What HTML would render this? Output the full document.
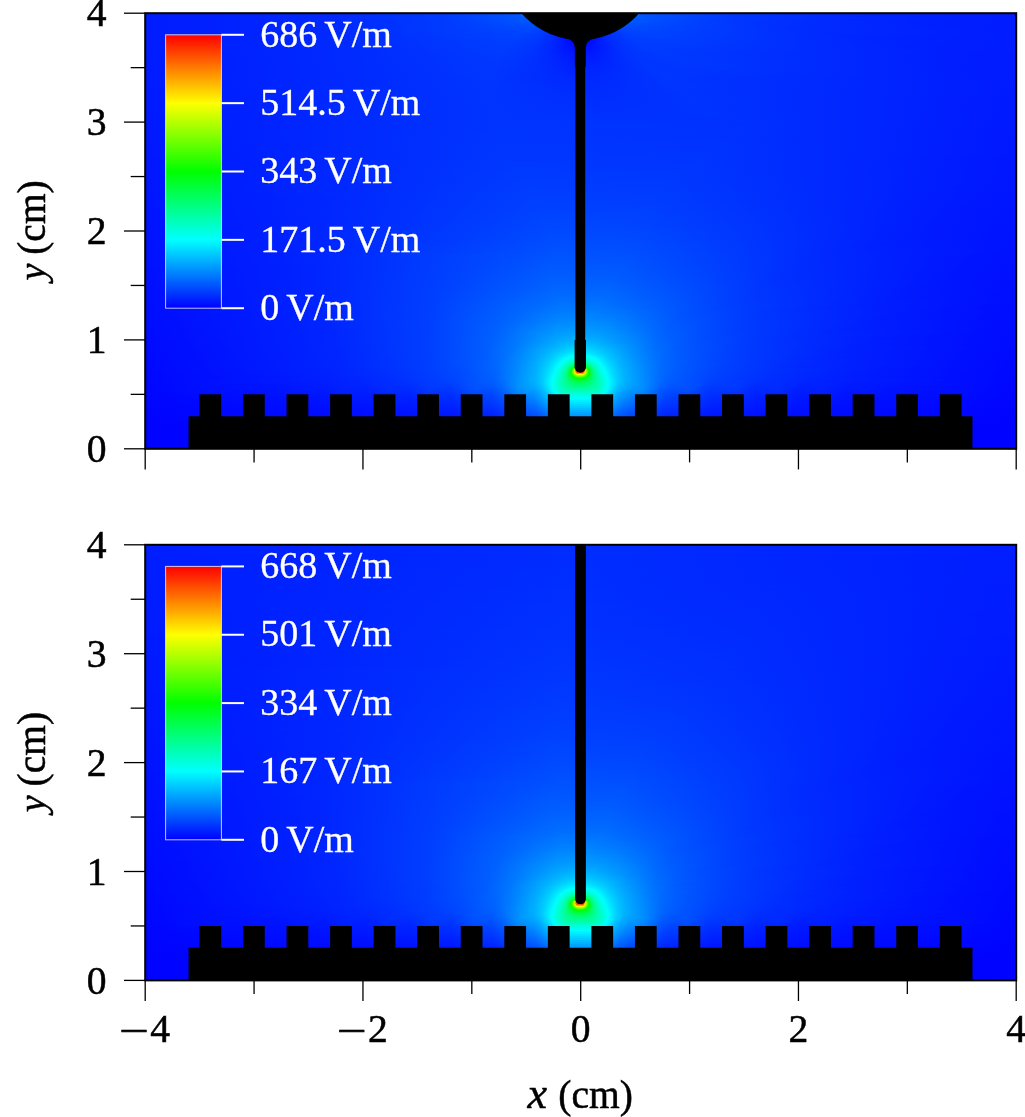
<!DOCTYPE html>
<html><head><meta charset="utf-8"><title>Field magnitude</title>
<style>
html,body{margin:0;padding:0;background:#fff;}
body{width:1025px;height:1117px;overflow:hidden;position:relative;font-family:"Liberation Serif",serif;}
svg{position:absolute;left:0;top:0;display:block}
.tk{stroke:#000;stroke-width:1.3}
.tl{font-family:"Liberation Serif",serif;font-size:39.6px;fill:#000;stroke:#000;stroke-width:0.5px}
.al{font-family:"Liberation Serif",serif;font-size:39.5px;fill:#000;stroke:#000;stroke-width:0.5px}
.it{font-style:italic}
.fld{position:absolute;left:145px;width:872px;height:436px;overflow:hidden;background:#0020ff}
.fld i{display:block;height:2px}
.fld i.a{height:1px}
.cb{font-family:"Liberation Serif",serif;font-size:38px;fill:#fff;stroke:#fff;stroke-width:0.3px}
</style></head><body>
<div class="fld" style="top:13px">
<i style="background:linear-gradient(90deg,#001cff 0,#0029ff 190px,#003bff 298px,#0053ff 368px,#0050ff 374px,#005fff 375px,#0073ff 376px,#0076ff 377px,#0062ff 380px,#0057ff 386px,#0056ff 389px,#0045ff 391px,#0041ff 393px,#0040ff 396px,#03f 410px,#0029ff 412px,#0027ff 416px,#001bff 419px,#0019ff 422px,#0015ff 425px,#000dff 427px,#000dff 430px,#0003ff 432px,#0003ff 438px,#000dff 440px,#000dff 443px,#0015ff 445px,#001bff 450px,#001bff 451px,#0027ff 454px,#0029ff 458px,#03f 460px,#0039ff 467px,#0041ff 477px,#0045ff 479px,#0056ff 481px,#005dff 488px,#0067ff 491px,#0076ff 493px,#0073ff 494px,#005fff 495px,#0050ff 496px,#0052ff 509px,#0039ff 580px,#0026ff 704px,#001cff 871px)"></i>
<i style="background:linear-gradient(90deg,#001cff 0,#0029ff 191px,#003cff 301px,#0054ff 373px,#0062ff 377px,#0057ff 385px,#0054ff 388px,#0045ff 390px,#0041ff 392px,#0041ff 395px,#0039ff 402px,#03f 409px,#0029ff 411px,#0028ff 415px,#001bff 419px,#001bff 421px,#0015ff 423px,#0014ff 425px,#000dff 427px,#000dff 429px,#0003ff 432px,#0005ff 439px,#000dff 441px,#0010ff 444px,#001bff 449px,#001bff 451px,#0028ff 455px,#0029ff 459px,#03f 461px,#0039ff 468px,#0042ff 477px,#0041ff 479px,#0045ff 480px,#0054ff 482px,#005fff 491px,#0062ff 493px,#0054ff 497px,#0038ff 586px,#0024ff 726px,#001cff 871px)"></i>
<i style="background:linear-gradient(90deg,#001cff 0,#0029ff 191px,#003cff 303px,#0054ff 373px,#005aff 379px,#05f 387px,#0041ff 389px,#0046ff 393px,#003dff 395px,#0038ff 404px,#03f 408px,#002aff 410px,#0026ff 415px,#001bff 418px,#0019ff 421px,#0015ff 424px,#000dff 426px,#000dff 429px,#0003ff 431px,#0003ff 439px,#000dff 441px,#000dff 444px,#0015ff 446px,#001bff 451px,#001bff 452px,#0029ff 456px,#002aff 460px,#03f 462px,#003aff 468px,#003dff 475px,#0046ff 477px,#0041ff 481px,#05f 483px,#005aff 493px,#0051ff 502px,#0036ff 593px,#0023ff 747px,#001cff 871px)"></i>
<i style="background:linear-gradient(90deg,#001cff 0,#0029ff 192px,#003cff 305px,#0056ff 385px,#0056ff 386px,#0041ff 388px,#0047ff 391px,#0045ff 392px,#003dff 394px,#003aff 401px,#0031ff 408px,#0029ff 410px,#0027ff 414px,#001bff 418px,#001bff 420px,#0015ff 422px,#0015ff 424px,#000dff 426px,#000dff 429px,#0003ff 431px,#0003ff 439px,#000dff 441px,#000dff 444px,#0015ff 446px,#0018ff 449px,#001fff 453px,#0029ff 457px,#0029ff 460px,#03f 463px,#003aff 469px,#003bff 473px,#003fff 477px,#0045ff 478px,#0047ff 479px,#0041ff 482px,#0056ff 484px,#0053ff 496px,#0039ff 577px,#0026ff 711px,#001cff 871px)"></i>
<i style="background:linear-gradient(90deg,#001cff 0,#0029ff 192px,#003cff 308px,#0054ff 382px,#0057ff 385px,#0042ff 387px,#004bff 390px,#0047ff 391px,#0040ff 392px,#0039ff 398px,#0038ff 402px,#0032ff 407px,#0029ff 409px,#0028ff 413px,#001bff 417px,#0019ff 420px,#0012ff 424px,#000dff 426px,#000dff 428px,#0003ff 431px,#0005ff 440px,#000dff 442px,#000eff 445px,#0015ff 447px,#001bff 452px,#001bff 453px,#0028ff 457px,#0029ff 461px,#0032ff 463px,#003aff 470px,#003cff 475px,#0040ff 478px,#0047ff 479px,#004bff 480px,#0042ff 483px,#0057ff 485px,#0049ff 518px,#0032ff 613px,#0020ff 782px,#001cff 871px)"></i>
<i style="background:linear-gradient(90deg,#001cff 0,#0029ff 193px,#003dff 311px,#0050ff 385px,#0048ff 387px,#004eff 389px,#0049ff 390px,#0040ff 391px,#003eff 392px,#003fff 394px,#0039ff 396px,#0038ff 401px,#03f 406px,#002aff 408px,#0029ff 412px,#001bff 417px,#001bff 419px,#0015ff 421px,#0015ff 423px,#000dff 425px,#000dff 428px,#0003ff 430px,#0003ff 440px,#000dff 442px,#000dff 445px,#0015ff 447px,#0015ff 449px,#001bff 451px,#001bff 453px,#0029ff 458px,#002aff 462px,#03f 464px,#003aff 472px,#003bff 475px,#0040ff 477px,#003eff 478px,#0040ff 479px,#0049ff 480px,#004eff 481px,#0048ff 483px,#0050ff 485px,#0032ff 613px,#0020ff 784px,#001cff 871px)"></i>
<i style="background:linear-gradient(90deg,#001cff 0,#0029ff 193px,#003dff 314px,#004cff 384px,#004dff 389px,#0040ff 391px,#04f 392px,#0042ff 393px,#003cff 394px,#003aff 395px,#003dff 397px,#0030ff 406px,#0029ff 408px,#0027ff 412px,#001fff 415px,#001bff 416px,#0019ff 419px,#0014ff 423px,#000dff 425px,#000dff 428px,#0003ff 430px,#0003ff 440px,#000dff 442px,#0010ff 446px,#0015ff 448px,#001bff 453px,#001bff 454px,#0024ff 456px,#0029ff 460px,#002bff 463px,#03f 465px,#003cff 474px,#003aff 475px,#003cff 476px,#0042ff 477px,#04f 478px,#0040ff 479px,#004dff 481px,#004cff 486px,#002eff 638px,#001eff 818px,#001cff 871px)"></i>
<i style="background:linear-gradient(90deg,#001cff 0,#0029ff 194px,#003eff 319px,#0049ff 383px,#0047ff 392px,#003cff 394px,#0040ff 395px,#0040ff 396px,#0036ff 400px,#0032ff 405px,#0029ff 407px,#0029ff 411px,#001fff 415px,#0015ff 421px,#0015ff 422px,#000dff 424px,#000dff 427px,#0003ff 430px,#0005ff 441px,#000dff 443px,#000dff 446px,#0015ff 448px,#0018ff 451px,#001fff 455px,#0029ff 460px,#0029ff 463px,#0032ff 465px,#003cff 473px,#0040ff 474px,#0040ff 475px,#003cff 476px,#0047ff 478px,#0049ff 500px,#002eff 641px,#001eff 823px,#001cff 871px)"></i>
<i style="background:linear-gradient(90deg,#001cff 0,#0029ff 194px,#003eff 324px,#0047ff 381px,#0042ff 394px,#04f 395px,#0036ff 399px,#0032ff 404px,#0029ff 406px,#002aff 410px,#001fff 414px,#001bff 415px,#0019ff 418px,#0015ff 422px,#000dff 424px,#000dff 427px,#0004ff 429px,#0004ff 441px,#000dff 443px,#000dff 446px,#0015ff 448px,#001bff 455px,#0024ff 457px,#0029ff 461px,#0029ff 464px,#0032ff 466px,#0039ff 472px,#04f 475px,#04f 480px,#0047ff 501px,#002cff 656px,#001dff 840px,#001cff 871px)"></i>
<i style="background:linear-gradient(90deg,#001cff 0,#0029ff 194px,#003fff 331px,#0045ff 381px,#003dff 397px,#0031ff 404px,#0029ff 406px,#002aff 409px,#0024ff 412px,#001bff 415px,#0018ff 418px,#0012ff 422px,#000dff 424px,#000bff 427px,#0003ff 430px,#0004ff 441px,#000dff 444px,#000eff 447px,#0015ff 449px,#0018ff 452px,#001eff 456px,#002aff 461px,#0029ff 464px,#0032ff 467px,#003fff 475px,#0045ff 499px,#0029ff 683px,#001cff 871px)"></i>
<i style="background:linear-gradient(90deg,#001cff 0,#002aff 195px,#0043ff 374px,#003bff 396px,#0032ff 404px,#002cff 405px,#002aff 409px,#001bff 415px,#01f 422px,#000dff 425px,#000aff 427px,#0003ff 430px,#0004ff 441px,#000dff 444px,#000eff 447px,#0015ff 450px,#001dff 456px,#0024ff 458px,#002bff 463px,#002cff 465px,#0035ff 467px,#0042ff 487px,#0041ff 525px,#0029ff 680px,#001cff 871px)"></i>
<i style="background:linear-gradient(90deg,#001cff 0,#002aff 195px,#0042ff 371px,#003aff 394px,#002bff 409px,#0026ff 410px,#0025ff 412px,#001cff 415px,#0010ff 422px,#0003ff 430px,#0004ff 441px,#0015ff 450px,#001aff 453px,#001dff 456px,#0025ff 458px,#0026ff 460px,#002dff 462px,#003eff 483px,#0042ff 512px,#0026ff 705px,#001cff 871px)"></i>
<i style="background:linear-gradient(90deg,#001cff 0,#002aff 196px,#0041ff 368px,#0039ff 393px,#0025ff 412px,#001fff 414px,#001eff 416px,#0017ff 418px,#0014ff 421px,#000dff 424px,#0003ff 430px,#0004ff 441px,#001aff 453px,#001fff 455px,#0021ff 457px,#002bff 462px,#003cff 483px,#0041ff 512px,#0024ff 724px,#001cff 871px)"></i>
<i style="background:linear-gradient(90deg,#001cff 0,#002aff 196px,#003fff 366px,#0038ff 392px,#0024ff 411px,#0008ff 427px,#0003ff 431px,#0004ff 441px,#001fff 456px,#0032ff 471px,#003eff 494px,#003dff 541px,#0024ff 726px,#001cff 871px)"></i>
<i style="background:linear-gradient(90deg,#001cff 0,#002aff 197px,#003eff 364px,#0037ff 391px,#0025ff 410px,#0006ff 430px,#0008ff 442px,#002dff 467px,#003cff 490px,#003dff 529px,#0023ff 739px,#001cff 871px)"></i>
<i style="background:linear-gradient(90deg,#001cff 0,#002aff 197px,#003eff 362px,#0036ff 390px,#0025ff 409px,#000aff 430px,#000cff 443px,#002fff 470px,#003cff 495px,#003bff 542px,#02f 751px,#001cff 871px)"></i>
<i style="background:linear-gradient(90deg,#001cff 0,#002aff 198px,#003dff 360px,#0035ff 390px,#0023ff 410px,#000dff 429px,#000fff 444px,#0030ff 473px,#003cff 499px,#0039ff 553px,#0021ff 763px,#001cff 871px)"></i>
<i style="background:linear-gradient(90deg,#001cff 0,#002aff 198px,#003cff 358px,#0034ff 389px,#0023ff 410px,#0010ff 429px,#0012ff 445px,#0031ff 475px,#003bff 503px,#0037ff 565px,#0020ff 774px,#001cff 871px)"></i>
<i style="background:linear-gradient(90deg,#001cff 0,#002aff 199px,#003bff 357px,#03f 389px,#0021ff 412px,#0012ff 429px,#0015ff 446px,#0031ff 477px,#003bff 507px,#0035ff 581px,#0020ff 788px,#001cff 871px)"></i>
<i style="background:linear-gradient(90deg,#001bff 0,#002aff 199px,#003bff 355px,#03f 389px,#001eff 415px,#0014ff 430px,#0017ff 447px,#0032ff 480px,#003aff 513px,#002fff 627px,#001dff 827px,#001bff 871px)"></i>
<i style="background:linear-gradient(90deg,#001bff 0,#002aff 200px,#003aff 354px,#0032ff 389px,#0017ff 429px,#001aff 448px,#0032ff 482px,#003aff 517px,#001eff 810px,#001bff 871px)"></i>
<i style="background:linear-gradient(90deg,#001bff 0,#002aff 200px,#0039ff 353px,#0031ff 389px,#0019ff 429px,#001cff 449px,#03f 484px,#0039ff 522px,#001eff 810px,#001bff 871px)"></i>
<i style="background:linear-gradient(90deg,#001bff 0,#002aff 201px,#0039ff 352px,#0031ff 389px,#001aff 429px,#001dff 450px,#03f 487px,#0039ff 528px,#001eff 810px,#001bff 871px)"></i>
<i style="background:linear-gradient(90deg,#001bff 0,#002aff 201px,#0038ff 350px,#0030ff 389px,#001cff 429px,#0020ff 452px,#0034ff 490px,#0038ff 535px,#001eff 810px,#001bff 871px)"></i>
<i style="background:linear-gradient(90deg,#001bff 0,#002aff 202px,#0038ff 350px,#0030ff 390px,#001dff 429px,#0021ff 453px,#0034ff 493px,#0038ff 542px,#001eff 811px,#001bff 871px)"></i>
<i style="background:linear-gradient(90deg,#001bff 0,#002aff 202px,#0038ff 349px,#002fff 391px,#001fff 429px,#0023ff 454px,#0034ff 496px,#0037ff 549px,#001eff 812px,#001bff 871px)"></i>
<i style="background:linear-gradient(90deg,#001bff 0,#002aff 203px,#0037ff 348px,#002fff 391px,#0020ff 429px,#0024ff 456px,#0035ff 500px,#0036ff 559px,#001eff 814px,#001bff 871px)"></i>
<i style="background:linear-gradient(90deg,#001bff 0,#002aff 204px,#0037ff 347px,#002eff 392px,#0021ff 430px,#0026ff 458px,#0035ff 504px,#0035ff 569px,#001dff 817px,#001bff 871px)"></i>
<i style="background:linear-gradient(90deg,#001bff 0,#002aff 204px,#0037ff 346px,#002eff 393px,#02f 430px,#0027ff 459px,#0035ff 507px,#0034ff 578px,#001dff 821px,#001bff 871px)"></i>
<i style="background:linear-gradient(90deg,#001bff 0,#002aff 205px,#0036ff 346px,#002dff 395px,#0023ff 431px,#0029ff 462px,#0035ff 511px,#0032ff 591px,#001dff 826px,#001bff 871px)"></i>
<i style="background:linear-gradient(90deg,#001bff 0,#002aff 205px,#0036ff 345px,#002dff 396px,#0024ff 433px,#002aff 466px,#0036ff 517px,#0030ff 615px,#001cff 837px,#001bff 871px)"></i>
<i style="background:linear-gradient(90deg,#001bff 0,#002aff 206px,#0036ff 345px,#002cff 399px,#0025ff 435px,#002dff 472px,#0036ff 525px,#002aff 668px,#001bff 871px)"></i>
<i style="background:linear-gradient(90deg,#001bff 0,#002aff 206px,#0035ff 345px,#002cff 402px,#0026ff 439px,#0035ff 522px,#002cff 644px,#001bff 853px,#001bff 871px)"></i>
<i style="background:linear-gradient(90deg,#001bff 0,#002aff 207px,#0035ff 344px,#002cff 404px,#0027ff 443px,#0035ff 523px,#002cff 650px,#001bff 857px,#001bff 871px)"></i>
<i style="background:linear-gradient(90deg,#001bff 0,#002aff 207px,#0035ff 344px,#002bff 408px,#0029ff 450px,#0035ff 524px,#002bff 654px,#001bff 861px,#001bff 871px)"></i>
<i style="background:linear-gradient(90deg,#001bff 0,#002aff 207px,#0035ff 344px,#0029ff 440px,#0035ff 530px,#001bff 863px,#001bff 871px)"></i>
<i style="background:linear-gradient(90deg,#001bff 0,#002aff 208px,#0035ff 344px,#0029ff 442px,#0035ff 532px,#001bff 863px,#001bff 871px)"></i>
<i style="background:linear-gradient(90deg,#001aff 0,#002aff 208px,#0035ff 344px,#002aff 443px,#0035ff 534px,#001bff 863px,#001aff 871px)"></i>
<i style="background:linear-gradient(90deg,#001aff 0,#002aff 209px,#0034ff 344px,#002bff 444px,#0034ff 537px,#001bff 862px,#001aff 871px)"></i>
<i style="background:linear-gradient(90deg,#001aff 0,#002aff 209px,#0034ff 344px,#002bff 445px,#0034ff 539px,#001bff 862px,#001aff 871px)"></i>
<i style="background:linear-gradient(90deg,#001aff 0,#002aff 209px,#0034ff 344px,#002cff 447px,#0034ff 541px,#001bff 862px,#001aff 871px)"></i>
<i style="background:linear-gradient(90deg,#001aff 0,#002aff 210px,#0034ff 344px,#002cff 448px,#0034ff 543px,#001aff 862px,#001aff 871px)"></i>
<i style="background:linear-gradient(90deg,#001aff 0,#002aff 210px,#0034ff 344px,#002dff 449px,#0034ff 546px,#001aff 862px,#001aff 871px)"></i>
<i style="background:linear-gradient(90deg,#001aff 0,#002aff 210px,#0034ff 345px,#002dff 451px,#0034ff 548px,#001aff 861px,#001aff 871px)"></i>
<i style="background:linear-gradient(90deg,#001aff 0,#002aff 210px,#0034ff 345px,#002eff 453px,#0034ff 550px,#001aff 861px,#001aff 871px)"></i>
<i style="background:linear-gradient(90deg,#001aff 0,#002aff 211px,#0034ff 346px,#002eff 454px,#0034ff 552px,#001aff 861px,#001aff 871px)"></i>
<i style="background:linear-gradient(90deg,#001aff 0,#002aff 211px,#0034ff 346px,#002fff 457px,#03f 555px,#001aff 860px,#001aff 871px)"></i>
<i style="background:linear-gradient(90deg,#001aff 0,#002aff 211px,#0034ff 346px,#002fff 459px,#03f 557px,#001aff 860px,#001aff 871px)"></i>
<i style="background:linear-gradient(90deg,#001aff 0,#002aff 211px,#0034ff 347px,#0030ff 461px,#03f 560px,#001aff 859px,#001aff 871px)"></i>
<i style="background:linear-gradient(90deg,#001aff 0,#002aff 211px,#0034ff 347px,#0030ff 464px,#03f 564px,#001aff 858px,#001aff 871px)"></i>
<i style="background:linear-gradient(90deg,#0019ff 0,#002aff 211px,#0034ff 348px,#0031ff 467px,#03f 567px,#001aff 858px,#0019ff 871px)"></i>
<i style="background:linear-gradient(90deg,#0019ff 0,#002aff 211px,#0034ff 348px,#0031ff 470px,#0032ff 571px,#001aff 857px,#0019ff 871px)"></i>
<i style="background:linear-gradient(90deg,#0019ff 0,#002aff 211px,#0034ff 349px,#0032ff 473px,#0032ff 575px,#001aff 856px,#0019ff 871px)"></i>
<i style="background:linear-gradient(90deg,#0019ff 0,#002aff 211px,#0034ff 350px,#0032ff 478px,#0032ff 581px,#001aff 855px,#0019ff 871px)"></i>
<i style="background:linear-gradient(90deg,#0019ff 0,#002aff 211px,#0034ff 350px,#03f 483px,#0031ff 589px,#001aff 854px,#0019ff 871px)"></i>
<i style="background:linear-gradient(90deg,#0019ff 0,#002aff 211px,#0034ff 351px,#03f 489px,#0030ff 598px,#001aff 853px,#0019ff 871px)"></i>
<i style="background:linear-gradient(90deg,#0019ff 0,#002aff 210px,#0034ff 351px,#0034ff 499px,#002fff 616px,#001aff 854px,#0019ff 871px)"></i>
<i style="background:linear-gradient(90deg,#0019ff 0,#002aff 210px,#0034ff 352px,#0032ff 582px,#001aff 855px,#0019ff 871px)"></i>
<i style="background:linear-gradient(90deg,#0019ff 0,#002aff 210px,#0034ff 353px,#0032ff 582px,#0019ff 855px,#0019ff 871px)"></i>
<i style="background:linear-gradient(90deg,#0019ff 0,#002aff 210px,#0035ff 354px,#0032ff 581px,#0019ff 855px,#0019ff 871px)"></i>
<i style="background:linear-gradient(90deg,#0019ff 0,#002aff 209px,#0035ff 355px,#0032ff 580px,#0019ff 855px,#0019ff 871px)"></i>
<i style="background:linear-gradient(90deg,#0019ff 0,#002aff 209px,#0035ff 355px,#0032ff 579px,#0019ff 855px,#0019ff 871px)"></i>
<i style="background:linear-gradient(90deg,#0018ff 0,#002aff 208px,#0035ff 356px,#0032ff 577px,#0019ff 855px,#0018ff 871px)"></i>
<i style="background:linear-gradient(90deg,#0018ff 0,#002aff 208px,#0035ff 357px,#0032ff 576px,#0019ff 854px,#0018ff 871px)"></i>
<i style="background:linear-gradient(90deg,#0018ff 0,#002aff 207px,#0035ff 358px,#03f 575px,#0019ff 854px,#0018ff 871px)"></i>
<i style="background:linear-gradient(90deg,#0018ff 0,#002aff 207px,#0036ff 359px,#03f 573px,#0019ff 854px,#0018ff 871px)"></i>
<i style="background:linear-gradient(90deg,#0018ff 0,#002aff 206px,#0036ff 359px,#03f 571px,#0019ff 854px,#0018ff 871px)"></i>
<i style="background:linear-gradient(90deg,#0018ff 0,#002aff 206px,#0036ff 361px,#03f 570px,#0019ff 853px,#0018ff 871px)"></i>
<i style="background:linear-gradient(90deg,#0018ff 0,#002aff 205px,#0036ff 361px,#03f 568px,#0019ff 853px,#0018ff 871px)"></i>
<i style="background:linear-gradient(90deg,#0018ff 0,#0029ff 204px,#0036ff 362px,#0034ff 566px,#0019ff 853px,#0018ff 871px)"></i>
<i style="background:linear-gradient(90deg,#0018ff 0,#0029ff 203px,#0037ff 363px,#0034ff 563px,#0019ff 853px,#0018ff 871px)"></i>
<i style="background:linear-gradient(90deg,#0018ff 0,#0029ff 203px,#0037ff 364px,#0034ff 561px,#0018ff 852px,#0018ff 871px)"></i>
<i style="background:linear-gradient(90deg,#0017ff 0,#0029ff 202px,#0037ff 365px,#0035ff 558px,#0018ff 852px,#0017ff 871px)"></i>
<i style="background:linear-gradient(90deg,#0017ff 0,#0029ff 202px,#0037ff 366px,#0035ff 556px,#0018ff 852px,#0017ff 871px)"></i>
<i style="background:linear-gradient(90deg,#0017ff 0,#0029ff 201px,#0038ff 367px,#0035ff 553px,#0018ff 851px,#0017ff 871px)"></i>
<i style="background:linear-gradient(90deg,#0017ff 0,#0029ff 200px,#0038ff 368px,#0036ff 550px,#0018ff 851px,#0017ff 871px)"></i>
<i style="background:linear-gradient(90deg,#0017ff 0,#0029ff 199px,#0038ff 369px,#0036ff 547px,#0018ff 850px,#0017ff 871px)"></i>
<i style="background:linear-gradient(90deg,#0017ff 0,#0029ff 199px,#0039ff 371px,#0036ff 544px,#0018ff 850px,#0017ff 871px)"></i>
<i style="background:linear-gradient(90deg,#0017ff 0,#0029ff 198px,#0039ff 372px,#0037ff 541px,#0018ff 849px,#0017ff 871px)"></i>
<i style="background:linear-gradient(90deg,#0017ff 0,#0029ff 197px,#0039ff 373px,#0037ff 537px,#0018ff 849px,#0017ff 871px)"></i>
<i style="background:linear-gradient(90deg,#0017ff 0,#0029ff 196px,#003aff 374px,#0038ff 534px,#0018ff 848px,#0017ff 871px)"></i>
<i style="background:linear-gradient(90deg,#0016ff 0,#0029ff 196px,#003aff 375px,#0038ff 531px,#0018ff 848px,#0016ff 871px)"></i>
<i style="background:linear-gradient(90deg,#0016ff 0,#0028ff 195px,#003aff 376px,#0038ff 528px,#0018ff 847px,#0016ff 871px)"></i>
<i style="background:linear-gradient(90deg,#0016ff 0,#0028ff 194px,#003bff 378px,#0039ff 526px,#0018ff 846px,#0016ff 871px)"></i>
<i style="background:linear-gradient(90deg,#0016ff 0,#0028ff 193px,#003bff 379px,#0039ff 523px,#0018ff 845px,#0016ff 871px)"></i>
<i style="background:linear-gradient(90deg,#0016ff 0,#0028ff 193px,#003cff 380px,#003aff 520px,#0018ff 844px,#0016ff 871px)"></i>
<i style="background:linear-gradient(90deg,#0016ff 0,#0028ff 192px,#003cff 382px,#003aff 519px,#0018ff 842px,#0016ff 871px)"></i>
<i style="background:linear-gradient(90deg,#0016ff 0,#0028ff 191px,#003dff 383px,#003bff 516px,#0017ff 841px,#0016ff 871px)"></i>
<i style="background:linear-gradient(90deg,#0016ff 0,#0028ff 190px,#003dff 384px,#003bff 514px,#0018ff 839px,#0016ff 871px)"></i>
<i style="background:linear-gradient(90deg,#0016ff 0,#0028ff 189px,#003eff 386px,#003cff 513px,#0018ff 837px,#0016ff 871px)"></i>
<i style="background:linear-gradient(90deg,#0015ff 0,#0028ff 189px,#003eff 387px,#003cff 511px,#0018ff 835px,#0015ff 871px)"></i>
<i style="background:linear-gradient(90deg,#0015ff 0,#0028ff 188px,#003fff 389px,#003dff 510px,#0018ff 833px,#0015ff 871px)"></i>
<i style="background:linear-gradient(90deg,#0015ff 0,#0027ff 187px,#003fff 390px,#003dff 508px,#0018ff 831px,#0015ff 871px)"></i>
<i style="background:linear-gradient(90deg,#0015ff 0,#0027ff 187px,#0040ff 392px,#003dff 508px,#0018ff 828px,#0015ff 871px)"></i>
<i style="background:linear-gradient(90deg,#0015ff 0,#0027ff 186px,#0040ff 393px,#003eff 506px,#0018ff 826px,#0015ff 871px)"></i>
<i style="background:linear-gradient(90deg,#0015ff 0,#0027ff 185px,#0041ff 394px,#003eff 505px,#0018ff 824px,#0015ff 871px)"></i>
<i style="background:linear-gradient(90deg,#0015ff 0,#0027ff 184px,#0041ff 396px,#003fff 505px,#0018ff 821px,#0015ff 871px)"></i>
<i style="background:linear-gradient(90deg,#0015ff 0,#0027ff 184px,#0042ff 397px,#0040ff 503px,#0018ff 818px,#0015ff 871px)"></i>
<i style="background:linear-gradient(90deg,#0014ff 0,#0027ff 183px,#0042ff 398px,#0040ff 502px,#0018ff 815px,#0014ff 871px)"></i>
<i style="background:linear-gradient(90deg,#0014ff 0,#0027ff 182px,#0043ff 400px,#0040ff 502px,#0018ff 812px,#0014ff 871px)"></i>
<i style="background:linear-gradient(90deg,#0014ff 0,#0027ff 182px,#04f 401px,#0041ff 501px,#0019ff 809px,#0014ff 871px)"></i>
<i style="background:linear-gradient(90deg,#0014ff 0,#0027ff 181px,#04f 402px,#0042ff 500px,#0019ff 806px,#0014ff 871px)"></i>
<i style="background:linear-gradient(90deg,#0014ff 0,#0026ff 180px,#0045ff 403px,#0042ff 499px,#0019ff 803px,#0014ff 871px)"></i>
<i style="background:linear-gradient(90deg,#0014ff 0,#0026ff 180px,#0046ff 404px,#0043ff 498px,#0019ff 800px,#0014ff 871px)"></i>
<i style="background:linear-gradient(90deg,#0014ff 0,#0026ff 179px,#0046ff 405px,#0043ff 497px,#0019ff 796px,#0014ff 871px)"></i>
<i style="background:linear-gradient(90deg,#0014ff 0,#0026ff 179px,#0047ff 406px,#04f 496px,#001aff 793px,#0013ff 871px)"></i>
<i style="background:linear-gradient(90deg,#0013ff 0,#0026ff 178px,#0048ff 407px,#0045ff 495px,#001aff 789px,#0013ff 871px)"></i>
<i style="background:linear-gradient(90deg,#0013ff 0,#0026ff 177px,#0048ff 408px,#0045ff 495px,#001aff 785px,#0013ff 871px)"></i>
<i style="background:linear-gradient(90deg,#0013ff 0,#0026ff 177px,#0049ff 409px,#0046ff 494px,#001bff 781px,#0013ff 871px)"></i>
<i style="background:linear-gradient(90deg,#0013ff 0,#0026ff 176px,#004aff 409px,#0047ff 492px,#001bff 777px,#0013ff 871px)"></i>
<i style="background:linear-gradient(90deg,#0013ff 0,#0026ff 176px,#004bff 410px,#0048ff 492px,#001bff 773px,#0013ff 871px)"></i>
<i style="background:linear-gradient(90deg,#0013ff 0,#0026ff 175px,#004bff 410px,#0048ff 490px,#001cff 768px,#0013ff 871px)"></i>
<i style="background:linear-gradient(90deg,#0013ff 0,#0026ff 175px,#004cff 411px,#0049ff 490px,#001cff 764px,#0013ff 871px)"></i>
<i style="background:linear-gradient(90deg,#0012ff 0,#0025ff 174px,#004dff 411px,#004aff 488px,#001dff 756px,#0012ff 871px)"></i>
<i style="background:linear-gradient(90deg,#0012ff 0,#0025ff 174px,#004eff 412px,#004bff 488px,#001eff 747px,#0012ff 871px)"></i>
<i style="background:linear-gradient(90deg,#0012ff 0,#0025ff 173px,#004fff 412px,#004cff 486px,#001fff 738px,#0012ff 871px)"></i>
<i style="background:linear-gradient(90deg,#0012ff 0,#0025ff 173px,#0050ff 413px,#004dff 486px,#0020ff 729px,#0012ff 871px)"></i>
<i style="background:linear-gradient(90deg,#0012ff 0,#0025ff 172px,#0051ff 413px,#004eff 484px,#02f 720px,#0012ff 871px)"></i>
<i style="background:linear-gradient(90deg,#0012ff 0,#0025ff 172px,#0052ff 413px,#004eff 484px,#0023ff 710px,#0012ff 871px)"></i>
<i style="background:linear-gradient(90deg,#0012ff 0,#0025ff 172px,#0052ff 413px,#004fff 484px,#0025ff 700px,#0012ff 871px)"></i>
<i style="background:linear-gradient(90deg,#01f 0,#0025ff 171px,#004aff 358px,#0054ff 421px,#004fff 489px,#0027ff 688px,#0012ff 859px,#01f 871px)"></i>
<i style="background:linear-gradient(90deg,#01f 0,#0025ff 171px,#0049ff 350px,#0054ff 416px,#0051ff 486px,#0028ff 678px,#0013ff 848px,#01f 871px)"></i>
<i style="background:linear-gradient(90deg,#01f 0,#0025ff 171px,#0048ff 344px,#05f 412px,#0052ff 483px,#002aff 670px,#0013ff 839px,#01f 871px)"></i>
<i style="background:linear-gradient(90deg,#01f 0,#0025ff 170px,#0047ff 337px,#05f 409px,#0053ff 480px,#002bff 666px,#0014ff 834px,#01f 871px)"></i>
<i style="background:linear-gradient(90deg,#01f 0,#0025ff 170px,#0046ff 332px,#0056ff 407px,#0054ff 477px,#002bff 663px,#0014ff 829px,#01f 871px)"></i>
<i style="background:linear-gradient(90deg,#01f 0,#0025ff 170px,#0045ff 328px,#0057ff 406px,#0056ff 475px,#002cff 658px,#0015ff 823px,#01f 871px)"></i>
<i style="background:linear-gradient(90deg,#01f 0,#0024ff 170px,#0045ff 324px,#0058ff 405px,#0057ff 473px,#002cff 656px,#0015ff 821px,#0010ff 871px)"></i>
<i style="background:linear-gradient(90deg,#0010ff 0,#0024ff 169px,#04f 320px,#0059ff 405px,#0058ff 471px,#002dff 653px,#0015ff 819px,#0010ff 871px)"></i>
<i style="background:linear-gradient(90deg,#0010ff 0,#0024ff 169px,#04f 317px,#005aff 405px,#0059ff 470px,#002eff 650px,#0015ff 816px,#0010ff 871px)"></i>
<i style="background:linear-gradient(90deg,#0010ff 0,#0024ff 169px,#0043ff 315px,#005bff 406px,#005aff 470px,#002eff 646px,#0015ff 812px,#0010ff 871px)"></i>
<i style="background:linear-gradient(90deg,#0010ff 0,#0024ff 169px,#0043ff 312px,#005cff 406px,#005bff 468px,#002fff 643px,#0015ff 809px,#0010ff 871px)"></i>
<i style="background:linear-gradient(90deg,#0010ff 0,#0024ff 169px,#0043ff 310px,#005dff 407px,#005cff 468px,#0030ff 639px,#0016ff 804px,#0010ff 871px)"></i>
<i style="background:linear-gradient(90deg,#0010ff 0,#0024ff 169px,#0042ff 308px,#005eff 407px,#005eff 467px,#0030ff 636px,#0016ff 801px,#0010ff 871px)"></i>
<i style="background:linear-gradient(90deg,#000fff 0,#0024ff 169px,#0042ff 306px,#0060ff 408px,#005fff 466px,#0031ff 632px,#0017ff 796px,#000fff 871px)"></i>
<i style="background:linear-gradient(90deg,#000fff 0,#0024ff 169px,#0042ff 304px,#0061ff 408px,#0060ff 465px,#0032ff 629px,#0017ff 792px,#000fff 871px)"></i>
<i style="background:linear-gradient(90deg,#000fff 0,#0024ff 169px,#0042ff 302px,#0062ff 409px,#0062ff 464px,#03f 625px,#0017ff 787px,#000fff 871px)"></i>
<i style="background:linear-gradient(90deg,#000fff 0,#0024ff 169px,#0041ff 300px,#0063ff 409px,#0063ff 463px,#0034ff 622px,#0018ff 783px,#000fff 871px)"></i>
<i style="background:linear-gradient(90deg,#000fff 0,#0024ff 169px,#0041ff 299px,#0065ff 410px,#0065ff 463px,#0035ff 618px,#0018ff 777px,#000fff 871px)"></i>
<i style="background:linear-gradient(90deg,#000fff 0,#0024ff 169px,#0041ff 297px,#06f 410px,#06f 462px,#0036ff 614px,#0019ff 771px,#000fff 871px)"></i>
<i style="background:linear-gradient(90deg,#000eff 0,#0024ff 169px,#0041ff 296px,#0068ff 411px,#0068ff 461px,#0036ff 611px,#001aff 766px,#000eff 871px)"></i>
<i style="background:linear-gradient(90deg,#000eff 0,#0024ff 170px,#0041ff 295px,#006aff 412px,#0069ff 461px,#0038ff 606px,#001bff 759px,#000eff 871px)"></i>
<i style="background:linear-gradient(90deg,#000eff 0,#0024ff 170px,#0041ff 294px,#006bff 412px,#006bff 460px,#0039ff 603px,#001bff 754px,#000eff 871px)"></i>
<i style="background:linear-gradient(90deg,#000eff 0,#0024ff 170px,#0040ff 292px,#006dff 413px,#006dff 459px,#003aff 599px,#001cff 747px,#000eff 871px)"></i>
<i style="background:linear-gradient(90deg,#000eff 0,#0024ff 171px,#0040ff 292px,#006fff 413px,#006fff 458px,#003bff 596px,#001dff 742px,#000eff 871px)"></i>
<i style="background:linear-gradient(90deg,#000eff 0,#0024ff 171px,#0040ff 290px,#0071ff 414px,#0071ff 458px,#003cff 591px,#001fff 729px,#000eff 871px)"></i>
<i style="background:linear-gradient(90deg,#000dff 0,#0024ff 172px,#0040ff 290px,#06f 379px,#0074ff 420px,#0072ff 461px,#003fff 583px,#0023ff 706px,#000dff 871px)"></i>
<i style="background:linear-gradient(90deg,#000dff 0,#0024ff 172px,#0040ff 289px,#0064ff 374px,#0076ff 416px,#0075ff 457px,#005eff 508px,#003cff 595px,#001eff 735px,#000dff 871px)"></i>
<i style="background:linear-gradient(90deg,#000dff 0,#0024ff 173px,#0040ff 288px,#0063ff 370px,#07f 414px,#0078ff 454px,#0065ff 496px,#0042ff 574px,#0028ff 677px,#000fff 845px,#000dff 871px)"></i>
<i style="background:linear-gradient(90deg,#000dff 0,#0024ff 174px,#0040ff 288px,#0063ff 368px,#0079ff 413px,#007bff 451px,#006bff 489px,#004aff 555px,#0030ff 639px,#0016ff 789px,#000dff 871px)"></i>
<i style="background:linear-gradient(90deg,#000dff 0,#0024ff 174px,#0040ff 287px,#0062ff 365px,#007bff 412px,#007eff 448px,#006fff 484px,#0050ff 542px,#0035ff 618px,#001aff 761px,#000dff 871px)"></i>
<i style="background:linear-gradient(90deg,#000dff 0,#0024ff 175px,#003fff 286px,#0062ff 363px,#007eff 412px,#0081ff 446px,#0073ff 480px,#0053ff 537px,#0037ff 612px,#001bff 752px,#000dff 871px)"></i>
<i style="background:linear-gradient(90deg,#000cff 0,#0024ff 176px,#0040ff 286px,#0062ff 361px,#0080ff 412px,#0084ff 444px,#0078ff 476px,#0054ff 534px,#0038ff 609px,#001bff 747px,#000cff 871px)"></i>
<i style="background:linear-gradient(90deg,#000cff 0,#0025ff 177px,#0040ff 286px,#0062ff 360px,#0083ff 412px,#0087ff 442px,#007cff 472px,#0056ff 532px,#0038ff 607px,#001cff 743px,#000cff 871px)"></i>
<i style="background:linear-gradient(90deg,#000cff 0,#0025ff 178px,#003fff 285px,#0061ff 358px,#0086ff 412px,#008aff 440px,#0081ff 467px,#0057ff 531px,#0039ff 606px,#001cff 740px,#000cff 871px)"></i>
<i style="background:linear-gradient(90deg,#000cff 0,#0025ff 179px,#0040ff 285px,#0061ff 357px,#0089ff 413px,#008eff 440px,#0085ff 466px,#0058ff 529px,#003aff 603px,#001dff 735px,#000cff 871px)"></i>
<i style="background:linear-gradient(90deg,#000cff 0,#0025ff 180px,#0040ff 285px,#0062ff 356px,#008dff 413px,#0091ff 440px,#0089ff 463px,#005aff 527px,#003bff 600px,#001eff 730px,#000cff 871px)"></i>
<i style="background:linear-gradient(90deg,#000cff 0,#0025ff 181px,#003fff 284px,#0061ff 354px,#0090ff 413px,#0094ff 441px,#008bff 465px,#005cff 524px,#003cff 596px,#0020ff 718px,#000cff 871px)"></i>
<i style="background:linear-gradient(90deg,#000bff 0,#0025ff 182px,#003fff 284px,#0061ff 353px,#0092ff 412px,#0097ff 436px,#0091ff 460px,#005cff 524px,#003cff 595px,#0020ff 714px,#000bff 871px)"></i>
<i style="background:linear-gradient(90deg,#000bff 0,#0025ff 183px,#003fff 284px,#0061ff 352px,#0094ff 410px,#009bff 432px,#0096ff 456px,#0083ff 480px,#005fff 521px,#003eff 590px,#0023ff 699px,#000bff 871px)"></i>
<i class="a" style="background:linear-gradient(90deg,#000bff 0,#0025ff 184px,#003fff 284px,#0061ff 351px,#0087ff 392px,#009aff 417px,#009eff 442px,#0092ff 466px,#0061ff 519px,#003fff 586px,#0025ff 687px,#000bff 871px)"></i>
<i class="a" style="background:linear-gradient(90deg,#000bff 0,#0025ff 184px,#003fff 284px,#0061ff 351px,#0086ff 390px,#009bff 415px,#00a0ff 437px,#09f 458px,#0084ff 482px,#0060ff 520px,#003fff 587px,#0025ff 689px,#000bff 871px)"></i>
<i class="a" style="background:linear-gradient(90deg,#000bff 0,#0025ff 185px,#003fff 284px,#0060ff 350px,#0083ff 386px,#009aff 411px,#00a2ff 431px,#009eff 453px,#0087ff 480px,#0062ff 518px,#0041ff 583px,#0027ff 677px,#000cff 857px,#000bff 871px)"></i>
<i class="a" style="background:linear-gradient(90deg,#000bff 0,#0026ff 186px,#003fff 284px,#0061ff 350px,#0083ff 385px,#009cff 411px,#00a4ff 431px,#00a0ff 452px,#0089ff 480px,#0063ff 517px,#0043ff 576px,#002cff 657px,#0013ff 803px,#000bff 871px)"></i>
<i class="a" style="background:linear-gradient(90deg,#000bff 0,#0025ff 186px,#003fff 284px,#0060ff 349px,#0081ff 383px,#009dff 410px,#00a6ff 430px,#00a3ff 452px,#0089ff 481px,#0063ff 517px,#04f 574px,#002dff 652px,#0014ff 793px,#000bff 871px)"></i>
<i class="a" style="background:linear-gradient(90deg,#000bff 0,#0026ff 187px,#003fff 284px,#0060ff 349px,#0081ff 382px,#009fff 410px,#00a9ff 429px,#00a5ff 451px,#008aff 481px,#0064ff 516px,#0047ff 567px,#002fff 640px,#0016ff 775px,#000bff 871px)"></i>
<i class="a" style="background:linear-gradient(90deg,#000bff 0,#0026ff 187px,#003fff 284px,#0060ff 348px,#0080ff 380px,#00a0ff 409px,#00abff 428px,#00a8ff 450px,#008bff 481px,#0065ff 515px,#004bff 560px,#0032ff 628px,#0019ff 759px,#000bff 871px)"></i>
<i class="a" style="background:linear-gradient(90deg,#000bff 0,#0026ff 188px,#003fff 284px,#0060ff 348px,#007fff 379px,#00a2ff 410px,#00aeff 428px,#00abff 449px,#008cff 481px,#0067ff 514px,#004fff 552px,#0036ff 614px,#001bff 740px,#000bff 871px)"></i>
<i class="a" style="background:linear-gradient(90deg,#000aff 0,#0026ff 188px,#003fff 284px,#0060ff 347px,#007eff 377px,#00a5ff 411px,#00b0ff 429px,#00adff 449px,#008cff 482px,#0067ff 514px,#0050ff 550px,#0037ff 611px,#001cff 736px,#000aff 871px)"></i>
<i class="a" style="background:linear-gradient(90deg,#000aff 0,#0026ff 189px,#003fff 284px,#0060ff 347px,#007dff 376px,#00a9ff 413px,#00b3ff 429px,#00b0ff 449px,#008cff 483px,#0067ff 514px,#0051ff 548px,#0038ff 607px,#001dff 730px,#000aff 871px)"></i>
<i class="a" style="background:linear-gradient(90deg,#000aff 0,#0026ff 189px,#003fff 284px,#0060ff 347px,#007eff 376px,#00afff 416px,#00b6ff 431px,#00b3ff 449px,#008aff 485px,#0067ff 515px,#004fff 552px,#0036ff 613px,#001cff 738px,#000aff 871px)"></i>
<i class="a" style="background:linear-gradient(90deg,#000aff 0,#0026ff 190px,#003fff 284px,#005fff 346px,#007cff 374px,#00b3ff 418px,#00b9ff 432px,#00b6ff 449px,#08f 487px,#06f 516px,#004eff 555px,#0035ff 618px,#001bff 744px,#000aff 871px)"></i>
<i class="a" style="background:linear-gradient(90deg,#000aff 0,#0026ff 190px,#003fff 284px,#0060ff 346px,#007dff 374px,#00b8ff 420px,#00bdff 434px,#00b8ff 449px,#0068ff 514px,#0053ff 545px,#0039ff 604px,#001dff 725px,#000aff 871px)"></i>
<i class="a" style="background:linear-gradient(90deg,#000aff 0,#0026ff 190px,#003fff 284px,#005fff 345px,#007bff 372px,#00bcff 421px,#00c0ff 435px,#00bcff 449px,#006aff 513px,#0054ff 543px,#003aff 602px,#001eff 721px,#000aff 871px)"></i>
<i class="a" style="background:linear-gradient(90deg,#000aff 0,#0026ff 191px,#003fff 284px,#005fff 345px,#007bff 372px,#00c0ff 422px,#00c4ff 436px,#00c0ff 448px,#006bff 512px,#05f 541px,#003aff 601px,#001eff 719px,#000aff 871px)"></i>
<i class="a" style="background:linear-gradient(90deg,#000aff 0,#0026ff 191px,#003fff 284px,#005fff 345px,#007bff 371px,#00c4ff 423px,#00c8ff 437px,#00c3ff 448px,#006dff 510px,#0058ff 537px,#003bff 597px,#0020ff 710px,#000aff 871px)"></i>
<i class="a" style="background:linear-gradient(90deg,#000aff 0,#0026ff 192px,#003fff 284px,#005fff 344px,#007aff 370px,#00c9ff 424px,#0cf 440px,#00c3ff 451px,#0070ff 508px,#0059ff 534px,#003cff 595px,#0021ff 704px,#000aff 871px)"></i>
<i class="a" style="background:linear-gradient(90deg,#000aff 0,#0026ff 192px,#003fff 284px,#005fff 344px,#0079ff 369px,#00ceff 425px,#00d0ff 443px,#00bfff 456px,#0074ff 505px,#005bff 531px,#003dff 592px,#02f 696px,#000aff 871px)"></i>
<i class="a" style="background:linear-gradient(90deg,#000aff 0,#0026ff 193px,#003fff 284px,#005eff 343px,#0078ff 368px,#00bdff 411px,#00d4ff 426px,#00d4ff 444px,#00bdff 459px,#0078ff 502px,#005eff 527px,#003fff 587px,#0025ff 681px,#000aff 871px)"></i>
<i class="a" style="background:linear-gradient(90deg,#0009ff 0,#0026ff 193px,#003fff 284px,#005eff 343px,#0079ff 368px,#00b8ff 407px,#00d8ff 425px,#00dbff 440px,#00d2ff 449px,#0095ff 484px,#006cff 512px,#0057ff 538px,#003bff 596px,#0020ff 707px,#0009ff 871px)"></i>
<i class="a" style="background:linear-gradient(90deg,#0009ff 0,#0026ff 193px,#003fff 284px,#005eff 343px,#0078ff 367px,#00b6ff 405px,#0df 425px,#00e0ff 436px,#0df 445px,#0097ff 483px,#006dff 512px,#0057ff 538px,#003cff 595px,#0020ff 704px,#0009ff 871px)"></i>
<i class="a" style="background:linear-gradient(90deg,#0009ff 0,#0026ff 193px,#003fff 284px,#005eff 342px,#07f 366px,#00b3ff 402px,#00e2ff 425px,#00e6ff 434px,#00e3ff 444px,#00caff 457px,#009dff 480px,#006eff 511px,#0058ff 536px,#003cff 593px,#0021ff 699px,#0009ff 871px)"></i>
<i class="a" style="background:linear-gradient(90deg,#0009ff 0,#0026ff 194px,#003fff 284px,#005eff 342px,#0076ff 365px,#00b0ff 400px,#00e8ff 425px,#00ecff 433px,#00e9ff 444px,#00cdff 457px,#00a3ff 477px,#0070ff 510px,#005aff 534px,#003dff 591px,#02f 693px,#0009ff 871px)"></i>
<i class="a" style="background:linear-gradient(90deg,#0009ff 0,#0026ff 194px,#003fff 284px,#005dff 341px,#0075ff 364px,#00aeff 398px,#00d9ff 416px,#00f0ff 426px,#00f3ff 435px,#00f0ff 444px,#00d1ff 457px,#00a8ff 475px,#0071ff 509px,#005bff 532px,#003eff 589px,#0023ff 687px,#0009ff 871px)"></i>
<i class="a" style="background:linear-gradient(90deg,#0009ff 0,#0026ff 194px,#003fff 284px,#005dff 341px,#0075ff 364px,#00aeff 397px,#00d5ff 413px,#00f7ff 426px,#00fbff 433px,#00f8ff 443px,#00e0ff 453px,#00b4ff 470px,#0080ff 499px,#0063ff 522px,#0043ff 575px,#002dff 646px,#0016ff 771px,#0009ff 871px)"></i>
<i class="a" style="background:linear-gradient(90deg,#0009ff 0,#0026ff 195px,#003fff 284px,#005cff 340px,#0073ff 362px,#00adff 396px,#00d2ff 411px,#0ff 426px,#00fffb 432px,#00fffc 442px,#00fcff 445px,#00baff 468px,#0093ff 488px,#006dff 513px,#0058ff 537px,#003dff 591px,#02f 694px,#0009ff 871px)"></i>
<i class="a" style="background:linear-gradient(90deg,#0009ff 0,#0026ff 195px,#003eff 283px,#005bff 338px,#0071ff 360px,#00a6ff 392px,#0cf 408px,#0ff 423px,#00fff2 429px,#00fff3 442px,#0ff 447px,#00c4ff 465px,#009dff 483px,#006eff 512px,#0059ff 535px,#003dff 589px,#0023ff 686px,#0009ff 871px)"></i>
<i class="a" style="background:linear-gradient(90deg,#0009ff 0,#0026ff 195px,#003eff 283px,#005bff 338px,#0071ff 360px,#00a7ff 392px,#0cf 407px,#0ff 421px,#00ffe8 428px,#00ffe8 442px,#0ff 449px,#0cf 463px,#00a5ff 479px,#0071ff 510px,#005bff 532px,#003eff 587px,#0025ff 677px,#0009ff 871px)"></i>
<i class="a" style="background:linear-gradient(90deg,#0009ff 0,#0025ff 195px,#003eff 283px,#005aff 336px,#006eff 358px,#00a0ff 388px,#00c6ff 404px,#00f0ff 416px,#00fffd 420px,#00ffdf 427px,#00ffda 431px,#0fd 442px,#00fff3 448px,#00fdff 451px,#00cfff 463px,#00abff 477px,#0072ff 509px,#005cff 530px,#003fff 584px,#0027ff 666px,#000aff 853px,#0009ff 871px)"></i>
<i class="a" style="background:linear-gradient(90deg,#0009ff 0,#0025ff 195px,#003eff 283px,#0059ff 335px,#006dff 357px,#009dff 386px,#00c2ff 402px,#00e8ff 413px,#00feff 418px,#00ffd3 427px,#00ffcd 430px,#00ffce 441px,#00ffdb 445px,#00feff 452px,#00d5ff 462px,#00b0ff 475px,#007cff 503px,#0061ff 524px,#0041ff 578px,#002bff 651px,#0014ff 780px,#0009ff 871px)"></i>
<i class="a" style="background:linear-gradient(90deg,#0008ff 0,#0025ff 195px,#003dff 282px,#0057ff 331px,#006aff 354px,#008bff 375px,#00b2ff 395px,#00d4ff 407px,#0ff 417px,#00ffc5 427px,#00ffbe 430px,#00ffbf 441px,#00ffcf 445px,#0ff 453px,#00d4ff 463px,#00b2ff 475px,#0081ff 500px,#0064ff 521px,#0046ff 567px,#002fff 632px,#0019ff 747px,#0008ff 871px)"></i>
<i class="a" style="background:linear-gradient(90deg,#0008ff 0,#0025ff 195px,#003dff 282px,#05f 329px,#0068ff 353px,#0089ff 374px,#00b3ff 395px,#00d7ff 407px,#0ff 416px,#00ffb6 427px,#00ffac 430px,#00ffad 441px,#00ffbc 444px,#0ff 454px,#00d7ff 463px,#00b3ff 475px,#0087ff 497px,#0067ff 518px,#0054ff 543px,#003dff 589px,#0024ff 681px,#0008ff 871px)"></i>
<i class="a" style="background:linear-gradient(90deg,#0008ff 0,#0025ff 195px,#003dff 281px,#0053ff 324px,#06f 351px,#0084ff 371px,#00b2ff 394px,#00d6ff 406px,#00f9ff 414px,#0ff 415px,#00ffd6 421px,#00ff9d 428px,#00ff95 430px,#00ff97 441px,#00ffb4 445px,#00ffec 452px,#0ff 455px,#00daff 463px,#00b7ff 474px,#0093ff 491px,#006bff 515px,#0058ff 536px,#003fff 584px,#0028ff 661px,#000bff 845px,#0008ff 871px)"></i>
<i class="a" style="background:linear-gradient(90deg,#0008ff 0,#0025ff 195px,#003dff 281px,#0051ff 321px,#0065ff 350px,#0083ff 370px,#00b0ff 393px,#00d5ff 405px,#00f8ff 413px,#00feff 414px,#0fd 419px,#00ffaf 424px,#00ff83 428px,#00ff7b 429px,#00ff78 431px,#00ff78 440px,#00ff7b 441px,#00ff8d 443px,#00ffc3 448px,#00ffed 453px,#00feff 456px,#00d8ff 464px,#00b5ff 475px,#0092ff 492px,#006bff 515px,#0058ff 536px,#003fff 583px,#0028ff 658px,#0012ff 796px,#0008ff 871px)"></i>
<i class="a" style="background:linear-gradient(90deg,#0008ff 0,#0025ff 194px,#003cff 280px,#0050ff 320px,#0065ff 350px,#0083ff 370px,#00b1ff 393px,#00d3ff 404px,#00f7ff 412px,#00fffc 414px,#00ffd6 419px,#00ffad 423px,#00ff65 428px,#00ff59 429px,#0f5 430px,#0f5 440px,#00ff59 441px,#00ff73 443px,#00ffad 447px,#00ffd6 451px,#00fffc 456px,#00f7ff 458px,#00cfff 467px,#00acff 479px,#0072ff 510px,#005dff 529px,#0040ff 579px,#002bff 648px,#0016ff 766px,#0008ff 871px)"></i>
<i class="a" style="background:linear-gradient(90deg,#0008ff 0,#0025ff 194px,#003cff 279px,#004fff 319px,#0065ff 350px,#0082ff 369px,#00b0ff 392px,#00d1ff 403px,#00f5ff 411px,#00fffe 413px,#00ffd8 418px,#00ffae 422px,#00ff8f 424px,#00ff2f 429px,#00ff28 430px,#00ff28 440px,#00ff2f 441px,#0f5 443px,#00ff8f 446px,#00ffae 448px,#00ffd8 452px,#00fffe 457px,#00d5ff 466px,#00b2ff 477px,#0086ff 499px,#06f 519px,#0054ff 544px,#003fff 582px,#0029ff 653px,#0013ff 786px,#0008ff 871px)"></i>
<i class="a" style="background:linear-gradient(90deg,#0008ff 0,#0024ff 193px,#003bff 278px,#004eff 318px,#0065ff 350px,#0082ff 369px,#00b1ff 392px,#00d3ff 403px,#00f8ff 411px,#00feff 412px,#00ffe3 416px,#00ffbd 420px,#00ffa3 422px,#00ff7e 424px,#00ff4f 426px,#00ff15 428px,#07ff00 429px,#14ff00 430px,#14ff00 433px,#7eff00 435px,#14ff00 437px,#14ff00 440px,#07ff00 441px,#00ff15 442px,#00ff4f 444px,#00ff7e 446px,#00ffa3 448px,#00ffc8 451px,#00fff3 456px,#00feff 458px,#00d7ff 466px,#00b3ff 477px,#0090ff 494px,#006bff 515px,#0059ff 534px,#0040ff 579px,#002cff 641px,#0018ff 749px,#0008ff 871px)"></i>
<i class="a" style="background:linear-gradient(90deg,#0008ff 0,#0024ff 193px,#003bff 277px,#004dff 317px,#0065ff 350px,#0083ff 369px,#00b1ff 392px,#00d5ff 403px,#00fbff 411px,#00fffd 412px,#00ffd5 417px,#00ffb5 420px,#00ff98 422px,#00ff6e 424px,#00ff54 425px,#00ff35 426px,#00ff0f 427px,#1dff00 428px,#50ff00 429px,#6aff00 430px,#6aff00 431px,#baff00 432px,#ffec00 433px,#ffd100 434px,#ffbd00 435px,#ffd100 436px,#ffec00 437px,#baff00 438px,#6aff00 439px,#6aff00 440px,#50ff00 441px,#1dff00 442px,#00ff0f 443px,#00ff35 444px,#00ff54 445px,#00ff84 447px,#00ffa8 449px,#0fc 452px,#00fff6 457px,#00fffd 458px,#00e6ff 463px,#00c0ff 473px,#009dff 487px,#006bff 515px,#005aff 533px,#0040ff 578px,#002eff 635px,#0019ff 742px,#0008ff 871px)"></i>
<i class="a" style="background:linear-gradient(90deg,#0008ff 0,#0024ff 192px,#003aff 276px,#004dff 316px,#0064ff 350px,#0081ff 368px,#00b2ff 392px,#00d3ff 402px,#00f8ff 410px,#00feff 411px,#00ffda 416px,#00ffae 420px,#00ff8d 422px,#00ff5f 424px,#00ff42 425px,#00ff1d 426px,#12ff00 427px,#52ff00 428px,#baff00 429px,#fff600 430px,#ffdc00 431px,#ff5700 433px,#ff6500 434px,#ff7d00 435px,#ff6500 436px,#ff5700 437px,#ffdc00 439px,#fff600 440px,#baff00 441px,#52ff00 442px,#12ff00 443px,#00ff1d 444px,#00ff42 445px,#00ff5f 446px,#00ff8d 448px,#00ffae 450px,#00ffda 454px,#00feff 459px,#00d7ff 467px,#00b5ff 477px,#0093ff 493px,#0069ff 516px,#0059ff 534px,#0041ff 577px,#002fff 631px,#0019ff 738px,#0008ff 871px)"></i>
<i class="a" style="background:linear-gradient(90deg,#0008ff 0,#0023ff 191px,#0039ff 275px,#004cff 315px,#0064ff 350px,#0082ff 368px,#00b0ff 391px,#00d0ff 401px,#00f5ff 409px,#00fffd 411px,#00ffd5 416px,#00ffb5 419px,#00ff98 421px,#00ff6e 423px,#00ff54 424px,#00ff34 425px,#00ff0c 426px,#27ff00 427px,#6dff00 428px,#d9ff00 429px,#ffb000 430px,#ff7000 431px,#ff5700 432px,#ff5300 433px,#ff6b00 434px,#ff7d00 435px,#ff6b00 436px,#ff5300 437px,#ff5700 438px,#ff7000 439px,#ffb000 440px,#d9ff00 441px,#6dff00 442px,#27ff00 443px,#00ff0c 444px,#00ff34 445px,#00ff54 446px,#00ff85 448px,#00ffa8 450px,#00ffcb 453px,#00fff6 458px,#00fffd 459px,#00e6ff 464px,#00bfff 474px,#009eff 487px,#0069ff 516px,#0059ff 534px,#0041ff 576px,#0030ff 628px,#001cff 722px,#0008ff 871px)"></i>
<i class="a" style="background:linear-gradient(90deg,#0008ff 0,#0023ff 190px,#0039ff 274px,#004bff 314px,#0064ff 350px,#0082ff 368px,#00b1ff 391px,#00d2ff 401px,#00f8ff 409px,#00feff 410px,#00ffe3 414px,#00ffbc 418px,#00ffa2 420px,#00ff7e 422px,#00ff67 423px,#00ff4c 424px,#00ff2b 425px,#00ff04 426px,#2eff00 427px,#6fff00 428px,#c4ff00 429px,#ffcb00 430px,#ff6d00 431px,#f40 432px,#ff5000 433px,#ff7100 434px,#ff7d00 435px,#ff7100 436px,#ff5000 437px,#f40 438px,#ff6d00 439px,#ffcb00 440px,#c4ff00 441px,#6fff00 442px,#2eff00 443px,#00ff04 444px,#00ff2b 445px,#00ff4c 446px,#00ff67 447px,#00ff92 449px,#00ffb0 451px,#00ffda 455px,#00fffa 459px,#00feff 460px,#00d6ff 468px,#00b4ff 478px,#0092ff 494px,#0068ff 517px,#0058ff 535px,#0041ff 575px,#0030ff 626px,#001dff 712px,#0007ff 871px)"></i>
<i class="a" style="background:linear-gradient(90deg,#0007ff 0,#0023ff 189px,#0038ff 272px,#004aff 314px,#0064ff 350px,#0080ff 367px,#00b2ff 391px,#00cfff 400px,#00f5ff 408px,#00fffe 410px,#00ffd7 415px,#00ffac 419px,#00ff8c 421px,#00ff62 423px,#00ff47 424px,#00ff28 425px,#00ff02 426px,#2cff00 427px,#64ff00 428px,#af0 429px,#fffc00 430px,#ff9a00 431px,#ff4b00 432px,#ff4900 433px,#ff7100 434px,#ff7d00 435px,#ff7100 436px,#ff4900 437px,#ff4b00 438px,#ff9a00 439px,#fffc00 440px,#af0 441px,#64ff00 442px,#2cff00 443px,#00ff02 444px,#00ff28 445px,#00ff47 446px,#00ff78 448px,#00ff9e 450px,#00ffc3 453px,#00ffef 458px,#00fffe 460px,#00d3ff 469px,#00b4ff 478px,#0092ff 494px,#0068ff 517px,#0059ff 534px,#0041ff 575px,#0030ff 624px,#001eff 708px,#0007ff 871px)"></i>
<i class="a" style="background:linear-gradient(90deg,#0007ff 0,#02f 188px,#0037ff 271px,#0049ff 313px,#0063ff 350px,#0081ff 367px,#00b2ff 391px,#00d0ff 400px,#00f7ff 408px,#00fdff 409px,#00fff4 411px,#00ffca 416px,#00ffa9 419px,#00ff89 421px,#00ff60 423px,#00ff46 424px,#00ff29 425px,#00ff07 426px,#21ff00 427px,#51ff00 428px,#8f0 429px,#c9ff00 430px,#ffeb00 431px,#ffa100 432px,#ff8d00 433px,#ffa400 434px,#ffad00 435px,#ffa400 436px,#ff8d00 437px,#ffa100 438px,#ffeb00 439px,#c9ff00 440px,#8f0 441px,#51ff00 442px,#21ff00 443px,#00ff07 444px,#00ff29 445px,#00ff46 446px,#00ff76 448px,#00ff9a 450px,#00ffc0 453px,#00ffec 458px,#00fffb 460px,#00fdff 461px,#00d4ff 469px,#00b5ff 478px,#0093ff 494px,#0067ff 517px,#0059ff 533px,#0041ff 574px,#0030ff 623px,#001eff 705px,#0007ff 871px)"></i>
<i class="a" style="background:linear-gradient(90deg,#0007ff 0,#02f 188px,#0036ff 269px,#0049ff 313px,#0063ff 350px,#0081ff 367px,#00b2ff 391px,#00d1ff 400px,#00f9ff 408px,#0ff 409px,#00ffd0 415px,#00ffa6 419px,#00ff87 421px,#00ff60 423px,#00ff2f 425px,#0f1 426px,#1f0 427px,#37ff00 428px,#90ff00 430px,#ef0 432px,#fffa00 433px,#fffe00 435px,#fffa00 437px,#ef0 438px,#61ff00 441px,#37ff00 442px,#1f0 443px,#0f1 444px,#00ff49 446px,#00ff75 448px,#00ff98 450px,#00ffbd 453px,#00ffea 458px,#0ff 461px,#00d6ff 469px,#00b5ff 478px,#0095ff 493px,#0067ff 517px,#0059ff 532px,#0041ff 573px,#0030ff 622px,#001eff 703px,#0007ff 871px)"></i>
<i class="a" style="background:linear-gradient(90deg,#0007ff 0,#02f 187px,#0035ff 268px,#0048ff 312px,#0059ff 338px,#0067ff 353px,#00b0ff 390px,#00ceff 399px,#00f6ff 407px,#00fffc 409px,#00ffce 415px,#00ffa4 419px,#00ff76 422px,#00ff4f 424px,#00ff1f 426px,#00ff03 427px,#1bff00 428px,#7cff00 431px,#98ff00 432px,#a9ff00 433px,#afff00 434px,#afff00 436px,#a9ff00 437px,#98ff00 438px,#7cff00 439px,#1bff00 442px,#00ff03 443px,#00ff38 445px,#00ff63 447px,#00ff96 450px,#00ffba 453px,#00ffe7 458px,#00fffc 461px,#00f0ff 464px,#00c6ff 473px,#00abff 482px,#0065ff 518px,#0059ff 533px,#0040ff 573px,#0030ff 621px,#001eff 702px,#0007ff 871px)"></i>
<i class="a" style="background:linear-gradient(90deg,#0007ff 0,#0017ff 124px,#0029ff 225px,#0038ff 273px,#0047ff 311px,#0058ff 335px,#0064ff 351px,#0084ff 368px,#00b3ff 391px,#00cfff 399px,#00f8ff 407px,#00feff 408px,#00ffdc 413px,#00ffae 418px,#00ff87 421px,#00ff56 424px,#00ff18 427px,#0f0 428px,#45ff00 431px,#58ff00 432px,#64ff00 433px,#6bff00 434px,#6bff00 436px,#64ff00 437px,#58ff00 438px,#2fff00 440px,#0f0 442px,#00ff43 445px,#00ff78 448px,#00ffa3 451px,#00ffd3 456px,#00fffa 461px,#00feff 462px,#00d4ff 470px,#00b6ff 478px,#0098ff 492px,#0065ff 518px,#0059ff 532px,#0049ff 556px,#0040ff 575px,#0030ff 619px,#001dff 702px,#0007ff 871px)"></i>
<i class="a" style="background:linear-gradient(90deg,#0007ff 0,#0017ff 120px,#0028ff 222px,#0037ff 273px,#0047ff 311px,#0057ff 334px,#0062ff 350px,#007eff 365px,#00b3ff 391px,#00d0ff 399px,#00fffe 408px,#00ffc8 415px,#00ffa2 419px,#00ff6c 423px,#00ff2b 427px,#00ff07 429px,#0aff00 430px,#26ff00 432px,#34ff00 434px,#34ff00 436px,#26ff00 438px,#0aff00 440px,#00ff07 441px,#00ff5d 446px,#00ff96 450px,#00ffbf 454px,#00fff7 461px,#00fffe 462px,#0cf 472px,#00b1ff 480px,#0064ff 518px,#0059ff 532px,#004bff 554px,#0040ff 572px,#0035ff 601px,#0025ff 666px,#0017ff 747px,#000cff 828px,#0007ff 871px)"></i>
<i class="a" style="background:linear-gradient(90deg,#0007ff 0,#0017ff 118px,#0027ff 220px,#0030ff 251px,#0037ff 273px,#0045ff 310px,#0057ff 333px,#0060ff 349px,#0079ff 363px,#009bff 379px,#00b3ff 391px,#00d1ff 399px,#00fcff 407px,#00fff5 409px,#00ffb4 417px,#00ff8a 421px,#00ff15 430px,#00ff01 432px,#0aff00 434px,#0aff00 436px,#00ff01 438px,#00ff21 441px,#00ff8a 449px,#00ffb4 453px,#00fff5 461px,#00fcff 463px,#0cf 472px,#00b1ff 480px,#007eff 505px,#0061ff 520px,#004bff 554px,#003fff 572px,#0036ff 598px,#0030ff 620px,#0025ff 665px,#0017ff 747px,#000dff 826px,#0007ff 871px)"></i>
<i class="a" style="background:linear-gradient(90deg,#0007ff 0,#0012ff 82px,#0021ff 186px,#0029ff 227px,#0030ff 254px,#0039ff 276px,#0045ff 310px,#0056ff 332px,#005fff 349px,#07f 362px,#09f 378px,#00b3ff 391px,#00cdff 398px,#00feff 407px,#00ffd4 413px,#00ffa1 419px,#00ff36 429px,#00ff1f 432px,#00ff16 435px,#00ff1f 438px,#00ff36 441px,#0fa 452px,#00fff3 461px,#00feff 463px,#00cdff 472px,#00b3ff 479px,#0098ff 493px,#0062ff 519px,#0058ff 532px,#004cff 552px,#003fff 570px,#0037ff 596px,#0030ff 617px,#0029ff 643px,#0025ff 668px,#001dff 708px,#0012ff 797px,#0007ff 871px)"></i>
<i class="a" style="background:linear-gradient(90deg,#0007ff 0,#0012ff 80px,#0020ff 184px,#0025ff 214px,#002fff 249px,#0034ff 269px,#003eff 292px,#0043ff 309px,#05f 331px,#005dff 348px,#0072ff 360px,#0096ff 376px,#00b0ff 390px,#00c9ff 397px,#00f9ff 406px,#0ff 407px,#00ffb2 417px,#00ff4f 428px,#00ff37 432px,#00ff30 435px,#00ff37 438px,#00ff4f 442px,#00ffba 454px,#0ff 463px,#00cdff 472px,#00b3ff 479px,#09f 492px,#007eff 505px,#0061ff 519px,#0058ff 532px,#004dff 551px,#003fff 569px,#0038ff 594px,#002fff 615px,#002aff 641px,#0024ff 663px,#001dff 709px,#0012ff 793px,#0007ff 871px)"></i>
<i class="a" style="background:linear-gradient(90deg,#0007ff 0,#000fff 53px,#001aff 143px,#0020ff 185px,#0024ff 212px,#002fff 249px,#03f 269px,#003dff 291px,#0042ff 308px,#05f 330px,#005dff 348px,#0070ff 359px,#0096ff 376px,#00b0ff 390px,#00c8ff 397px,#00fffe 407px,#0f9 420px,#00ff68 426px,#00ff4c 431px,#0f4 435px,#00ff4c 439px,#00ff68 444px,#00ffe8 460px,#00fffe 463px,#00c8ff 473px,#00b0ff 480px,#0086ff 502px,#0062ff 518px,#0058ff 530px,#004fff 549px,#003eff 568px,#0039ff 593px,#002fff 614px,#002bff 639px,#0024ff 660px,#0020ff 686px,#01f 789px,#000dff 824px,#0006ff 871px)"></i>
<i class="a" style="background:linear-gradient(90deg,#0006ff 0,#000fff 52px,#0019ff 143px,#0020ff 185px,#0024ff 209px,#0029ff 229px,#002eff 251px,#03f 269px,#003dff 290px,#0041ff 308px,#0054ff 330px,#005cff 348px,#006fff 359px,#0094ff 375px,#00afff 390px,#00c8ff 397px,#00fffd 407px,#00ff76 425px,#00ff5e 430px,#0f5 434px,#00ff58 438px,#00ff6b 443px,#00ff93 449px,#00fffd 463px,#00c8ff 473px,#00afff 480px,#0086ff 502px,#0061ff 518px,#0057ff 529px,#004fff 548px,#003eff 567px,#0038ff 593px,#002eff 614px,#002bff 638px,#0023ff 659px,#0020ff 684px,#001cff 708px,#01f 791px,#000dff 825px,#0006ff 871px)"></i>
<i class="a" style="background:linear-gradient(90deg,#0006ff 0,#000fff 51px,#001dff 179px,#0023ff 204px,#0026ff 224px,#002eff 246px,#0031ff 267px,#003cff 289px,#003fff 307px,#0054ff 330px,#005bff 348px,#006eff 359px,#0094ff 375px,#00aeff 390px,#00c7ff 397px,#00fffd 407px,#00ff89 423px,#00ff6f 428px,#00ff63 433px,#00ff64 438px,#00ff73 443px,#00ff8f 448px,#00fffd 463px,#00c7ff 473px,#00aeff 480px,#08f 501px,#0062ff 517px,#0056ff 528px,#004fff 547px,#003dff 567px,#0038ff 592px,#002eff 613px,#002bff 637px,#0023ff 658px,#0021ff 682px,#001bff 705px,#0017ff 733px,#000eff 822px,#0006ff 871px)"></i>
<i class="a" style="background:linear-gradient(90deg,#0006ff 0,#000eff 50px,#0015ff 126px,#001bff 163px,#001fff 185px,#0023ff 206px,#0026ff 225px,#002eff 245px,#0030ff 266px,#003cff 288px,#003eff 307px,#0053ff 330px,#0059ff 348px,#006bff 358px,#0092ff 374px,#00adff 390px,#00c6ff 397px,#00f3ff 405px,#00fffd 407px,#00ffad 418px,#00ff84 425px,#00ff73 430px,#00ff6e 436px,#00ff76 441px,#00ff89 446px,#00ffc1 455px,#00fffd 463px,#00caff 472px,#00b0ff 479px,#009dff 489px,#08f 501px,#0060ff 517px,#0056ff 527px,#0050ff 546px,#003cff 567px,#0039ff 591px,#002dff 612px,#002bff 636px,#02f 658px,#0021ff 681px,#001bff 704px,#0018ff 729px,#0015ff 759px,#000dff 825px,#0006ff 871px)"></i>
<i class="a" style="background:linear-gradient(90deg,#0006ff 0,#000eff 50px,#0010ff 81px,#0015ff 122px,#001bff 163px,#001eff 184px,#0023ff 204px,#0024ff 223px,#002dff 244px,#002eff 265px,#003bff 287px,#003cff 306px,#0053ff 329px,#0057ff 347px,#0067ff 357px,#0092ff 374px,#00abff 390px,#00c4ff 397px,#00f2ff 405px,#00fffe 407px,#00ffb5 417px,#00ff8f 424px,#00ff7d 430px,#00ff7a 437px,#00ff84 443px,#00ff98 448px,#00ffc9 456px,#00fffe 463px,#00c9ff 472px,#00aeff 479px,#009cff 489px,#008aff 500px,#005fff 517px,#05f 527px,#004fff 546px,#003bff 566px,#0038ff 591px,#002cff 612px,#002bff 635px,#02f 657px,#0021ff 680px,#001aff 703px,#0018ff 727px,#0015ff 752px,#000eff 822px,#0006ff 871px)"></i>
<i class="a" style="background:linear-gradient(90deg,#0006ff 0,#000eff 50px,#0010ff 78px,#0014ff 122px,#001aff 162px,#001dff 183px,#02f 203px,#0023ff 222px,#002dff 243px,#002dff 265px,#003aff 287px,#003bff 306px,#0052ff 329px,#0056ff 347px,#06f 357px,#0092ff 374px,#00a7ff 389px,#00bdff 396px,#00e3ff 403px,#0ff 407px,#00ffbd 416px,#0f9 423px,#00ff89 429px,#00ff85 437px,#00ff8f 444px,#00ffa6 450px,#00ffca 456px,#0ff 463px,#0cf 471px,#00b2ff 477px,#00a0ff 485px,#008cff 499px,#005eff 517px,#0053ff 527px,#0050ff 545px,#003aff 566px,#0038ff 591px,#002bff 611px,#002bff 635px,#0021ff 656px,#0020ff 680px,#001aff 702px,#0018ff 726px,#0014ff 750px,#01f 779px,#000eff 819px,#0006ff 868px,#0006ff 871px)"></i>
<i class="a" style="background:linear-gradient(90deg,#0006ff 0,#000eff 49px,#0010ff 76px,#0014ff 104px,#0016ff 139px,#001aff 161px,#001bff 181px,#02f 202px,#02f 222px,#002dff 243px,#002cff 264px,#003aff 286px,#003aff 306px,#0051ff 329px,#0054ff 347px,#0062ff 356px,#0090ff 373px,#00a7ff 390px,#00bfff 397px,#00e8ff 404px,#00fdff 407px,#00ffbf 416px,#00ffa6 421px,#00ff96 427px,#00ff91 436px,#00ff98 444px,#0fa 450px,#00ffc5 455px,#00fdff 463px,#00c9ff 471px,#00b0ff 477px,#009eff 485px,#008bff 499px,#005eff 516px,#0053ff 525px,#004fff 545px,#0039ff 565px,#0038ff 590px,#002aff 611px,#002bff 634px,#0020ff 656px,#0020ff 679px,#0019ff 701px,#0019ff 724px,#0014ff 748px,#0012ff 773px,#000eff 820px,#0006ff 869px,#0006ff 871px)"></i>
<i class="a" style="background:linear-gradient(90deg,#0006ff 0,#000dff 49px,#0010ff 75px,#0012ff 100px,#0016ff 140px,#001aff 160px,#001bff 181px,#0021ff 201px,#0021ff 221px,#002cff 243px,#002aff 263px,#0039ff 286px,#0038ff 306px,#0050ff 329px,#0052ff 347px,#0060ff 356px,#008fff 373px,#00a5ff 390px,#00b8ff 396px,#00d8ff 402px,#00fbff 407px,#00fff3 409px,#00ffc7 415px,#00ffaf 420px,#00ffa1 426px,#00ff9e 440px,#00ffa6 447px,#00ffb7 452px,#00ffd5 457px,#00fffb 462px,#00f4ff 464px,#00c7ff 471px,#00adff 477px,#009cff 485px,#008dff 498px,#005cff 516px,#0050ff 526px,#004fff 544px,#0038ff 565px,#0037ff 590px,#0029ff 611px,#002bff 633px,#001fff 655px,#0020ff 678px,#0018ff 700px,#0018ff 724px,#0013ff 747px,#0012ff 771px,#0010ff 796px,#000dff 823px,#0006ff 871px)"></i>
<i class="a" style="background:linear-gradient(90deg,#0006ff 0,#000dff 49px,#0010ff 74px,#01f 98px,#0013ff 120px,#0016ff 141px,#0019ff 160px,#0019ff 180px,#0021ff 200px,#0020ff 221px,#002bff 243px,#0029ff 263px,#0038ff 286px,#0036ff 305px,#004fff 329px,#0050ff 346px,#005cff 355px,#008dff 373px,#00a2ff 390px,#00b5ff 396px,#00d5ff 402px,#00fffe 408px,#00ffcb 415px,#00ffb4 420px,#0fa 426px,#00ffac 446px,#00ffb7 451px,#00ffd1 456px,#00fffe 462px,#00c3ff 471px,#0af 477px,#009bff 484px,#008bff 498px,#005aff 516px,#004eff 526px,#004eff 544px,#0036ff 565px,#0036ff 590px,#0028ff 611px,#002aff 633px,#001eff 655px,#0020ff 678px,#0018ff 700px,#0018ff 723px,#0013ff 746px,#0012ff 770px,#0010ff 794px,#000eff 819px,#0006ff 866px,#0006ff 871px)"></i>
<i class="a" style="background:linear-gradient(90deg,#0006ff 0,#000dff 49px,#000fff 74px,#01f 98px,#0013ff 120px,#0015ff 141px,#0019ff 160px,#0019ff 180px,#0020ff 200px,#001fff 221px,#002aff 242px,#0028ff 263px,#0037ff 285px,#0035ff 305px,#0046ff 320px,#004eff 330px,#004dff 346px,#005dff 356px,#008cff 373px,#009fff 390px,#00b2ff 396px,#00d2ff 402px,#00fdff 408px,#00ffd5 414px,#00ffbe 419px,#00ffb5 424px,#00ffb6 447px,#00ffc1 452px,#00ffdc 457px,#00fdff 462px,#00c5ff 470px,#0af 476px,#009aff 483px,#008cff 497px,#0058ff 516px,#004cff 526px,#004cff 544px,#0035ff 565px,#0036ff 589px,#0027ff 610px,#0029ff 633px,#001dff 655px,#001fff 678px,#0017ff 700px,#0018ff 723px,#0012ff 746px,#0012ff 769px,#000fff 793px,#000eff 818px,#0006ff 864px,#0006ff 871px)"></i>
<i class="a" style="background:linear-gradient(90deg,#0006ff 0,#000dff 49px,#000fff 74px,#0010ff 98px,#0012ff 120px,#0015ff 141px,#0018ff 160px,#0018ff 180px,#001fff 200px,#001eff 221px,#0029ff 242px,#0026ff 263px,#0036ff 285px,#03f 305px,#04f 320px,#004cff 330px,#004bff 346px,#005bff 356px,#0089ff 373px,#009cff 390px,#00aeff 396px,#00ceff 402px,#0ff 409px,#00ffd6 415px,#00ffc3 420px,#00ffbe 426px,#00ffc0 439px,#00ffc0 448px,#0fc 453px,#00ffe8 458px,#0ff 461px,#00c2ff 470px,#00a7ff 476px,#0097ff 483px,#0089ff 497px,#0056ff 516px,#004aff 525px,#004aff 544px,#03f 565px,#0034ff 590px,#0026ff 610px,#0028ff 633px,#001cff 655px,#001eff 678px,#0016ff 700px,#0017ff 723px,#01f 746px,#01f 769px,#000eff 793px,#000eff 818px,#0006ff 864px,#0006ff 871px)"></i>
<i class="a" style="background:linear-gradient(90deg,#0005ff 0,#000cff 49px,#000eff 75px,#0010ff 99px,#01f 122px,#0015ff 144px,#0017ff 163px,#0018ff 182px,#001eff 201px,#001dff 221px,#0028ff 242px,#0025ff 263px,#0034ff 285px,#0032ff 305px,#004aff 329px,#0049ff 346px,#0059ff 356px,#0086ff 373px,#09f 390px,#00abff 396px,#00caff 402px,#00fffe 410px,#00ffde 415px,#00ffcd 420px,#00ffc9 426px,#00ffcb 439px,#00ffca 448px,#00ffd5 453px,#00fff0 458px,#00fffe 460px,#00beff 470px,#00a4ff 476px,#0094ff 483px,#0084ff 498px,#0054ff 516px,#0048ff 525px,#0048ff 544px,#0032ff 565px,#0032ff 590px,#0024ff 610px,#0027ff 633px,#001bff 655px,#001dff 678px,#0015ff 700px,#0016ff 723px,#01f 746px,#01f 770px,#000eff 794px,#000dff 820px,#0005ff 869px,#0005ff 871px)"></i>
<i class="a" style="background:linear-gradient(90deg,#0005ff 0,#000cff 50px,#000eff 77px,#01f 120px,#0014ff 142px,#0016ff 162px,#0017ff 182px,#001dff 201px,#001cff 221px,#0026ff 243px,#0024ff 263px,#0032ff 285px,#0031ff 306px,#0047ff 329px,#0047ff 346px,#0057ff 356px,#0082ff 373px,#0096ff 390px,#00acff 397px,#00cbff 403px,#00fffe 411px,#00ffe3 416px,#00ffd6 421px,#00ffd5 429px,#00ffd5 441px,#00ffd6 449px,#00ffe3 454px,#00fffe 459px,#00baff 470px,#009eff 477px,#008fff 485px,#0080ff 498px,#0051ff 517px,#0046ff 526px,#0045ff 545px,#0031ff 565px,#0031ff 590px,#0023ff 610px,#0025ff 634px,#001bff 655px,#001cff 679px,#0015ff 701px,#0015ff 724px,#0010ff 747px,#0010ff 771px,#000eff 796px,#000bff 824px,#0005ff 871px)"></i>
<i class="a" style="background:linear-gradient(90deg,#0005ff 0,#000cff 51px,#000fff 99px,#0013ff 141px,#0015ff 162px,#0017ff 183px,#001cff 202px,#001bff 222px,#0025ff 243px,#0023ff 264px,#0031ff 285px,#0030ff 306px,#0045ff 329px,#0046ff 347px,#0057ff 357px,#007eff 373px,#0093ff 390px,#00a9ff 397px,#00cdff 404px,#00feff 412px,#00ffe6 418px,#00ffde 424px,#00ffdf 440px,#00ffdf 448px,#00ffe9 453px,#00feff 458px,#00b6ff 470px,#009bff 477px,#008aff 486px,#007aff 499px,#004dff 518px,#04f 527px,#0043ff 545px,#002fff 565px,#002eff 591px,#02f 611px,#0024ff 634px,#001aff 656px,#001bff 679px,#0014ff 702px,#0014ff 725px,#0010ff 749px,#000eff 774px,#000cff 822px,#0005ff 871px)"></i>
<i class="a" style="background:linear-gradient(90deg,#0005ff 0,#000dff 74px,#000fff 102px,#0012ff 140px,#0015ff 162px,#0016ff 183px,#001bff 203px,#001bff 223px,#0024ff 244px,#02f 264px,#002fff 286px,#002fff 306px,#0042ff 329px,#04f 347px,#05f 357px,#007aff 373px,#008fff 389px,#00a2ff 396px,#00c2ff 403px,#00fbff 413px,#00fffa 415px,#00ffeb 420px,#00ffe7 427px,#00ffe8 441px,#00ffe9 449px,#00fff6 454px,#00fffe 456px,#00e0ff 462px,#00aeff 471px,#0095ff 478px,#0085ff 488px,#0075ff 500px,#0049ff 519px,#0042ff 529px,#0041ff 545px,#002eff 566px,#002dff 591px,#0021ff 611px,#02f 634px,#0019ff 656px,#0019ff 680px,#0014ff 702px,#0013ff 725px,#0010ff 750px,#000dff 778px,#000cff 821px,#0005ff 871px)"></i>
<i class="a" style="background:linear-gradient(90deg,#0005ff 0,#000dff 74px,#000fff 104px,#01f 140px,#0014ff 163px,#0016ff 184px,#001aff 204px,#001bff 224px,#02f 244px,#0021ff 264px,#002eff 286px,#002dff 306px,#0040ff 329px,#0043ff 347px,#0051ff 356px,#07f 373px,#008cff 389px,#00a2ff 397px,#00c9ff 405px,#00f9ff 414px,#00fffe 416px,#00fff1 422px,#00fff1 448px,#00fdff 455px,#00dbff 462px,#0af 471px,#0092ff 478px,#0082ff 487px,#0072ff 500px,#0046ff 520px,#0040ff 530px,#003eff 546px,#002dff 566px,#002cff 591px,#0020ff 611px,#0021ff 635px,#0018ff 657px,#0018ff 680px,#0013ff 703px,#0012ff 727px,#0010ff 752px,#000dff 798px,#0005ff 871px)"></i>
<i class="a" style="background:linear-gradient(90deg,#0005ff 0,#000cff 74px,#01f 142px,#0013ff 166px,#0017ff 189px,#001aff 224px,#0021ff 244px,#0021ff 265px,#002dff 286px,#002cff 306px,#003fff 329px,#0041ff 347px,#004fff 356px,#0074ff 373px,#08f 389px,#009fff 397px,#00c5ff 405px,#00f2ff 414px,#0ff 418px,#00fff7 424px,#00fff8 448px,#00fdff 453px,#00e5ff 459px,#00a7ff 471px,#008dff 479px,#007eff 488px,#006fff 500px,#04f 520px,#003eff 531px,#003cff 546px,#002bff 567px,#002aff 591px,#001fff 611px,#0020ff 635px,#0018ff 657px,#0017ff 681px,#0013ff 704px,#01f 728px,#000fff 754px,#000dff 798px,#0005ff 871px)"></i>
<i class="a" style="background:linear-gradient(90deg,#0005ff 0,#000cff 75px,#01f 142px,#0012ff 167px,#0018ff 205px,#001aff 225px,#0020ff 245px,#0020ff 265px,#002bff 286px,#002bff 306px,#003dff 330px,#003fff 347px,#004dff 356px,#0072ff 373px,#0085ff 389px,#009fff 398px,#00edff 414px,#00fdff 420px,#0ff 432px,#00feff 449px,#00f0ff 455px,#00cbff 463px,#009fff 472px,#0085ff 481px,#006bff 501px,#0042ff 520px,#003dff 531px,#003bff 546px,#002aff 567px,#002aff 590px,#001eff 611px,#001fff 635px,#0017ff 657px,#0017ff 681px,#0012ff 704px,#01f 728px,#000fff 755px,#000cff 798px,#0005ff 871px)"></i>
<i class="a" style="background:linear-gradient(90deg,#0005ff 0,#000bff 76px,#0010ff 142px,#0012ff 167px,#0017ff 205px,#0019ff 225px,#001fff 245px,#001fff 265px,#002aff 287px,#002aff 306px,#003cff 330px,#003eff 347px,#004bff 356px,#006fff 373px,#0082ff 389px,#009cff 398px,#00e7ff 414px,#00f7ff 420px,#00faff 428px,#00f8ff 449px,#00ebff 455px,#00c6ff 463px,#009cff 472px,#0082ff 481px,#0068ff 501px,#0042ff 519px,#003bff 529px,#0039ff 546px,#0029ff 567px,#0028ff 591px,#001dff 612px,#001eff 635px,#0016ff 658px,#0016ff 681px,#0012ff 704px,#0010ff 728px,#000fff 756px,#0005ff 871px)"></i>
<i style="background:linear-gradient(90deg,#0005ff 0,#000bff 76px,#0010ff 143px,#0014ff 185px,#0016ff 206px,#0018ff 226px,#001eff 245px,#001eff 265px,#0028ff 287px,#0028ff 306px,#0039ff 329px,#003bff 347px,#004aff 357px,#006bff 373px,#007dff 389px,#0094ff 397px,#0bf 406px,#00dfff 414px,#0ef 420px,#00f0ff 429px,#00efff 449px,#00e2ff 455px,#00bfff 463px,#0097ff 472px,#007fff 480px,#0071ff 492px,#0061ff 503px,#003fff 519px,#0039ff 530px,#0037ff 546px,#0027ff 567px,#0026ff 591px,#001cff 612px,#001dff 635px,#0015ff 658px,#0015ff 682px,#01f 705px,#000fff 730px,#0008ff 828px,#0005ff 871px)"></i>
<i style="background:linear-gradient(90deg,#0005ff 0,#000aff 77px,#000fff 144px,#0012ff 185px,#0015ff 207px,#0017ff 227px,#001cff 246px,#001cff 266px,#0026ff 287px,#0026ff 307px,#0036ff 329px,#0038ff 348px,#0048ff 358px,#0064ff 372px,#0078ff 390px,#008dff 397px,#00d7ff 415px,#00e3ff 421px,#00e3ff 449px,#00d7ff 455px,#00b2ff 464px,#0085ff 475px,#0075ff 482px,#0060ff 501px,#003cff 519px,#0036ff 530px,#03f 547px,#0024ff 567px,#0024ff 591px,#001aff 612px,#001bff 636px,#0014ff 659px,#0013ff 682px,#0010ff 706px,#000dff 733px,#0008ff 828px,#0005ff 871px)"></i>
<i style="background:linear-gradient(90deg,#0005ff 0,#000cff 120px,#0012ff 186px,#0013ff 210px,#001aff 247px,#001bff 267px,#0023ff 288px,#0024ff 307px,#03f 329px,#0035ff 348px,#04f 358px,#005eff 371px,#0072ff 390px,#0085ff 397px,#00c9ff 414px,#00d6ff 420px,#00d7ff 430px,#00d7ff 449px,#0cf 455px,#00a1ff 466px,#0078ff 477px,#006aff 486px,#005bff 501px,#0038ff 519px,#03f 531px,#0031ff 547px,#02f 567px,#02f 591px,#0019ff 613px,#0019ff 636px,#0013ff 659px,#0012ff 683px,#000fff 708px,#0005ff 871px)"></i>
<i style="background:linear-gradient(90deg,#0005ff 0,#000bff 123px,#01f 188px,#0014ff 227px,#0018ff 248px,#0019ff 268px,#0021ff 288px,#02f 308px,#0030ff 329px,#0032ff 348px,#0042ff 359px,#005aff 372px,#006bff 390px,#007dff 397px,#00beff 414px,#00cbff 421px,#00cbff 449px,#00beff 456px,#0074ff 476px,#06f 484px,#0056ff 501px,#0036ff 518px,#0030ff 530px,#002eff 547px,#0020ff 567px,#001fff 592px,#0017ff 613px,#0017ff 637px,#0012ff 660px,#0010ff 685px,#0009ff 796px,#0005ff 871px)"></i>
<i style="background:linear-gradient(90deg,#0004ff 0,#000fff 185px,#0010ff 213px,#0016ff 248px,#0018ff 268px,#001fff 289px,#001fff 308px,#002dff 330px,#002fff 348px,#003dff 359px,#0056ff 373px,#0065ff 390px,#0079ff 398px,#00b0ff 413px,#00beff 420px,#00beff 434px,#00bfff 449px,#00b3ff 456px,#08f 468px,#006dff 476px,#005fff 485px,#0051ff 501px,#0032ff 518px,#002cff 530px,#002aff 547px,#001dff 567px,#001dff 592px,#0015ff 614px,#0015ff 638px,#0010ff 662px,#000eff 688px,#0004ff 871px)"></i>
<i style="background:linear-gradient(90deg,#0004ff 0,#000eff 186px,#0012ff 229px,#0014ff 251px,#0017ff 271px,#001cff 290px,#001dff 309px,#002aff 331px,#002bff 348px,#003bff 360px,#0052ff 374px,#0060ff 391px,#0074ff 399px,#00a0ff 411px,#00b1ff 419px,#00b3ff 430px,#00b2ff 450px,#00a6ff 457px,#0083ff 467px,#0068ff 475px,#005aff 484px,#004dff 500px,#002fff 518px,#0029ff 531px,#0026ff 548px,#001bff 568px,#001aff 593px,#0014ff 615px,#0013ff 639px,#000fff 664px,#0008ff 796px,#0004ff 871px)"></i>
<i style="background:linear-gradient(90deg,#0004ff 0,#000dff 186px,#0012ff 252px,#0016ff 274px,#0019ff 294px,#001cff 312px,#0026ff 331px,#0028ff 349px,#003dff 364px,#004eff 377px,#005bff 392px,#006fff 400px,#09f 412px,#00a6ff 420px,#00a6ff 450px,#09f 458px,#0063ff 474px,#05f 483px,#0045ff 501px,#002aff 519px,#0026ff 532px,#02f 549px,#0018ff 569px,#0017ff 594px,#0012ff 616px,#01f 640px,#000eff 666px,#0007ff 794px,#0004ff 871px)"></i>
<i style="background:linear-gradient(90deg,#0004ff 0,#000cff 187px,#0013ff 270px,#0017ff 292px,#0019ff 311px,#02f 332px,#0024ff 349px,#0047ff 377px,#0053ff 391px,#06f 400px,#0090ff 413px,#009cff 421px,#009bff 450px,#008eff 458px,#005eff 473px,#004eff 483px,#003eff 502px,#0024ff 521px,#001fff 550px,#0016ff 570px,#0015ff 594px,#0010ff 618px,#000eff 644px,#0007ff 799px,#0004ff 871px)"></i>
<i style="background:linear-gradient(90deg,#0004ff 0,#000bff 188px,#01f 272px,#0014ff 295px,#0018ff 315px,#001fff 334px,#0021ff 350px,#003fff 376px,#004bff 391px,#0063ff 402px,#08f 415px,#0090ff 423px,#008eff 451px,#007fff 459px,#0054ff 474px,#0045ff 484px,#0038ff 502px,#0021ff 521px,#001bff 551px,#0014ff 571px,#0012ff 596px,#000fff 621px,#0009ff 711px,#0004ff 871px)"></i>
<i style="background:linear-gradient(90deg,#0004ff 0,#000aff 190px,#0010ff 273px,#0015ff 313px,#001bff 334px,#001eff 351px,#0039ff 376px,#0043ff 391px,#005dff 403px,#007bff 415px,#0082ff 424px,#0080ff 451px,#0070ff 460px,#0048ff 476px,#003cff 487px,#0030ff 504px,#001dff 521px,#0017ff 552px,#0012ff 573px,#000fff 599px,#0008ff 711px,#0004ff 871px)"></i>
<i style="background:linear-gradient(90deg,#0004ff 0,#0009ff 225px,#0012ff 314px,#0017ff 336px,#001bff 353px,#0032ff 376px,#003cff 392px,#0053ff 403px,#006eff 416px,#0074ff 426px,#0072ff 451px,#0061ff 461px,#003fff 476px,#0034ff 488px,#002aff 504px,#0019ff 521px,#0014ff 553px,#000fff 576px,#0009ff 668px,#0004ff 869px,#0004ff 871px)"></i>
<i style="background:linear-gradient(90deg,#0004ff 0,#0008ff 227px,#0010ff 315px,#0014ff 341px,#001aff 357px,#002cff 378px,#0035ff 393px,#004aff 404px,#005fff 415px,#0065ff 426px,#0062ff 452px,#0051ff 463px,#0036ff 476px,#002cff 491px,#0014ff 523px,#0010ff 554px,#000dff 581px,#0007ff 665px,#0004ff 871px)"></i>
<i style="background:linear-gradient(90deg,#0004ff 0,#0007ff 227px,#000eff 317px,#0014ff 354px,#0025ff 380px,#002eff 395px,#0052ff 416px,#0056ff 429px,#0054ff 452px,#0046ff 462px,#002dff 476px,#0010ff 524px,#000bff 583px,#0005ff 707px,#0004ff 871px)"></i>
<i style="background:linear-gradient(90deg,#0004ff 0,#0005ff 226px,#000bff 320px,#0010ff 356px,#001dff 383px,#0027ff 397px,#0043ff 417px,#0045ff 444px,#0040ff 456px,#02f 478px,#000dff 526px,#0005ff 662px,#0004ff 871px)"></i>
<i style="background:linear-gradient(90deg,#0003ff 0,#0004ff 226px,#000bff 352px,#001cff 396px,#0034ff 418px,#03f 453px,#0018ff 479px,#0009ff 529px,#0003ff 712px,#0003ff 871px)"></i>
<i style="background:linear-gradient(90deg,#0003ff 0,#0004ff 227px,#000aff 353px,#001bff 397px,#0030ff 418px,#002fff 453px,#0016ff 479px,#0008ff 530px,#0002ff 746px,#0003ff 871px)"></i>
<i style="background:linear-gradient(90deg,#0003ff 0,#0004ff 229px,#000aff 353px,#001bff 397px,#0030ff 418px,#002fff 453px,#0016ff 479px,#0008ff 530px,#0002ff 746px,#0003ff 871px)"></i>
<i style="background:linear-gradient(90deg,#0003ff 0,#0004ff 230px,#000aff 353px,#001bff 397px,#0030ff 418px,#002fff 453px,#0016ff 479px,#0008ff 530px,#0002ff 746px,#0003ff 871px)"></i>
<i style="background:linear-gradient(90deg,#0003ff 0,#0004ff 231px,#000aff 353px,#001bff 397px,#0030ff 418px,#002fff 453px,#0016ff 479px,#0008ff 530px,#0002ff 746px,#0003ff 871px)"></i>
<i style="background:linear-gradient(90deg,#0003ff 0,#0004ff 260px,#000bff 357px,#001bff 397px,#0030ff 418px,#002fff 453px,#0016ff 479px,#0008ff 530px,#0002ff 746px,#0003ff 871px)"></i>
<i style="background:linear-gradient(90deg,#0003ff 0,#0004ff 262px,#000bff 357px,#001bff 397px,#0030ff 418px,#002fff 453px,#0016ff 479px,#0008ff 530px,#0002ff 746px,#0003ff 871px)"></i>
<i style="background:linear-gradient(90deg,#0003ff 0,#0004ff 264px,#000bff 357px,#001bff 397px,#0030ff 418px,#002fff 453px,#0016ff 479px,#0008ff 530px,#0002ff 746px,#0003ff 871px)"></i>
<i style="background:linear-gradient(90deg,#0003ff 0,#0004ff 228px,#000aff 353px,#001bff 397px,#0030ff 418px,#002fff 453px,#0016ff 479px,#0008ff 530px,#0002ff 746px,#0003ff 871px)"></i>
<i style="background:linear-gradient(90deg,#0003ff 0,#0003ff 220px,#000aff 353px,#001bff 397px,#0030ff 418px,#002fff 453px,#0016ff 479px,#0008ff 530px,#0002ff 746px,#0003ff 871px)"></i>
<i class="a" style="background:linear-gradient(90deg,#0003ff 0,#0003ff 189px,#0009ff 350px,#001aff 396px,#0030ff 418px,#002fff 453px,#0016ff 479px,#0008ff 530px,#0002ff 746px,#0003ff 871px)"></i>
</div>
<div class="fld" style="top:545px">
<i style="background:linear-gradient(90deg,#001eff 0,#002eff 428px,#0034ff 430px,#0034ff 440px,#002dff 443px,#001eff 871px)"></i>
<i style="background:linear-gradient(90deg,#001eff 0,#002eff 428px,#002eff 442px,#001eff 871px)"></i>
<i style="background:linear-gradient(90deg,#001eff 0,#002dff 445px,#001eff 871px)"></i>
<i style="background:linear-gradient(90deg,#001eff 0,#002dff 451px,#001eff 871px)"></i>
<i style="background:linear-gradient(90deg,#001eff 0,#002dff 451px,#001eff 871px)"></i>
<i style="background:linear-gradient(90deg,#001dff 0,#002dff 451px,#001dff 871px)"></i>
<i style="background:linear-gradient(90deg,#001dff 0,#002dff 450px,#001dff 871px)"></i>
<i style="background:linear-gradient(90deg,#001dff 0,#002dff 449px,#001dff 871px)"></i>
<i style="background:linear-gradient(90deg,#001dff 0,#002dff 448px,#001dff 871px)"></i>
<i style="background:linear-gradient(90deg,#001dff 0,#002dff 446px,#001dff 871px)"></i>
<i style="background:linear-gradient(90deg,#001dff 0,#002dff 445px,#001dff 871px)"></i>
<i style="background:linear-gradient(90deg,#001dff 0,#002eff 443px,#001dff 871px)"></i>
<i style="background:linear-gradient(90deg,#001dff 0,#002eff 440px,#001dff 871px)"></i>
<i style="background:linear-gradient(90deg,#001dff 0,#002eff 438px,#001dff 871px)"></i>
<i style="background:linear-gradient(90deg,#001dff 0,#002eff 436px,#001dff 871px)"></i>
<i style="background:linear-gradient(90deg,#001dff 0,#002eff 434px,#0023ff 719px,#001dff 871px)"></i>
<i style="background:linear-gradient(90deg,#001dff 0,#002eff 432px,#0024ff 701px,#001dff 871px)"></i>
<i style="background:linear-gradient(90deg,#001dff 0,#002eff 431px,#0024ff 691px,#001dff 871px)"></i>
<i style="background:linear-gradient(90deg,#001dff 0,#002eff 429px,#0025ff 680px,#001dff 871px)"></i>
<i style="background:linear-gradient(90deg,#001dff 0,#002eff 428px,#0025ff 675px,#001dff 871px)"></i>
<i style="background:linear-gradient(90deg,#001cff 0,#002eff 427px,#0026ff 670px,#001cff 871px)"></i>
<i style="background:linear-gradient(90deg,#001cff 0,#002fff 425px,#0026ff 663px,#001cff 871px)"></i>
<i style="background:linear-gradient(90deg,#001cff 0,#002fff 424px,#0026ff 659px,#001cff 871px)"></i>
<i style="background:linear-gradient(90deg,#001cff 0,#002fff 423px,#0027ff 654px,#001cff 871px)"></i>
<i style="background:linear-gradient(90deg,#001cff 0,#002fff 422px,#0027ff 650px,#001cff 871px)"></i>
<i style="background:linear-gradient(90deg,#001cff 0,#002fff 421px,#0027ff 646px,#001cff 871px)"></i>
<i style="background:linear-gradient(90deg,#001cff 0,#002fff 421px,#0027ff 644px,#001cff 871px)"></i>
<i style="background:linear-gradient(90deg,#001cff 0,#002fff 420px,#0028ff 641px,#001cff 871px)"></i>
<i style="background:linear-gradient(90deg,#001cff 0,#002fff 419px,#0028ff 637px,#001cff 871px)"></i>
<i style="background:linear-gradient(90deg,#001cff 0,#0030ff 419px,#0028ff 635px,#001cff 871px)"></i>
<i style="background:linear-gradient(90deg,#001cff 0,#0030ff 418px,#0028ff 632px,#001cff 871px)"></i>
<i style="background:linear-gradient(90deg,#001cff 0,#0030ff 418px,#0028ff 630px,#001cff 871px)"></i>
<i style="background:linear-gradient(90deg,#001cff 0,#0030ff 417px,#0029ff 627px,#001cff 871px)"></i>
<i style="background:linear-gradient(90deg,#001bff 0,#0030ff 417px,#0029ff 625px,#001bff 871px)"></i>
<i style="background:linear-gradient(90deg,#001bff 0,#0030ff 417px,#0029ff 623px,#001bff 871px)"></i>
<i style="background:linear-gradient(90deg,#001bff 0,#0030ff 416px,#0029ff 620px,#001bff 871px)"></i>
<i style="background:linear-gradient(90deg,#001bff 0,#0031ff 416px,#002aff 619px,#001bff 871px)"></i>
<i style="background:linear-gradient(90deg,#001bff 0,#0031ff 415px,#002aff 615px,#001bff 871px)"></i>
<i style="background:linear-gradient(90deg,#001bff 0,#0031ff 415px,#002aff 614px,#001bff 871px)"></i>
<i style="background:linear-gradient(90deg,#001bff 0,#0031ff 415px,#002aff 612px,#001bff 871px)"></i>
<i style="background:linear-gradient(90deg,#001bff 0,#0031ff 415px,#002aff 611px,#001bff 871px)"></i>
<i style="background:linear-gradient(90deg,#001bff 0,#0031ff 414px,#002bff 608px,#001bff 871px)"></i>
<i style="background:linear-gradient(90deg,#001bff 0,#0032ff 414px,#002bff 607px,#001bff 871px)"></i>
<i style="background:linear-gradient(90deg,#001bff 0,#0032ff 414px,#002bff 605px,#001bff 871px)"></i>
<i style="background:linear-gradient(90deg,#001bff 0,#0032ff 414px,#002bff 604px,#001bff 871px)"></i>
<i style="background:linear-gradient(90deg,#001aff 0,#0032ff 413px,#002cff 601px,#001aff 871px)"></i>
<i style="background:linear-gradient(90deg,#001aff 0,#0032ff 413px,#002cff 600px,#001aff 871px)"></i>
<i style="background:linear-gradient(90deg,#001aff 0,#03f 413px,#002cff 598px,#001aff 871px)"></i>
<i style="background:linear-gradient(90deg,#001aff 0,#03f 413px,#002cff 596px,#001aff 871px)"></i>
<i style="background:linear-gradient(90deg,#001aff 0,#03f 413px,#002cff 594px,#001aff 871px)"></i>
<i style="background:linear-gradient(90deg,#001aff 0,#03f 413px,#002dff 592px,#001aff 871px)"></i>
<i style="background:linear-gradient(90deg,#001aff 0,#03f 412px,#002dff 588px,#001aff 871px)"></i>
<i style="background:linear-gradient(90deg,#001aff 0,#0034ff 412px,#002dff 586px,#001aff 871px)"></i>
<i style="background:linear-gradient(90deg,#001aff 0,#0034ff 412px,#002eff 584px,#001aff 871px)"></i>
<i style="background:linear-gradient(90deg,#001aff 0,#0034ff 412px,#002eff 582px,#001aff 871px)"></i>
<i style="background:linear-gradient(90deg,#0019ff 0,#0034ff 412px,#002eff 579px,#0019ff 871px)"></i>
<i style="background:linear-gradient(90deg,#0019ff 0,#0034ff 412px,#002eff 577px,#0019ff 871px)"></i>
<i style="background:linear-gradient(90deg,#0019ff 0,#0035ff 412px,#002fff 575px,#0019ff 870px,#0019ff 871px)"></i>
<i style="background:linear-gradient(90deg,#0019ff 0,#0035ff 412px,#002fff 574px,#0019ff 869px,#0019ff 871px)"></i>
<i style="background:linear-gradient(90deg,#0019ff 0,#0035ff 412px,#002fff 572px,#0019ff 868px,#0019ff 871px)"></i>
<i style="background:linear-gradient(90deg,#0019ff 0,#0035ff 412px,#0030ff 570px,#0019ff 867px,#0019ff 871px)"></i>
<i style="background:linear-gradient(90deg,#0019ff 0,#0036ff 412px,#0030ff 568px,#0019ff 865px,#0019ff 871px)"></i>
<i style="background:linear-gradient(90deg,#0019ff 0,#002cff 252px,#0036ff 431px,#002dff 600px,#0019ff 866px,#0019ff 871px)"></i>
<i style="background:linear-gradient(90deg,#0019ff 0,#002cff 249px,#0036ff 429px,#002eff 593px,#0019ff 864px,#0019ff 871px)"></i>
<i style="background:linear-gradient(90deg,#0019ff 0,#002bff 246px,#0037ff 427px,#002fff 587px,#0019ff 862px,#0019ff 871px)"></i>
<i style="background:linear-gradient(90deg,#0018ff 0,#002bff 243px,#0037ff 425px,#002fff 581px,#0019ff 860px,#0018ff 871px)"></i>
<i style="background:linear-gradient(90deg,#0018ff 0,#002bff 240px,#0037ff 424px,#0030ff 578px,#0019ff 858px,#0018ff 871px)"></i>
<i style="background:linear-gradient(90deg,#0018ff 0,#002bff 238px,#0037ff 422px,#0030ff 572px,#0019ff 856px,#0018ff 871px)"></i>
<i style="background:linear-gradient(90deg,#0018ff 0,#002bff 236px,#0038ff 421px,#0031ff 568px,#0019ff 854px,#0018ff 871px)"></i>
<i style="background:linear-gradient(90deg,#0018ff 0,#002bff 234px,#0038ff 420px,#0031ff 565px,#0019ff 853px,#0018ff 871px)"></i>
<i style="background:linear-gradient(90deg,#0018ff 0,#002aff 231px,#0038ff 418px,#0032ff 560px,#0019ff 851px,#0018ff 871px)"></i>
<i style="background:linear-gradient(90deg,#0018ff 0,#002aff 229px,#0039ff 417px,#03f 556px,#0019ff 849px,#0018ff 871px)"></i>
<i style="background:linear-gradient(90deg,#0018ff 0,#002aff 227px,#0039ff 416px,#03f 553px,#0019ff 847px,#0018ff 871px)"></i>
<i style="background:linear-gradient(90deg,#0018ff 0,#002aff 226px,#0039ff 415px,#03f 550px,#0019ff 846px,#0018ff 871px)"></i>
<i style="background:linear-gradient(90deg,#0017ff 0,#002aff 223px,#0039ff 414px,#0034ff 546px,#0019ff 844px,#0017ff 871px)"></i>
<i style="background:linear-gradient(90deg,#0017ff 0,#002aff 222px,#003aff 414px,#0034ff 545px,#0019ff 842px,#0017ff 871px)"></i>
<i style="background:linear-gradient(90deg,#0017ff 0,#002aff 220px,#003aff 413px,#0035ff 542px,#0019ff 840px,#0017ff 871px)"></i>
<i style="background:linear-gradient(90deg,#0017ff 0,#0029ff 218px,#003aff 412px,#0035ff 538px,#0019ff 839px,#0017ff 871px)"></i>
<i style="background:linear-gradient(90deg,#0017ff 0,#0029ff 216px,#003bff 411px,#0036ff 535px,#0019ff 837px,#0017ff 871px)"></i>
<i style="background:linear-gradient(90deg,#0017ff 0,#0029ff 215px,#003bff 411px,#0036ff 534px,#0019ff 835px,#0017ff 871px)"></i>
<i style="background:linear-gradient(90deg,#0017ff 0,#0029ff 213px,#003bff 410px,#0037ff 531px,#0019ff 834px,#0017ff 871px)"></i>
<i style="background:linear-gradient(90deg,#0017ff 0,#0029ff 212px,#003cff 410px,#0037ff 529px,#0019ff 832px,#0017ff 871px)"></i>
<i style="background:linear-gradient(90deg,#0017ff 0,#0029ff 210px,#003cff 409px,#0038ff 526px,#0019ff 830px,#0017ff 871px)"></i>
<i style="background:linear-gradient(90deg,#0016ff 0,#0029ff 209px,#003dff 409px,#0038ff 525px,#0019ff 828px,#0016ff 871px)"></i>
<i style="background:linear-gradient(90deg,#0016ff 0,#0029ff 207px,#003dff 409px,#0039ff 523px,#0019ff 826px,#0016ff 871px)"></i>
<i style="background:linear-gradient(90deg,#0016ff 0,#0028ff 206px,#003dff 409px,#0039ff 521px,#0019ff 824px,#0016ff 871px)"></i>
<i style="background:linear-gradient(90deg,#0016ff 0,#0028ff 205px,#003eff 409px,#003aff 520px,#0019ff 822px,#0016ff 871px)"></i>
<i style="background:linear-gradient(90deg,#0016ff 0,#0028ff 204px,#003eff 409px,#003aff 518px,#0019ff 820px,#0016ff 871px)"></i>
<i style="background:linear-gradient(90deg,#0016ff 0,#0028ff 202px,#003fff 408px,#003bff 516px,#0019ff 817px,#0016ff 871px)"></i>
<i style="background:linear-gradient(90deg,#0016ff 0,#0028ff 201px,#003fff 408px,#003bff 514px,#0019ff 815px,#0016ff 871px)"></i>
<i style="background:linear-gradient(90deg,#0016ff 0,#0028ff 200px,#003fff 408px,#003cff 513px,#0019ff 813px,#0016ff 871px)"></i>
<i style="background:linear-gradient(90deg,#0015ff 0,#0028ff 199px,#0040ff 408px,#003cff 511px,#0019ff 811px,#0015ff 871px)"></i>
<i style="background:linear-gradient(90deg,#0015ff 0,#0028ff 197px,#0040ff 408px,#003dff 510px,#0019ff 808px,#0015ff 871px)"></i>
<i style="background:linear-gradient(90deg,#0015ff 0,#0027ff 196px,#0041ff 409px,#003dff 509px,#0019ff 806px,#0015ff 871px)"></i>
<i style="background:linear-gradient(90deg,#0015ff 0,#0027ff 195px,#0041ff 409px,#003eff 508px,#001aff 803px,#0015ff 871px)"></i>
<i style="background:linear-gradient(90deg,#0015ff 0,#0027ff 194px,#0042ff 409px,#003eff 507px,#001aff 800px,#0015ff 871px)"></i>
<i style="background:linear-gradient(90deg,#0015ff 0,#0027ff 193px,#0042ff 409px,#003fff 505px,#001aff 798px,#0015ff 871px)"></i>
<i style="background:linear-gradient(90deg,#0015ff 0,#0027ff 192px,#0043ff 409px,#003fff 504px,#001aff 795px,#0015ff 871px)"></i>
<i style="background:linear-gradient(90deg,#0015ff 0,#0027ff 191px,#0043ff 409px,#0040ff 502px,#001aff 792px,#0015ff 871px)"></i>
<i style="background:linear-gradient(90deg,#0014ff 0,#0027ff 190px,#04f 410px,#0040ff 502px,#001aff 789px,#0014ff 871px)"></i>
<i style="background:linear-gradient(90deg,#0014ff 0,#0027ff 189px,#0045ff 410px,#0041ff 501px,#001bff 786px,#0014ff 871px)"></i>
<i style="background:linear-gradient(90deg,#0014ff 0,#0027ff 188px,#0045ff 410px,#0042ff 499px,#001bff 783px,#0014ff 871px)"></i>
<i style="background:linear-gradient(90deg,#0014ff 0,#0026ff 187px,#0046ff 410px,#0042ff 498px,#001bff 780px,#0014ff 871px)"></i>
<i style="background:linear-gradient(90deg,#0014ff 0,#0027ff 187px,#0046ff 411px,#0043ff 498px,#001bff 776px,#0014ff 871px)"></i>
<i style="background:linear-gradient(90deg,#0014ff 0,#0026ff 186px,#0047ff 411px,#04f 496px,#001bff 773px,#0014ff 871px)"></i>
<i style="background:linear-gradient(90deg,#0014ff 0,#0026ff 185px,#0048ff 411px,#04f 495px,#001cff 770px,#0014ff 871px)"></i>
<i style="background:linear-gradient(90deg,#0013ff 0,#0026ff 184px,#0048ff 411px,#0045ff 494px,#001cff 766px,#0013ff 871px)"></i>
<i style="background:linear-gradient(90deg,#0013ff 0,#0026ff 183px,#0049ff 412px,#0046ff 493px,#001cff 762px,#0013ff 871px)"></i>
<i style="background:linear-gradient(90deg,#0013ff 0,#0026ff 182px,#004aff 412px,#0046ff 492px,#001dff 759px,#0013ff 871px)"></i>
<i style="background:linear-gradient(90deg,#0013ff 0,#0026ff 182px,#004bff 412px,#0047ff 491px,#001dff 753px,#0013ff 871px)"></i>
<i style="background:linear-gradient(90deg,#0013ff 0,#0026ff 181px,#004bff 412px,#0048ff 490px,#001eff 746px,#0013ff 871px)"></i>
<i style="background:linear-gradient(90deg,#0013ff 0,#0026ff 181px,#004cff 413px,#0049ff 489px,#001fff 739px,#0013ff 871px)"></i>
<i style="background:linear-gradient(90deg,#0013ff 0,#0026ff 180px,#004dff 413px,#004aff 488px,#0020ff 732px,#0013ff 871px)"></i>
<i style="background:linear-gradient(90deg,#0012ff 0,#0025ff 179px,#004eff 413px,#004aff 487px,#0021ff 725px,#0012ff 871px)"></i>
<i style="background:linear-gradient(90deg,#0012ff 0,#0025ff 178px,#004eff 414px,#004bff 486px,#02f 717px,#0012ff 871px)"></i>
<i style="background:linear-gradient(90deg,#0012ff 0,#0025ff 178px,#004fff 414px,#004cff 485px,#0023ff 710px,#0012ff 871px)"></i>
<i style="background:linear-gradient(90deg,#0012ff 0,#0025ff 177px,#0050ff 414px,#004dff 484px,#0024ff 702px,#0012ff 871px)"></i>
<i style="background:linear-gradient(90deg,#0012ff 0,#0025ff 177px,#0051ff 414px,#004eff 483px,#0025ff 695px,#0012ff 871px)"></i>
<i style="background:linear-gradient(90deg,#0012ff 0,#0025ff 176px,#0049ff 358px,#0052ff 424px,#004eff 489px,#0027ff 684px,#0012ff 860px,#0012ff 871px)"></i>
<i style="background:linear-gradient(90deg,#0012ff 0,#0025ff 176px,#0048ff 351px,#0053ff 419px,#004fff 486px,#0028ff 676px,#0013ff 851px,#0012ff 871px)"></i>
<i style="background:linear-gradient(90deg,#01f 0,#0025ff 175px,#0047ff 345px,#0054ff 415px,#0050ff 484px,#0029ff 668px,#0014ff 841px,#01f 871px)"></i>
<i style="background:linear-gradient(90deg,#01f 0,#0025ff 175px,#0046ff 340px,#0054ff 411px,#0051ff 482px,#002bff 660px,#0014ff 830px,#01f 871px)"></i>
<i style="background:linear-gradient(90deg,#01f 0,#0025ff 174px,#0045ff 334px,#05f 409px,#0053ff 479px,#002bff 657px,#0015ff 825px,#01f 871px)"></i>
<i style="background:linear-gradient(90deg,#01f 0,#0025ff 174px,#04f 330px,#05f 407px,#0054ff 477px,#002cff 654px,#0015ff 821px,#01f 871px)"></i>
<i style="background:linear-gradient(90deg,#01f 0,#0025ff 174px,#04f 327px,#0056ff 406px,#05f 475px,#002cff 653px,#0015ff 819px,#01f 871px)"></i>
<i style="background:linear-gradient(90deg,#01f 0,#0024ff 173px,#0043ff 323px,#0057ff 405px,#0056ff 473px,#002dff 651px,#0015ff 817px,#01f 871px)"></i>
<i style="background:linear-gradient(90deg,#01f 0,#0024ff 173px,#0043ff 320px,#0058ff 404px,#0057ff 471px,#002dff 649px,#0015ff 815px,#0010ff 871px)"></i>
<i style="background:linear-gradient(90deg,#0010ff 0,#0024ff 173px,#0043ff 317px,#0059ff 404px,#0058ff 470px,#002eff 646px,#0015ff 812px,#0010ff 871px)"></i>
<i style="background:linear-gradient(90deg,#0010ff 0,#0024ff 173px,#0042ff 315px,#005aff 404px,#0059ff 468px,#002eff 645px,#0015ff 810px,#0010ff 871px)"></i>
<i style="background:linear-gradient(90deg,#0010ff 0,#0024ff 172px,#0042ff 312px,#005bff 405px,#005aff 468px,#002fff 641px,#0016ff 806px,#0010ff 871px)"></i>
<i style="background:linear-gradient(90deg,#0010ff 0,#0024ff 172px,#0042ff 310px,#005cff 406px,#005bff 468px,#002fff 637px,#0016ff 801px,#0010ff 871px)"></i>
<i style="background:linear-gradient(90deg,#0010ff 0,#0024ff 172px,#0042ff 308px,#005dff 406px,#005dff 466px,#0030ff 635px,#0016ff 798px,#0010ff 871px)"></i>
<i style="background:linear-gradient(90deg,#0010ff 0,#0024ff 172px,#0041ff 306px,#005eff 407px,#005eff 466px,#0031ff 632px,#0017ff 794px,#0010ff 871px)"></i>
<i style="background:linear-gradient(90deg,#000fff 0,#0024ff 172px,#0041ff 304px,#0060ff 407px,#005fff 465px,#0031ff 629px,#0017ff 790px,#000fff 871px)"></i>
<i style="background:linear-gradient(90deg,#000fff 0,#0024ff 172px,#0041ff 303px,#0061ff 408px,#0061ff 464px,#0032ff 626px,#0017ff 786px,#000fff 871px)"></i>
<i style="background:linear-gradient(90deg,#000fff 0,#0024ff 172px,#0041ff 301px,#0062ff 409px,#0062ff 464px,#03f 622px,#0018ff 780px,#000fff 871px)"></i>
<i style="background:linear-gradient(90deg,#000fff 0,#0024ff 172px,#0041ff 300px,#0064ff 409px,#0063ff 463px,#0034ff 619px,#0019ff 776px,#000fff 871px)"></i>
<i style="background:linear-gradient(90deg,#000fff 0,#0024ff 172px,#0040ff 298px,#0065ff 410px,#0065ff 462px,#0035ff 615px,#0019ff 770px,#000fff 871px)"></i>
<i style="background:linear-gradient(90deg,#000fff 0,#0024ff 172px,#0040ff 297px,#0067ff 410px,#06f 461px,#0036ff 612px,#001aff 765px,#000fff 871px)"></i>
<i style="background:linear-gradient(90deg,#000eff 0,#0024ff 172px,#0040ff 296px,#0068ff 411px,#0068ff 461px,#0037ff 608px,#001aff 759px,#000eff 871px)"></i>
<i style="background:linear-gradient(90deg,#000eff 0,#0024ff 172px,#0040ff 294px,#006aff 411px,#006aff 460px,#0038ff 605px,#001bff 754px,#000eff 871px)"></i>
<i style="background:linear-gradient(90deg,#000eff 0,#0024ff 173px,#0040ff 294px,#006cff 412px,#006bff 459px,#0038ff 602px,#001cff 749px,#000eff 871px)"></i>
<i style="background:linear-gradient(90deg,#000eff 0,#0024ff 173px,#0040ff 292px,#006dff 413px,#006dff 459px,#003aff 598px,#001dff 742px,#000eff 871px)"></i>
<i style="background:linear-gradient(90deg,#000eff 0,#0024ff 173px,#0040ff 291px,#006fff 413px,#006fff 458px,#003bff 594px,#001eff 736px,#000eff 871px)"></i>
<i style="background:linear-gradient(90deg,#000eff 0,#0024ff 174px,#0040ff 291px,#0071ff 414px,#0071ff 457px,#005bff 511px,#0039ff 600px,#001dff 742px,#000eff 871px)"></i>
<i style="background:linear-gradient(90deg,#000dff 0,#0024ff 174px,#0040ff 290px,#06f 379px,#0074ff 419px,#0072ff 460px,#003eff 584px,#02f 706px,#000dff 871px)"></i>
<i style="background:linear-gradient(90deg,#000dff 0,#0024ff 175px,#003fff 289px,#0064ff 374px,#0076ff 416px,#0075ff 457px,#005eff 507px,#003cff 593px,#001fff 727px,#000dff 871px)"></i>
<i style="background:linear-gradient(90deg,#000dff 0,#0024ff 175px,#003fff 288px,#0063ff 370px,#0078ff 414px,#0078ff 454px,#0065ff 496px,#0042ff 574px,#0028ff 676px,#000fff 846px,#000dff 871px)"></i>
<i style="background:linear-gradient(90deg,#000dff 0,#0024ff 176px,#003fff 288px,#0063ff 368px,#0079ff 413px,#007bff 451px,#006bff 489px,#004aff 555px,#0030ff 637px,#0016ff 784px,#000dff 871px)"></i>
<i style="background:linear-gradient(90deg,#000dff 0,#0024ff 176px,#003fff 287px,#0062ff 365px,#007cff 412px,#007eff 447px,#0070ff 482px,#0050ff 542px,#0035ff 617px,#001aff 757px,#000dff 871px)"></i>
<i style="background:linear-gradient(90deg,#000dff 0,#0024ff 177px,#003fff 287px,#0062ff 363px,#007eff 412px,#0081ff 446px,#0073ff 480px,#0052ff 537px,#0037ff 610px,#001bff 747px,#000dff 871px)"></i>
<i style="background:linear-gradient(90deg,#000cff 0,#0024ff 178px,#003fff 286px,#0061ff 361px,#0081ff 412px,#0084ff 444px,#07f 476px,#0054ff 534px,#0038ff 608px,#001cff 743px,#000cff 871px)"></i>
<i style="background:linear-gradient(90deg,#000cff 0,#0025ff 179px,#003fff 286px,#0062ff 360px,#0083ff 412px,#0087ff 442px,#007dff 471px,#05f 532px,#0038ff 606px,#001cff 739px,#000cff 871px)"></i>
<i style="background:linear-gradient(90deg,#000cff 0,#0025ff 180px,#003fff 286px,#0061ff 358px,#0086ff 412px,#008aff 440px,#0081ff 467px,#0056ff 531px,#0039ff 604px,#001dff 735px,#000cff 871px)"></i>
<i style="background:linear-gradient(90deg,#000cff 0,#0025ff 181px,#003fff 285px,#0061ff 357px,#008aff 413px,#008eff 440px,#0085ff 465px,#0058ff 529px,#0039ff 602px,#001dff 731px,#000cff 871px)"></i>
<i style="background:linear-gradient(90deg,#000cff 0,#0025ff 182px,#003fff 285px,#0061ff 355px,#008dff 414px,#0091ff 442px,#0087ff 466px,#005aff 526px,#003bff 598px,#001eff 724px,#000cff 871px)"></i>
<i style="background:linear-gradient(90deg,#000cff 0,#0025ff 183px,#003fff 285px,#0061ff 354px,#0090ff 413px,#0094ff 440px,#008cff 464px,#005cff 524px,#003cff 595px,#0020ff 714px,#000cff 871px)"></i>
<i style="background:linear-gradient(90deg,#000bff 0,#0025ff 184px,#003fff 285px,#0061ff 353px,#0092ff 412px,#0097ff 436px,#0091ff 460px,#005cff 524px,#003cff 594px,#0021ff 710px,#000bff 871px)"></i>
<i style="background:linear-gradient(90deg,#000bff 0,#0025ff 185px,#003fff 284px,#0060ff 351px,#0094ff 410px,#009bff 432px,#0096ff 456px,#0083ff 480px,#005eff 521px,#003eff 589px,#0023ff 695px,#000bff 871px)"></i>
<i class="a" style="background:linear-gradient(90deg,#000bff 0,#0025ff 185px,#003fff 284px,#0060ff 351px,#0087ff 392px,#009aff 417px,#009eff 442px,#0092ff 466px,#0060ff 519px,#003fff 586px,#0025ff 686px,#000bff 871px)"></i>
<i class="a" style="background:linear-gradient(90deg,#000bff 0,#0025ff 186px,#003fff 284px,#0060ff 350px,#0084ff 388px,#09f 412px,#00a0ff 433px,#009bff 455px,#0086ff 480px,#0061ff 519px,#003fff 585px,#0025ff 683px,#000bff 869px,#000bff 871px)"></i>
<i class="a" style="background:linear-gradient(90deg,#000bff 0,#0025ff 186px,#003fff 284px,#0060ff 350px,#0083ff 386px,#009aff 411px,#00a2ff 431px,#009eff 453px,#0087ff 480px,#0062ff 518px,#0040ff 583px,#0027ff 677px,#000cff 859px,#000bff 871px)"></i>
<i class="a" style="background:linear-gradient(90deg,#000bff 0,#0025ff 187px,#003fff 284px,#0060ff 349px,#0081ff 384px,#009bff 410px,#00a4ff 430px,#00a0ff 452px,#08f 480px,#0063ff 517px,#0043ff 576px,#002bff 657px,#0013ff 803px,#000bff 871px)"></i>
<i class="a" style="background:linear-gradient(90deg,#000bff 0,#0025ff 187px,#003fff 284px,#0060ff 349px,#0081ff 383px,#009cff 409px,#00a6ff 429px,#00a3ff 451px,#008aff 480px,#0064ff 516px,#0046ff 569px,#002eff 643px,#0016ff 778px,#000bff 871px)"></i>
<i class="a" style="background:linear-gradient(90deg,#000bff 0,#0025ff 188px,#003fff 284px,#005fff 348px,#007fff 380px,#009dff 408px,#00a9ff 428px,#00a6ff 450px,#008bff 480px,#0065ff 515px,#0049ff 562px,#0031ff 631px,#0018ff 761px,#000bff 871px)"></i>
<i class="a" style="background:linear-gradient(90deg,#000bff 0,#0025ff 188px,#003fff 284px,#0060ff 348px,#0080ff 380px,#00a0ff 409px,#00abff 428px,#00a8ff 450px,#008bff 481px,#0065ff 515px,#004aff 560px,#0032ff 628px,#0019ff 757px,#000bff 871px)"></i>
<i class="a" style="background:linear-gradient(90deg,#000bff 0,#0026ff 189px,#003fff 284px,#005fff 347px,#007eff 378px,#00a1ff 409px,#00aeff 428px,#00abff 449px,#008cff 481px,#06f 514px,#004eff 553px,#0035ff 616px,#001bff 741px,#000aff 871px)"></i>
<i class="a" style="background:linear-gradient(90deg,#000aff 0,#0026ff 189px,#003fff 284px,#005fff 347px,#007dff 377px,#00a5ff 411px,#00b0ff 429px,#00adff 449px,#008cff 482px,#0067ff 514px,#004fff 551px,#0036ff 612px,#001cff 735px,#000aff 871px)"></i>
<i class="a" style="background:linear-gradient(90deg,#000aff 0,#0026ff 190px,#003fff 284px,#0060ff 347px,#007dff 376px,#00a8ff 412px,#00b3ff 429px,#00b0ff 449px,#008cff 483px,#0067ff 514px,#0050ff 549px,#0037ff 608px,#001dff 730px,#000aff 871px)"></i>
<i class="a" style="background:linear-gradient(90deg,#000aff 0,#0026ff 190px,#003fff 284px,#005fff 346px,#007cff 375px,#00aeff 415px,#00b6ff 430px,#00b3ff 449px,#008aff 485px,#06f 515px,#004fff 552px,#0036ff 613px,#001cff 736px,#000aff 871px)"></i>
<i class="a" style="background:linear-gradient(90deg,#000aff 0,#0026ff 191px,#003fff 284px,#005fff 346px,#007cff 374px,#00b3ff 418px,#00b9ff 432px,#00b5ff 449px,#08f 487px,#06f 516px,#004dff 556px,#0034ff 619px,#001bff 743px,#000aff 871px)"></i>
<i class="a" style="background:linear-gradient(90deg,#000aff 0,#0026ff 191px,#003fff 284px,#005fff 345px,#007bff 373px,#00b8ff 420px,#00bdff 434px,#00b8ff 449px,#0068ff 514px,#0053ff 545px,#0039ff 603px,#001eff 721px,#000aff 871px)"></i>
<i class="a" style="background:linear-gradient(90deg,#000aff 0,#0026ff 191px,#003fff 284px,#005fff 345px,#007bff 372px,#00bcff 421px,#00c0ff 435px,#00bcff 449px,#0069ff 513px,#0054ff 543px,#0039ff 601px,#001eff 718px,#000aff 871px)"></i>
<i class="a" style="background:linear-gradient(90deg,#000aff 0,#0026ff 192px,#003fff 284px,#005fff 345px,#007bff 372px,#00c0ff 422px,#00c4ff 435px,#00c0ff 448px,#006bff 512px,#05f 541px,#003aff 600px,#001fff 716px,#000aff 871px)"></i>
<i class="a" style="background:linear-gradient(90deg,#000aff 0,#0026ff 192px,#003fff 284px,#005eff 344px,#0079ff 370px,#00c4ff 423px,#00c8ff 437px,#00c3ff 448px,#006dff 510px,#0057ff 537px,#003bff 597px,#0020ff 709px,#000aff 871px)"></i>
<i class="a" style="background:linear-gradient(90deg,#000aff 0,#0026ff 193px,#003fff 284px,#005eff 344px,#007aff 370px,#00c9ff 424px,#0cf 440px,#00c3ff 451px,#0070ff 508px,#0059ff 534px,#003cff 594px,#0021ff 701px,#000aff 871px)"></i>
<i class="a" style="background:linear-gradient(90deg,#000aff 0,#0026ff 193px,#003fff 284px,#005eff 343px,#0078ff 368px,#00ceff 425px,#00d0ff 443px,#00bfff 456px,#0074ff 505px,#005bff 531px,#003dff 591px,#02f 693px,#000aff 871px)"></i>
<i class="a" style="background:linear-gradient(90deg,#000aff 0,#0026ff 193px,#003fff 284px,#005eff 343px,#0078ff 368px,#00bdff 411px,#00d4ff 426px,#00d4ff 444px,#00bdff 459px,#0078ff 502px,#005eff 527px,#003fff 586px,#0025ff 678px,#000aff 871px)"></i>
<i class="a" style="background:linear-gradient(90deg,#0009ff 0,#0026ff 194px,#003fff 284px,#005eff 343px,#0079ff 368px,#00baff 408px,#00d8ff 425px,#00daff 440px,#00d2ff 449px,#0094ff 484px,#006cff 512px,#0057ff 538px,#003bff 595px,#0020ff 704px,#0009ff 871px)"></i>
<i class="a" style="background:linear-gradient(90deg,#0009ff 0,#0026ff 194px,#003fff 284px,#005dff 342px,#0076ff 366px,#00b4ff 404px,#0df 425px,#00e0ff 436px,#0df 445px,#0097ff 483px,#006cff 512px,#0057ff 538px,#003bff 595px,#0020ff 703px,#0009ff 871px)"></i>
<i class="a" style="background:linear-gradient(90deg,#0009ff 0,#0026ff 194px,#003eff 284px,#005dff 342px,#07f 366px,#00b2ff 402px,#00e2ff 425px,#00e6ff 434px,#00e3ff 444px,#00caff 457px,#009dff 480px,#006eff 511px,#0058ff 536px,#003cff 593px,#0021ff 698px,#0009ff 871px)"></i>
<i class="a" style="background:linear-gradient(90deg,#0009ff 0,#0026ff 195px,#003eff 284px,#005dff 341px,#0075ff 364px,#00b0ff 400px,#00e8ff 425px,#00ecff 433px,#00e9ff 444px,#00cdff 457px,#00a3ff 477px,#006fff 510px,#0059ff 534px,#003cff 591px,#02f 693px,#0009ff 871px)"></i>
<i class="a" style="background:linear-gradient(90deg,#0009ff 0,#0026ff 195px,#003eff 284px,#005dff 341px,#0075ff 364px,#00aeff 398px,#00d9ff 416px,#00f0ff 426px,#00f3ff 435px,#00f0ff 444px,#00d1ff 457px,#00a8ff 475px,#0071ff 509px,#005bff 532px,#003dff 589px,#0023ff 686px,#0009ff 871px)"></i>
<i class="a" style="background:linear-gradient(90deg,#0009ff 0,#0026ff 195px,#003eff 284px,#005cff 340px,#0074ff 363px,#00aeff 397px,#00d5ff 413px,#00f7ff 426px,#00fbff 433px,#00f8ff 443px,#00e0ff 453px,#00b4ff 470px,#007eff 500px,#0062ff 523px,#0042ff 578px,#002aff 654px,#0013ff 790px,#0009ff 871px)"></i>
<i class="a" style="background:linear-gradient(90deg,#0009ff 0,#0025ff 195px,#003eff 284px,#005cff 340px,#0073ff 362px,#00adff 396px,#00d2ff 411px,#00feff 426px,#00fffb 433px,#00fffe 443px,#00f1ff 449px,#00bcff 467px,#0095ff 487px,#006cff 513px,#0058ff 537px,#003cff 591px,#02f 693px,#0009ff 871px)"></i>
<i class="a" style="background:linear-gradient(90deg,#0009ff 0,#0026ff 196px,#003eff 284px,#005bff 339px,#0072ff 361px,#0af 394px,#00cfff 409px,#00feff 423px,#00fff2 429px,#00fff3 442px,#00feff 447px,#00c4ff 465px,#009dff 483px,#006eff 512px,#0059ff 535px,#003dff 589px,#0023ff 686px,#0009ff 871px)"></i>
<i class="a" style="background:linear-gradient(90deg,#0009ff 0,#0025ff 196px,#003eff 283px,#005aff 337px,#006fff 359px,#00a3ff 390px,#00c9ff 406px,#00fbff 420px,#00fffb 422px,#00ffe9 428px,#00ffe9 442px,#0ff 449px,#0cf 463px,#00a5ff 479px,#0071ff 510px,#005bff 532px,#003eff 586px,#0026ff 673px,#0009ff 868px,#0009ff 871px)"></i>
<i class="a" style="background:linear-gradient(90deg,#0009ff 0,#0025ff 196px,#003eff 283px,#0059ff 336px,#006eff 358px,#00a0ff 388px,#00c6ff 404px,#00f0ff 416px,#00fffd 420px,#00ffdf 427px,#00ffdb 431px,#0fd 442px,#00fff3 448px,#00fdff 451px,#00cfff 463px,#0af 477px,#0072ff 509px,#005cff 530px,#003fff 584px,#0027ff 666px,#000aff 854px,#0009ff 871px)"></i>
<i class="a" style="background:linear-gradient(90deg,#0009ff 0,#0025ff 196px,#003dff 283px,#0058ff 334px,#006cff 356px,#0096ff 382px,#00baff 399px,#00e0ff 411px,#00feff 418px,#00ffd3 427px,#00ffcd 430px,#00ffce 441px,#00ffdb 445px,#00feff 452px,#00d5ff 462px,#00b0ff 475px,#007cff 503px,#0061ff 524px,#0041ff 578px,#002aff 651px,#0014ff 780px,#0009ff 871px)"></i>
<i class="a" style="background:linear-gradient(90deg,#0008ff 0,#0025ff 196px,#003dff 282px,#0056ff 330px,#0068ff 353px,#08f 374px,#00b1ff 395px,#00d4ff 407px,#0ff 417px,#00ffc5 427px,#00ffbe 430px,#00ffbf 441px,#00ffd0 445px,#0ff 453px,#00d4ff 463px,#00b1ff 475px,#0081ff 500px,#0064ff 521px,#0046ff 567px,#002fff 631px,#0019ff 745px,#0008ff 871px)"></i>
<i class="a" style="background:linear-gradient(90deg,#0008ff 0,#0025ff 196px,#003dff 282px,#0054ff 327px,#0067ff 352px,#0087ff 373px,#00b3ff 395px,#00d7ff 407px,#0ff 416px,#00ffb6 427px,#00ffac 430px,#00ffae 441px,#00ffbc 444px,#0ff 454px,#00d7ff 463px,#00b3ff 475px,#0087ff 497px,#0067ff 518px,#0054ff 543px,#003dff 588px,#0025ff 675px,#0008ff 871px)"></i>
<i class="a" style="background:linear-gradient(90deg,#0008ff 0,#0025ff 196px,#003cff 281px,#0052ff 323px,#0065ff 350px,#0082ff 370px,#00b1ff 394px,#00d6ff 406px,#00f9ff 414px,#0ff 415px,#00ffd6 421px,#00ff9d 428px,#00ff95 430px,#00ff98 441px,#00ffb4 445px,#00ffec 452px,#0ff 455px,#00daff 463px,#00b7ff 474px,#0093ff 491px,#006bff 515px,#0058ff 536px,#003eff 584px,#0027ff 662px,#000aff 849px,#0008ff 871px)"></i>
<i class="a" style="background:linear-gradient(90deg,#0008ff 0,#0025ff 195px,#003cff 281px,#0050ff 321px,#0065ff 350px,#0083ff 370px,#00b0ff 393px,#00d4ff 405px,#00f8ff 413px,#00feff 414px,#00ffe5 418px,#00ffba 423px,#00ff84 428px,#00ff7c 429px,#00ff79 431px,#00ff79 440px,#00ff7c 441px,#00ff8e 443px,#00ffc3 448px,#00ffed 453px,#00feff 456px,#00d8ff 464px,#00b5ff 475px,#0092ff 492px,#006bff 515px,#0058ff 536px,#003fff 583px,#0028ff 658px,#0012ff 796px,#0008ff 871px)"></i>
<i class="a" style="background:linear-gradient(90deg,#0008ff 0,#0025ff 195px,#003cff 280px,#0050ff 320px,#0065ff 350px,#0083ff 370px,#00b1ff 393px,#00d3ff 404px,#00f7ff 412px,#00fffc 414px,#00ffd6 419px,#00ffad 423px,#00ff65 428px,#00ff5a 429px,#0f5 430px,#0f5 440px,#00ff5a 441px,#00ff73 443px,#00ffad 447px,#00ffd6 451px,#00fffc 456px,#00f7ff 458px,#00cfff 467px,#00acff 479px,#0072ff 510px,#005dff 529px,#0040ff 579px,#002aff 649px,#0015ff 770px,#0008ff 871px)"></i>
<i class="a" style="background:linear-gradient(90deg,#0008ff 0,#0024ff 195px,#003bff 279px,#004fff 319px,#0065ff 350px,#0082ff 369px,#00b0ff 392px,#00d1ff 403px,#00f5ff 411px,#00fffe 413px,#00ffd8 418px,#00ffae 422px,#00ff90 424px,#00ff2f 429px,#00ff28 430px,#00ff28 440px,#00ff2f 441px,#0f5 443px,#00ff90 446px,#00ffae 448px,#00ffd8 452px,#00fffe 457px,#00d5ff 466px,#00b2ff 477px,#0085ff 499px,#06f 519px,#0053ff 544px,#003fff 582px,#0029ff 653px,#0013ff 786px,#0008ff 871px)"></i>
<i class="a" style="background:linear-gradient(90deg,#0008ff 0,#0024ff 194px,#003bff 278px,#004eff 318px,#0065ff 350px,#0082ff 369px,#00b0ff 392px,#00d3ff 403px,#00f8ff 411px,#00feff 412px,#00ffe4 416px,#00ffbd 420px,#00ffa3 422px,#00ff7f 424px,#00ff4f 426px,#00ff15 428px,#07ff00 429px,#14ff00 430px,#14ff00 433px,#7eff00 435px,#14ff00 437px,#14ff00 440px,#07ff00 441px,#00ff15 442px,#00ff4f 444px,#00ff7f 446px,#00ffa3 448px,#00ffc8 451px,#00fff3 456px,#00feff 458px,#00d7ff 466px,#00b3ff 477px,#0090ff 494px,#006bff 515px,#0059ff 534px,#0040ff 579px,#002cff 640px,#0018ff 747px,#0008ff 871px)"></i>
<i class="a" style="background:linear-gradient(90deg,#0008ff 0,#0024ff 193px,#003aff 277px,#004dff 317px,#0064ff 350px,#0082ff 369px,#00b1ff 392px,#00d5ff 403px,#00fbff 411px,#00fffd 412px,#00ffd6 417px,#00ffb5 420px,#00ff98 422px,#00ff6e 424px,#00ff54 425px,#00ff35 426px,#00ff10 427px,#1dff00 428px,#4fff00 429px,#69ff00 430px,#69ff00 431px,#baff00 432px,#ffed00 433px,#ffd200 434px,#ffbd00 435px,#ffd200 436px,#ffed00 437px,#baff00 438px,#69ff00 439px,#69ff00 440px,#4fff00 441px,#1dff00 442px,#00ff10 443px,#00ff35 444px,#00ff54 445px,#00ff85 447px,#00ffa8 449px,#0fc 452px,#00fff6 457px,#00fffd 458px,#00d9ff 466px,#00b7ff 476px,#0096ff 491px,#0069ff 516px,#0058ff 535px,#0040ff 578px,#002eff 635px,#0019ff 741px,#0008ff 871px)"></i>
<i class="a" style="background:linear-gradient(90deg,#0008ff 0,#0024ff 193px,#003aff 276px,#004cff 316px,#0064ff 350px,#0081ff 368px,#00b2ff 392px,#00d3ff 402px,#00f8ff 410px,#00feff 411px,#00ffe2 415px,#0fb 419px,#00ffa0 421px,#00ff78 423px,#00ff60 424px,#00ff42 425px,#00ff1d 426px,#1f0 427px,#52ff00 428px,#b9ff00 429px,#fff700 430px,#ffdc00 431px,#ff5700 433px,#ff6500 434px,#ff7e00 435px,#ff6500 436px,#ff5700 437px,#ffdc00 439px,#fff700 440px,#b9ff00 441px,#52ff00 442px,#1f0 443px,#00ff1d 444px,#00ff42 445px,#00ff60 446px,#00ff8e 448px,#00ffaf 450px,#00ffda 454px,#00fff9 458px,#00feff 459px,#00d7ff 467px,#00b5ff 477px,#0093ff 493px,#0069ff 516px,#0059ff 534px,#0040ff 577px,#002fff 631px,#0019ff 737px,#0008ff 871px)"></i>
<i class="a" style="background:linear-gradient(90deg,#0008ff 0,#0023ff 192px,#0039ff 275px,#004bff 315px,#0064ff 350px,#0081ff 368px,#00b0ff 391px,#00d0ff 401px,#00f5ff 409px,#00fffd 411px,#00ffd5 416px,#00ffb5 419px,#00ff98 421px,#00ff6e 423px,#00ff54 424px,#00ff34 425px,#00ff0d 426px,#26ff00 427px,#6dff00 428px,#d9ff00 429px,#ffb100 430px,#ff7000 431px,#ff5700 432px,#ff5300 433px,#ff6c00 434px,#ff7e00 435px,#ff6c00 436px,#ff5300 437px,#ff5700 438px,#ff7000 439px,#ffb100 440px,#d9ff00 441px,#6dff00 442px,#26ff00 443px,#00ff0d 444px,#00ff34 445px,#00ff54 446px,#00ff85 448px,#00ffa8 450px,#0fc 453px,#00fff6 458px,#00fffd 459px,#00d4ff 468px,#00b3ff 478px,#0085ff 500px,#0065ff 519px,#05f 541px,#0040ff 576px,#002fff 628px,#001cff 718px,#0008ff 871px)"></i>
<i class="a" style="background:linear-gradient(90deg,#0008ff 0,#0023ff 191px,#0038ff 274px,#004aff 314px,#0064ff 350px,#0082ff 368px,#00b1ff 391px,#00d2ff 401px,#00f8ff 409px,#00feff 410px,#00ffe3 414px,#00ffbd 418px,#00ffa3 420px,#00ff7e 422px,#00ff67 423px,#00ff4c 424px,#00ff2c 425px,#00ff04 426px,#2eff00 427px,#6eff00 428px,#c4ff00 429px,#fc0 430px,#ff6d00 431px,#f40 432px,#ff5100 433px,#ff7200 434px,#ff7e00 435px,#ff7200 436px,#ff5100 437px,#f40 438px,#ff6d00 439px,#fc0 440px,#c4ff00 441px,#6eff00 442px,#2eff00 443px,#00ff04 444px,#00ff2c 445px,#00ff4c 446px,#00ff67 447px,#00ff92 449px,#00ffb1 451px,#00ffdb 455px,#00fffa 459px,#00feff 460px,#00d6ff 468px,#00b3ff 478px,#0092ff 494px,#0069ff 516px,#0059ff 533px,#0041ff 575px,#0030ff 626px,#001dff 711px,#0007ff 871px)"></i>
<i class="a" style="background:linear-gradient(90deg,#0007ff 0,#0023ff 190px,#0037ff 272px,#004aff 314px,#0064ff 350px,#0080ff 367px,#00b1ff 391px,#00cfff 400px,#00f4ff 408px,#00fffe 410px,#00ffd7 415px,#00ffac 419px,#00ff8d 421px,#00ff62 423px,#00ff47 424px,#00ff28 425px,#00ff02 426px,#2bff00 427px,#64ff00 428px,#af0 429px,#fffd00 430px,#ff9b00 431px,#ff4c00 432px,#ff4a00 433px,#ff7200 434px,#ff7e00 435px,#ff7200 436px,#ff4a00 437px,#ff4c00 438px,#ff9b00 439px,#fffd00 440px,#af0 441px,#64ff00 442px,#2bff00 443px,#00ff02 444px,#00ff28 445px,#00ff47 446px,#00ff79 448px,#00ff9e 450px,#00ffc4 453px,#00fff0 458px,#00fffe 460px,#00d3ff 469px,#00b4ff 478px,#0092ff 494px,#0067ff 517px,#0059ff 534px,#0040ff 575px,#0030ff 624px,#001eff 707px,#0007ff 871px)"></i>
<i class="a" style="background:linear-gradient(90deg,#0007ff 0,#02f 189px,#0036ff 270px,#0049ff 313px,#0063ff 350px,#0080ff 367px,#00b2ff 391px,#00d0ff 400px,#00f7ff 408px,#00fffb 410px,#00ffd4 415px,#00ffa9 419px,#00ff89 421px,#00ff60 423px,#00ff47 424px,#00ff29 425px,#00ff07 426px,#21ff00 427px,#50ff00 428px,#8f0 429px,#c9ff00 430px,#ffec00 431px,#ffa100 432px,#ff8d00 433px,#ffa500 434px,#ffad00 435px,#ffa500 436px,#ff8d00 437px,#ffa100 438px,#ffec00 439px,#c9ff00 440px,#8f0 441px,#50ff00 442px,#21ff00 443px,#00ff07 444px,#00ff29 445px,#00ff47 446px,#00ff76 448px,#00ff9b 450px,#00ffc0 453px,#00ffed 458px,#00fffb 460px,#00f7ff 462px,#00d0ff 470px,#00b2ff 479px,#006dff 513px,#005cff 528px,#0040ff 574px,#0030ff 623px,#001eff 705px,#0007ff 871px)"></i>
<i class="a" style="background:linear-gradient(90deg,#0007ff 0,#02f 188px,#0036ff 269px,#0049ff 313px,#0063ff 350px,#0081ff 367px,#00b2ff 391px,#00d1ff 400px,#00f9ff 408px,#0ff 409px,#00ffd1 415px,#00ffa6 419px,#0f8 421px,#00ff61 423px,#00ff2f 425px,#00ff12 426px,#10ff00 427px,#36ff00 428px,#90ff00 430px,#ef0 432px,#fffb00 433px,#ff0 435px,#fffb00 437px,#ef0 438px,#61ff00 441px,#36ff00 442px,#10ff00 443px,#00ff12 444px,#00ff4a 446px,#00ff75 448px,#00ff98 450px,#00ffbd 453px,#00ffea 458px,#0ff 461px,#00d5ff 469px,#00b5ff 478px,#0095ff 493px,#0067ff 517px,#0059ff 532px,#0040ff 573px,#0030ff 622px,#001eff 703px,#0007ff 871px)"></i>
<i class="a" style="background:linear-gradient(90deg,#0007ff 0,#02f 187px,#0034ff 267px,#0048ff 312px,#0059ff 338px,#0067ff 353px,#00b0ff 390px,#00ceff 399px,#00f5ff 407px,#00fffc 409px,#00ffce 415px,#00ffa4 419px,#00ff76 422px,#00ff4f 424px,#00ff1f 426px,#00ff04 427px,#1aff00 428px,#7cff00 431px,#98ff00 432px,#a9ff00 433px,#afff00 434px,#afff00 436px,#a9ff00 437px,#98ff00 438px,#7cff00 439px,#1aff00 442px,#00ff04 443px,#00ff38 445px,#00ff64 447px,#00ff97 450px,#0fb 453px,#00ffe7 458px,#00fffc 461px,#00eaff 465px,#00c2ff 474px,#00a7ff 484px,#0065ff 518px,#0059ff 533px,#0040ff 573px,#0030ff 621px,#001eff 701px,#0007ff 871px)"></i>
<i class="a" style="background:linear-gradient(90deg,#0007ff 0,#0017ff 124px,#0029ff 225px,#0037ff 273px,#0047ff 311px,#0058ff 335px,#0063ff 351px,#0084ff 368px,#00b3ff 391px,#00cfff 399px,#00f8ff 407px,#00feff 408px,#00ffdc 413px,#00ffae 418px,#0f8 421px,#00ff56 424px,#00ff18 427px,#00ff01 428px,#45ff00 431px,#57ff00 432px,#64ff00 433px,#6bff00 434px,#6bff00 436px,#64ff00 437px,#57ff00 438px,#2fff00 440px,#00ff01 442px,#00ff43 445px,#00ff78 448px,#00ffa3 451px,#00ffd4 456px,#00fffa 461px,#00feff 462px,#00d3ff 470px,#00b6ff 478px,#0098ff 492px,#0065ff 518px,#0059ff 532px,#004aff 555px,#003fff 574px,#0030ff 620px,#001dff 700px,#0007ff 871px)"></i>
<i class="a" style="background:linear-gradient(90deg,#0007ff 0,#0017ff 120px,#0028ff 222px,#0037ff 273px,#0046ff 311px,#0057ff 334px,#0062ff 350px,#007eff 365px,#00b3ff 391px,#00d0ff 399px,#00fffe 408px,#00ffc8 415px,#00ffa2 419px,#00ff6d 423px,#00ff2b 427px,#00ff08 429px,#09ff00 430px,#26ff00 432px,#34ff00 434px,#34ff00 436px,#26ff00 438px,#09ff00 440px,#00ff08 441px,#00ff5d 446px,#00ff96 450px,#00ffc0 454px,#00fff7 461px,#00fffe 462px,#00d0ff 471px,#00b3ff 479px,#0064ff 518px,#0059ff 532px,#004bff 554px,#0040ff 572px,#0035ff 601px,#0025ff 666px,#0017ff 748px,#000cff 828px,#0007ff 871px)"></i>
<i class="a" style="background:linear-gradient(90deg,#0007ff 0,#0016ff 118px,#0026ff 220px,#0030ff 251px,#0037ff 273px,#0045ff 310px,#0056ff 333px,#0060ff 349px,#0079ff 363px,#009bff 379px,#00b3ff 391px,#00d1ff 399px,#00fcff 407px,#00fff5 409px,#00ffb5 417px,#00ff8a 421px,#00ff15 430px,#00ff01 432px,#0aff00 434px,#0aff00 436px,#00ff01 438px,#00ff21 441px,#00ff8a 449px,#00ffb5 453px,#00fff5 461px,#00fcff 463px,#0cf 472px,#00b1ff 480px,#007eff 505px,#0061ff 520px,#004aff 554px,#003fff 572px,#0036ff 598px,#0030ff 620px,#0025ff 665px,#0016ff 747px,#000dff 826px,#0007ff 871px)"></i>
<i class="a" style="background:linear-gradient(90deg,#0007ff 0,#0012ff 82px,#0021ff 186px,#0029ff 227px,#002fff 254px,#0039ff 277px,#04f 309px,#0056ff 332px,#005fff 349px,#07f 362px,#09f 378px,#00b3ff 391px,#00cdff 398px,#00fdff 407px,#00ffd5 413px,#00ffa1 419px,#00ff37 429px,#00ff1f 432px,#00ff17 435px,#00ff1f 438px,#00ff37 441px,#00ffab 452px,#00fff3 461px,#00fdff 463px,#00cdff 472px,#00b3ff 479px,#0097ff 493px,#0062ff 519px,#0058ff 532px,#004dff 551px,#003fff 569px,#0037ff 596px,#002fff 617px,#0029ff 643px,#0024ff 668px,#001cff 708px,#0012ff 797px,#0007ff 871px)"></i>
<i class="a" style="background:linear-gradient(90deg,#0007ff 0,#0012ff 80px,#0020ff 184px,#0029ff 227px,#002fff 252px,#0036ff 272px,#003eff 294px,#04f 310px,#05f 331px,#005dff 348px,#0072ff 360px,#0098ff 377px,#00b0ff 390px,#00c8ff 397px,#00f9ff 406px,#0ff 407px,#00ffb3 417px,#00ff4f 428px,#00ff37 432px,#00ff31 435px,#00ff37 438px,#00ff4f 442px,#0fb 454px,#0ff 463px,#00cdff 472px,#00b3ff 479px,#09f 492px,#007eff 505px,#0061ff 519px,#0057ff 532px,#004eff 550px,#003fff 569px,#0038ff 594px,#002fff 615px,#002aff 641px,#0024ff 663px,#001cff 709px,#0012ff 793px,#0007ff 871px)"></i>
<i class="a" style="background:linear-gradient(90deg,#0007ff 0,#000fff 53px,#0019ff 143px,#0020ff 186px,#0028ff 226px,#002fff 249px,#03f 269px,#003dff 291px,#0042ff 309px,#0054ff 330px,#005cff 348px,#0070ff 359px,#0096ff 376px,#00b0ff 390px,#00c8ff 397px,#00f3ff 405px,#00fffe 407px,#0f9 420px,#00ff69 426px,#00ff4d 431px,#00ff45 435px,#00ff4d 439px,#00ff69 444px,#00ffe8 460px,#00fffe 463px,#00cdff 472px,#00b2ff 479px,#009bff 491px,#0083ff 503px,#0062ff 518px,#0057ff 530px,#004eff 549px,#003eff 568px,#0038ff 594px,#002fff 614px,#002aff 639px,#0024ff 660px,#001fff 686px,#01f 789px,#000dff 824px,#0006ff 871px)"></i>
<i class="a" style="background:linear-gradient(90deg,#0006ff 0,#000fff 52px,#0019ff 143px,#001fff 185px,#0023ff 210px,#002eff 249px,#0032ff 268px,#003cff 290px,#0041ff 308px,#0054ff 330px,#005bff 348px,#006fff 359px,#0094ff 375px,#00afff 390px,#00c8ff 397px,#00fffd 407px,#0f7 425px,#00ff5e 430px,#0f5 434px,#00ff58 438px,#00ff6b 443px,#00ff93 449px,#00fffd 463px,#00c8ff 473px,#00afff 480px,#0085ff 502px,#0061ff 518px,#0057ff 529px,#004fff 548px,#003eff 567px,#0038ff 593px,#002eff 614px,#002bff 638px,#0023ff 659px,#0020ff 684px,#001cff 708px,#01f 791px,#000dff 825px,#0006ff 871px)"></i>
<i class="a" style="background:linear-gradient(90deg,#0006ff 0,#000fff 51px,#001dff 179px,#0023ff 205px,#0026ff 225px,#002eff 246px,#0031ff 267px,#003cff 289px,#003fff 307px,#0054ff 330px,#005aff 348px,#006eff 359px,#0094ff 375px,#00aeff 390px,#00c7ff 397px,#00fffd 407px,#00ff89 423px,#00ff70 428px,#00ff63 433px,#00ff65 438px,#00ff74 443px,#00ff90 448px,#00fffd 463px,#00c7ff 473px,#00aeff 480px,#08f 501px,#0061ff 517px,#0056ff 528px,#004fff 547px,#003dff 567px,#0038ff 592px,#002dff 613px,#002bff 637px,#0023ff 658px,#0020ff 682px,#001bff 705px,#0017ff 733px,#000eff 822px,#0006ff 871px)"></i>
<i class="a" style="background:linear-gradient(90deg,#0006ff 0,#000eff 51px,#001cff 179px,#0023ff 204px,#0025ff 224px,#002dff 245px,#002fff 266px,#003bff 288px,#003eff 307px,#0053ff 330px,#0059ff 348px,#006bff 358px,#0092ff 374px,#00adff 390px,#00c5ff 397px,#00f3ff 405px,#00fffe 407px,#00ffad 418px,#00ff84 425px,#00ff73 430px,#00ff6e 436px,#00ff76 441px,#00ff89 446px,#00ffc2 455px,#00fffe 463px,#00caff 472px,#00afff 479px,#009dff 489px,#008aff 500px,#0060ff 517px,#0056ff 527px,#0050ff 546px,#003cff 567px,#0038ff 592px,#002dff 613px,#002bff 636px,#02f 658px,#0020ff 681px,#001bff 704px,#0018ff 729px,#01f 799px,#0006ff 871px)"></i>
<i class="a" style="background:linear-gradient(90deg,#0006ff 0,#000eff 50px,#0010ff 81px,#0014ff 122px,#001aff 164px,#001eff 185px,#02f 205px,#0024ff 224px,#002dff 244px,#002eff 265px,#003bff 287px,#003cff 306px,#0053ff 330px,#0057ff 347px,#0067ff 357px,#0092ff 374px,#00abff 390px,#00c4ff 397px,#00f2ff 405px,#00fffe 407px,#00ffb5 417px,#00ff8f 424px,#00ff7d 430px,#00ff7a 437px,#00ff84 443px,#00ff98 448px,#00ffc9 456px,#00fffe 463px,#00ceff 471px,#00b4ff 477px,#00a1ff 485px,#008aff 500px,#005fff 517px,#0054ff 527px,#004fff 546px,#003bff 566px,#0038ff 591px,#002cff 612px,#002bff 635px,#0021ff 657px,#0020ff 680px,#001aff 703px,#0018ff 727px,#0015ff 752px,#000dff 822px,#0006ff 871px)"></i>
<i class="a" style="background:linear-gradient(90deg,#0006ff 0,#000eff 50px,#0010ff 78px,#0014ff 122px,#001aff 163px,#001dff 183px,#02f 203px,#0023ff 223px,#002dff 244px,#002dff 265px,#003aff 287px,#003bff 306px,#0052ff 329px,#0056ff 347px,#06f 357px,#0091ff 374px,#00a7ff 389px,#00bdff 396px,#00e3ff 403px,#0ff 407px,#00ffbd 416px,#0f9 423px,#00ff89 429px,#00ff85 437px,#00ff8f 444px,#00ffa7 450px,#00ffca 456px,#0ff 463px,#0cf 471px,#00b2ff 477px,#00a0ff 485px,#008cff 499px,#005dff 517px,#0053ff 527px,#004fff 545px,#003aff 566px,#0037ff 591px,#002bff 612px,#002bff 635px,#0021ff 656px,#0020ff 680px,#0019ff 702px,#0018ff 726px,#0014ff 750px,#0010ff 780px,#000fff 818px,#0006ff 866px,#0006ff 871px)"></i>
<i class="a" style="background:linear-gradient(90deg,#0006ff 0,#000eff 49px,#0010ff 76px,#0014ff 104px,#0016ff 139px,#001aff 161px,#001cff 182px,#02f 202px,#02f 222px,#002cff 243px,#002cff 264px,#0039ff 286px,#003aff 306px,#0051ff 329px,#0054ff 347px,#0062ff 356px,#008fff 373px,#00a7ff 390px,#00bfff 397px,#00e8ff 404px,#00fdff 407px,#00ffbf 416px,#00ffa6 421px,#00ff96 427px,#00ff91 436px,#00ff98 444px,#0fa 450px,#00ffc5 455px,#00fdff 463px,#00c9ff 471px,#00afff 477px,#009eff 485px,#008bff 499px,#005eff 516px,#0052ff 526px,#004fff 545px,#0039ff 565px,#0037ff 590px,#002aff 611px,#002bff 634px,#0020ff 656px,#0020ff 679px,#0019ff 701px,#0019ff 724px,#0014ff 748px,#0012ff 773px,#000eff 820px,#0006ff 869px,#0006ff 871px)"></i>
<i class="a" style="background:linear-gradient(90deg,#0006ff 0,#000dff 49px,#0010ff 75px,#0012ff 100px,#0016ff 140px,#001aff 160px,#001aff 181px,#0021ff 201px,#0020ff 221px,#002cff 243px,#002aff 263px,#0039ff 286px,#0038ff 306px,#0050ff 329px,#0051ff 346px,#005eff 355px,#008fff 373px,#00a5ff 390px,#00b8ff 396px,#00d8ff 402px,#00fbff 407px,#00fffb 408px,#00ffc7 415px,#00ffaf 420px,#00ffa1 426px,#00ff9f 440px,#00ffa6 447px,#00ffb7 452px,#00ffd5 457px,#00fffb 462px,#00f4ff 464px,#00c6ff 471px,#00adff 477px,#009cff 485px,#008cff 498px,#005cff 516px,#0050ff 526px,#004eff 544px,#0038ff 565px,#0037ff 590px,#0029ff 611px,#002aff 633px,#001fff 655px,#001fff 679px,#0018ff 701px,#0018ff 724px,#0013ff 747px,#0012ff 771px,#0010ff 796px,#000dff 823px,#0006ff 871px)"></i>
<i class="a" style="background:linear-gradient(90deg,#0006ff 0,#000dff 49px,#0010ff 74px,#01f 98px,#0013ff 120px,#0016ff 141px,#0019ff 160px,#0019ff 180px,#0021ff 200px,#001fff 221px,#002bff 243px,#0029ff 263px,#0038ff 286px,#0036ff 305px,#004fff 329px,#004fff 346px,#005eff 356px,#008dff 373px,#00a2ff 390px,#00b5ff 396px,#00d5ff 402px,#00fffe 408px,#00ffcb 415px,#00ffb4 420px,#00ffab 426px,#00ffac 446px,#00ffb8 451px,#00ffd1 456px,#00fffe 462px,#00c9ff 470px,#00adff 476px,#009dff 483px,#008bff 498px,#005aff 516px,#004eff 526px,#004dff 544px,#0036ff 565px,#0036ff 590px,#0028ff 611px,#002aff 633px,#001eff 655px,#001fff 678px,#0017ff 700px,#0018ff 723px,#0012ff 746px,#0012ff 770px,#000fff 794px,#000eff 819px,#0006ff 866px,#0006ff 871px)"></i>
<i class="a" style="background:linear-gradient(90deg,#0006ff 0,#000dff 49px,#000fff 74px,#01f 98px,#0012ff 120px,#0015ff 141px,#0019ff 160px,#0018ff 180px,#0020ff 200px,#001eff 221px,#002aff 242px,#0027ff 263px,#0037ff 285px,#0035ff 305px,#0045ff 320px,#004eff 331px,#004dff 346px,#005cff 356px,#008bff 373px,#009fff 390px,#00b2ff 396px,#00d2ff 402px,#00fcff 408px,#00ffe3 412px,#00ffc5 417px,#00ffb7 422px,#00ffb5 430px,#00ffb6 447px,#00ffc1 452px,#00ffdc 457px,#00fffa 461px,#00fcff 462px,#00c5ff 470px,#0af 476px,#009aff 483px,#008bff 497px,#0058ff 516px,#004cff 526px,#004cff 544px,#0035ff 565px,#0035ff 590px,#0027ff 610px,#0029ff 633px,#001dff 655px,#001fff 678px,#0017ff 700px,#0018ff 723px,#0012ff 746px,#0012ff 770px,#000fff 794px,#000eff 819px,#0006ff 866px,#0006ff 871px)"></i>
<i class="a" style="background:linear-gradient(90deg,#0006ff 0,#000dff 49px,#000fff 74px,#0010ff 98px,#0012ff 120px,#0014ff 141px,#0018ff 160px,#0018ff 180px,#001fff 200px,#001dff 221px,#0029ff 242px,#0026ff 263px,#0035ff 285px,#03f 305px,#04f 320px,#004cff 330px,#004bff 346px,#005aff 356px,#0089ff 373px,#009cff 390px,#00aeff 396px,#00ceff 402px,#0ff 409px,#00ffd6 415px,#00ffc3 420px,#00ffbe 426px,#00ffc0 439px,#00ffc0 448px,#00ffcd 453px,#00ffe9 458px,#0ff 461px,#00c2ff 470px,#00a7ff 476px,#0097ff 483px,#0089ff 497px,#0056ff 516px,#004aff 525px,#004aff 544px,#03f 565px,#03f 590px,#0025ff 610px,#0028ff 633px,#001cff 655px,#001eff 678px,#0016ff 700px,#0017ff 723px,#01f 746px,#01f 769px,#000eff 793px,#000eff 818px,#0006ff 865px,#0006ff 871px)"></i>
<i class="a" style="background:linear-gradient(90deg,#0005ff 0,#000dff 50px,#000eff 76px,#01f 101px,#0013ff 139px,#0017ff 159px,#0017ff 180px,#001eff 201px,#001cff 221px,#0028ff 243px,#0025ff 263px,#0034ff 285px,#0032ff 306px,#0049ff 328px,#0049ff 346px,#0058ff 356px,#0085ff 373px,#09f 390px,#00abff 396px,#00c9ff 402px,#00fffe 410px,#00ffde 415px,#00ffcd 420px,#00ffc9 426px,#0fc 439px,#00ffca 448px,#00ffd6 453px,#00fff0 458px,#00fffe 460px,#00beff 470px,#00a4ff 476px,#0094ff 483px,#0083ff 498px,#0054ff 516px,#0048ff 525px,#0048ff 544px,#0032ff 565px,#0032ff 590px,#0024ff 610px,#0026ff 633px,#001bff 655px,#001dff 678px,#0015ff 700px,#0016ff 723px,#01f 747px,#0010ff 770px,#000eff 795px,#000cff 821px,#0005ff 871px)"></i>
<i class="a" style="background:linear-gradient(90deg,#0005ff 0,#000cff 50px,#000dff 77px,#0013ff 141px,#0016ff 161px,#0017ff 181px,#001dff 201px,#001cff 222px,#0026ff 243px,#0024ff 263px,#0032ff 285px,#0031ff 306px,#0047ff 329px,#0047ff 346px,#0057ff 356px,#0082ff 373px,#0096ff 390px,#00acff 397px,#00cbff 403px,#0ff 411px,#00ffe4 416px,#00ffd6 421px,#00ffd5 429px,#00ffd5 441px,#00ffd6 449px,#00ffe4 454px,#0ff 459px,#00baff 470px,#009dff 477px,#008fff 485px,#0080ff 498px,#0050ff 517px,#0046ff 526px,#0045ff 545px,#0030ff 565px,#0030ff 590px,#0023ff 610px,#0025ff 634px,#001aff 655px,#001bff 679px,#0015ff 701px,#0015ff 724px,#0010ff 748px,#000fff 772px,#000eff 798px,#0005ff 871px)"></i>
<i class="a" style="background:linear-gradient(90deg,#0005ff 0,#000cff 51px,#000fff 99px,#0012ff 141px,#0015ff 162px,#0017ff 183px,#001bff 202px,#001bff 222px,#0025ff 243px,#0023ff 264px,#0030ff 285px,#0030ff 306px,#04f 329px,#0046ff 347px,#0057ff 357px,#007eff 373px,#0093ff 390px,#00a8ff 397px,#00cdff 404px,#00feff 412px,#00ffe6 418px,#00ffde 424px,#00ffe0 440px,#00ffdf 448px,#00ffe9 453px,#00feff 458px,#00b6ff 470px,#009bff 477px,#008aff 486px,#007aff 499px,#004dff 518px,#04f 527px,#0042ff 545px,#002fff 565px,#002eff 591px,#02f 611px,#0023ff 634px,#0019ff 656px,#001aff 679px,#0014ff 702px,#0014ff 725px,#0010ff 749px,#000eff 774px,#000bff 822px,#0005ff 871px)"></i>
<i class="a" style="background:linear-gradient(90deg,#0005ff 0,#000dff 74px,#000fff 102px,#0012ff 141px,#0014ff 163px,#0016ff 184px,#001aff 203px,#001bff 223px,#0023ff 244px,#02f 264px,#002fff 286px,#002eff 306px,#0042ff 329px,#04f 347px,#05f 357px,#007aff 373px,#008fff 389px,#00a1ff 396px,#00c2ff 403px,#00fbff 413px,#00fffa 415px,#00ffeb 420px,#00ffe7 427px,#00ffe8 441px,#00ffea 449px,#00fff6 454px,#00fffe 456px,#00daff 463px,#00aeff 471px,#0095ff 478px,#0085ff 488px,#0075ff 500px,#0049ff 519px,#0042ff 529px,#0040ff 545px,#002dff 566px,#002dff 591px,#0021ff 611px,#02f 634px,#0019ff 656px,#0019ff 680px,#0014ff 703px,#0013ff 726px,#0010ff 750px,#000dff 778px,#000cff 821px,#0005ff 871px)"></i>
<i class="a" style="background:linear-gradient(90deg,#0005ff 0,#000dff 74px,#000fff 104px,#01f 141px,#0013ff 164px,#0017ff 186px,#0019ff 206px,#001bff 225px,#02f 244px,#02f 265px,#002eff 286px,#002dff 306px,#0040ff 329px,#0042ff 347px,#0051ff 356px,#07f 373px,#008bff 389px,#00a2ff 397px,#00c9ff 405px,#00f9ff 414px,#00fffe 416px,#00fff1 422px,#00fff1 448px,#00fffe 454px,#00ebff 459px,#0af 471px,#0092ff 478px,#0082ff 487px,#0072ff 500px,#0046ff 520px,#0040ff 530px,#003eff 546px,#002cff 566px,#002bff 591px,#0020ff 611px,#0020ff 635px,#0018ff 657px,#0018ff 680px,#0013ff 703px,#0012ff 727px,#000fff 752px,#000dff 798px,#0005ff 871px)"></i>
<i class="a" style="background:linear-gradient(90deg,#0005ff 0,#000cff 74px,#01f 142px,#0013ff 166px,#0018ff 205px,#001aff 225px,#0021ff 245px,#0021ff 265px,#002cff 286px,#002cff 306px,#003fff 330px,#0041ff 347px,#004fff 356px,#0074ff 373px,#08f 389px,#009fff 397px,#00c5ff 405px,#00f2ff 414px,#0ff 418px,#00fff7 424px,#00fff8 448px,#0ff 452px,#00eaff 458px,#00a7ff 471px,#008dff 479px,#007eff 488px,#006fff 500px,#04f 520px,#003eff 531px,#003cff 546px,#002bff 567px,#002aff 591px,#001fff 611px,#001fff 635px,#0017ff 657px,#0017ff 681px,#0013ff 704px,#01f 728px,#000fff 755px,#000cff 797px,#0005ff 871px)"></i>
<i class="a" style="background:linear-gradient(90deg,#0005ff 0,#000cff 75px,#01f 142px,#0012ff 167px,#0018ff 205px,#0019ff 225px,#0020ff 245px,#0020ff 265px,#002bff 287px,#002bff 306px,#003dff 330px,#003fff 347px,#004dff 356px,#0071ff 373px,#0085ff 389px,#009fff 398px,#00edff 414px,#00fdff 420px,#0ff 431px,#00feff 449px,#00f0ff 455px,#00cbff 463px,#009fff 472px,#0085ff 481px,#006aff 501px,#0042ff 520px,#003dff 531px,#003aff 546px,#002aff 567px,#002aff 590px,#001eff 611px,#001fff 635px,#0017ff 658px,#0016ff 681px,#0012ff 704px,#01f 728px,#000fff 755px,#000cff 798px,#0005ff 871px)"></i>
<i class="a" style="background:linear-gradient(90deg,#0005ff 0,#000bff 76px,#0010ff 143px,#0014ff 184px,#0017ff 205px,#0019ff 225px,#001fff 245px,#001fff 265px,#002aff 287px,#002aff 306px,#003cff 330px,#003dff 347px,#004bff 356px,#006fff 373px,#0081ff 389px,#009cff 398px,#00e7ff 414px,#00f7ff 420px,#00f9ff 428px,#00f8ff 449px,#00ebff 455px,#00c6ff 463px,#009cff 472px,#0081ff 481px,#0068ff 501px,#0042ff 519px,#003bff 529px,#0039ff 546px,#0028ff 567px,#0028ff 591px,#001dff 612px,#001eff 635px,#0016ff 658px,#0016ff 681px,#0012ff 705px,#0010ff 729px,#0009ff 827px,#0005ff 871px)"></i>
<i style="background:linear-gradient(90deg,#0005ff 0,#000bff 76px,#0010ff 143px,#0013ff 185px,#0016ff 206px,#0018ff 226px,#001eff 246px,#001eff 266px,#0028ff 287px,#0028ff 306px,#0039ff 330px,#003bff 347px,#004aff 357px,#006bff 373px,#007dff 389px,#0094ff 397px,#00baff 406px,#00dfff 414px,#0ef 420px,#00f0ff 429px,#00efff 449px,#00e2ff 455px,#00bfff 463px,#0097ff 472px,#007fff 480px,#0070ff 492px,#0060ff 503px,#003fff 519px,#0039ff 530px,#0037ff 546px,#0027ff 567px,#0026ff 591px,#001cff 612px,#001cff 636px,#0015ff 658px,#0015ff 682px,#01f 706px,#000fff 731px,#0009ff 827px,#0005ff 871px)"></i>
<i style="background:linear-gradient(90deg,#0005ff 0,#000aff 77px,#000fff 144px,#0012ff 185px,#0014ff 207px,#0017ff 227px,#001cff 246px,#001cff 266px,#0026ff 287px,#0026ff 307px,#0036ff 329px,#0038ff 348px,#0048ff 358px,#0064ff 372px,#0078ff 390px,#008dff 397px,#00d7ff 415px,#00e3ff 421px,#00e3ff 449px,#00d7ff 455px,#00b2ff 464px,#0085ff 475px,#0075ff 482px,#0060ff 501px,#003cff 519px,#0036ff 530px,#03f 547px,#0024ff 567px,#0024ff 591px,#001aff 612px,#001aff 636px,#0014ff 659px,#0013ff 683px,#0010ff 707px,#000bff 797px,#0005ff 871px)"></i>
<i style="background:linear-gradient(90deg,#0005ff 0,#000cff 120px,#01f 186px,#0013ff 210px,#001aff 248px,#001bff 267px,#0023ff 288px,#0023ff 307px,#03f 329px,#0035ff 348px,#04f 358px,#005eff 371px,#0072ff 390px,#0085ff 397px,#00c9ff 414px,#00d6ff 420px,#00d7ff 430px,#00d7ff 449px,#0cf 455px,#00a1ff 466px,#007bff 476px,#006cff 484px,#005bff 501px,#0038ff 519px,#03f 531px,#0030ff 547px,#02f 567px,#02f 591px,#0018ff 613px,#0019ff 636px,#0013ff 659px,#0012ff 683px,#000fff 708px,#0005ff 871px)"></i>
<i style="background:linear-gradient(90deg,#0005ff 0,#000bff 123px,#01f 188px,#0014ff 227px,#0018ff 248px,#0019ff 268px,#0021ff 288px,#0021ff 308px,#0030ff 329px,#0032ff 348px,#0042ff 359px,#005aff 372px,#006bff 390px,#007dff 397px,#00beff 414px,#00cbff 421px,#00cbff 449px,#00beff 456px,#0074ff 476px,#06f 484px,#0056ff 501px,#0036ff 518px,#002fff 530px,#002dff 547px,#0020ff 567px,#001fff 592px,#0017ff 613px,#0017ff 637px,#01f 660px,#0010ff 685px,#0009ff 796px,#0005ff 871px)"></i>
<i style="background:linear-gradient(90deg,#0004ff 0,#000fff 185px,#0013ff 228px,#0016ff 249px,#0018ff 269px,#001eff 289px,#001fff 308px,#002dff 330px,#002fff 348px,#003dff 359px,#0056ff 373px,#0065ff 390px,#0079ff 398px,#00b0ff 413px,#00beff 420px,#00beff 434px,#00beff 449px,#00b3ff 456px,#08f 468px,#006dff 476px,#005fff 485px,#0051ff 501px,#0032ff 518px,#002cff 530px,#002aff 547px,#001dff 567px,#001cff 592px,#0015ff 614px,#0015ff 638px,#0010ff 662px,#000eff 689px,#0004ff 871px)"></i>
<i style="background:linear-gradient(90deg,#0004ff 0,#000eff 186px,#0012ff 229px,#0014ff 251px,#0017ff 271px,#001cff 291px,#001dff 309px,#0029ff 331px,#002bff 348px,#003aff 360px,#0051ff 374px,#0060ff 391px,#0074ff 399px,#00a0ff 411px,#00b1ff 419px,#00b3ff 430px,#00b2ff 450px,#00a6ff 457px,#0083ff 467px,#0068ff 475px,#005aff 484px,#004cff 500px,#002fff 518px,#0029ff 531px,#0026ff 548px,#001bff 568px,#001aff 593px,#0013ff 615px,#0013ff 639px,#000fff 664px,#0008ff 796px,#0004ff 871px)"></i>
<i style="background:linear-gradient(90deg,#0004ff 0,#000dff 186px,#0012ff 252px,#0016ff 274px,#0019ff 294px,#001cff 312px,#0026ff 331px,#0028ff 349px,#003dff 364px,#004eff 377px,#005bff 392px,#006fff 400px,#09f 412px,#00a6ff 420px,#00a6ff 450px,#09f 458px,#0063ff 474px,#0054ff 483px,#0045ff 501px,#002aff 519px,#0025ff 532px,#02f 549px,#0018ff 569px,#0017ff 594px,#0012ff 616px,#01f 640px,#000eff 667px,#0009ff 756px,#0004ff 871px)"></i>
<i style="background:linear-gradient(90deg,#0004ff 0,#000cff 187px,#0012ff 270px,#0017ff 292px,#0019ff 311px,#02f 332px,#0024ff 349px,#0047ff 377px,#0053ff 391px,#06f 400px,#0090ff 413px,#009bff 421px,#009bff 450px,#008eff 458px,#005eff 473px,#004eff 483px,#003dff 502px,#0024ff 521px,#001eff 550px,#0016ff 570px,#0015ff 594px,#0010ff 618px,#000eff 644px,#0007ff 799px,#0004ff 871px)"></i>
<i style="background:linear-gradient(90deg,#0004ff 0,#000bff 188px,#01f 272px,#0014ff 295px,#0018ff 315px,#001fff 334px,#0021ff 350px,#003fff 376px,#004bff 391px,#0063ff 402px,#08f 415px,#0090ff 423px,#008eff 451px,#007fff 459px,#0054ff 474px,#0045ff 484px,#0038ff 502px,#0021ff 521px,#001bff 551px,#0014ff 572px,#0012ff 596px,#000fff 621px,#0009ff 711px,#0004ff 871px)"></i>
<i style="background:linear-gradient(90deg,#0004ff 0,#000aff 190px,#0010ff 273px,#0014ff 313px,#001bff 334px,#001eff 351px,#0039ff 376px,#0043ff 391px,#005cff 403px,#007bff 415px,#0082ff 424px,#0080ff 451px,#0070ff 460px,#0047ff 476px,#003cff 487px,#0030ff 504px,#001dff 521px,#0017ff 552px,#01f 573px,#000fff 599px,#0008ff 711px,#0004ff 871px)"></i>
<i style="background:linear-gradient(90deg,#0004ff 0,#0009ff 225px,#0012ff 314px,#0017ff 336px,#001bff 353px,#0032ff 376px,#003cff 392px,#0053ff 403px,#006eff 416px,#0074ff 426px,#0072ff 451px,#0061ff 461px,#003fff 476px,#0034ff 488px,#002aff 504px,#0019ff 521px,#0013ff 553px,#000fff 576px,#0009ff 668px,#0004ff 871px)"></i>
<i style="background:linear-gradient(90deg,#0004ff 0,#0008ff 227px,#0010ff 315px,#0017ff 353px,#002cff 378px,#0035ff 393px,#004aff 404px,#005fff 415px,#0065ff 426px,#0062ff 452px,#0051ff 463px,#0036ff 476px,#002cff 491px,#0014ff 523px,#0010ff 555px,#0007ff 660px,#0004ff 871px)"></i>
<i style="background:linear-gradient(90deg,#0004ff 0,#0007ff 227px,#000dff 317px,#0013ff 354px,#0024ff 380px,#002eff 395px,#0052ff 416px,#0056ff 429px,#0054ff 452px,#0045ff 462px,#002dff 476px,#0010ff 524px,#000bff 583px,#0005ff 708px,#0004ff 871px)"></i>
<i style="background:linear-gradient(90deg,#0004ff 0,#0005ff 227px,#000bff 320px,#0010ff 356px,#001dff 383px,#0027ff 397px,#0042ff 417px,#0045ff 444px,#0040ff 456px,#02f 478px,#000dff 526px,#0005ff 662px,#0004ff 871px)"></i>
<i style="background:linear-gradient(90deg,#0003ff 0,#0004ff 226px,#000bff 352px,#001cff 396px,#03f 418px,#03f 453px,#0018ff 479px,#0009ff 529px,#0003ff 712px,#0003ff 871px)"></i>
<i style="background:linear-gradient(90deg,#0003ff 0,#0004ff 227px,#000aff 353px,#001aff 397px,#0030ff 418px,#002fff 453px,#0016ff 479px,#0008ff 530px,#0002ff 746px,#0003ff 871px)"></i>
<i style="background:linear-gradient(90deg,#0003ff 0,#0004ff 229px,#000aff 353px,#001aff 397px,#0030ff 418px,#002fff 453px,#0016ff 479px,#0008ff 530px,#0002ff 746px,#0003ff 871px)"></i>
<i style="background:linear-gradient(90deg,#0003ff 0,#0004ff 230px,#000aff 353px,#001aff 397px,#0030ff 418px,#002fff 453px,#0016ff 479px,#0008ff 530px,#0002ff 746px,#0003ff 871px)"></i>
<i style="background:linear-gradient(90deg,#0003ff 0,#0004ff 231px,#000aff 353px,#001aff 397px,#0030ff 418px,#002fff 453px,#0016ff 479px,#0008ff 530px,#0002ff 746px,#0003ff 871px)"></i>
<i style="background:linear-gradient(90deg,#0003ff 0,#0004ff 260px,#000bff 357px,#001aff 397px,#0030ff 418px,#002fff 453px,#0016ff 479px,#0008ff 530px,#0002ff 746px,#0003ff 871px)"></i>
<i style="background:linear-gradient(90deg,#0003ff 0,#0004ff 263px,#000bff 357px,#001aff 397px,#0030ff 418px,#002fff 453px,#0016ff 479px,#0008ff 530px,#0002ff 746px,#0003ff 871px)"></i>
<i style="background:linear-gradient(90deg,#0003ff 0,#0004ff 264px,#000bff 357px,#001aff 397px,#0030ff 418px,#002fff 453px,#0016ff 479px,#0008ff 530px,#0002ff 746px,#0003ff 871px)"></i>
<i style="background:linear-gradient(90deg,#0003ff 0,#0004ff 228px,#000aff 353px,#001aff 397px,#0030ff 418px,#002fff 453px,#0016ff 479px,#0008ff 530px,#0002ff 746px,#0003ff 871px)"></i>
<i style="background:linear-gradient(90deg,#0003ff 0,#0003ff 221px,#000aff 353px,#001aff 397px,#0030ff 418px,#002fff 453px,#0016ff 479px,#0008ff 530px,#0002ff 746px,#0003ff 871px)"></i>
<i class="a" style="background:linear-gradient(90deg,#0003ff 0,#0003ff 190px,#0009ff 350px,#001aff 396px,#0030ff 418px,#002fff 453px,#0016ff 479px,#0008ff 530px,#0002ff 746px,#0003ff 871px)"></i>
</div>
<svg width="1025" height="1117" viewBox="0 0 1025 1117">
<defs>
<linearGradient id="jet" x1="0" y1="0" x2="0" y2="1">
<stop offset="0" stop-color="#ff0000"/><stop offset="0.25" stop-color="#ffff00"/><stop offset="0.5" stop-color="#00ff00"/><stop offset="0.75" stop-color="#00ffff"/><stop offset="1" stop-color="#0000ff"/>
</linearGradient>
<clipPath id="clip1"><rect x="145.2" y="13.2" width="871" height="435.6"/></clipPath>
<clipPath id="clip2"><rect x="145.2" y="544.8" width="871" height="435.6"/></clipPath>
</defs>
<g clip-path="url(#clip1)"><path d="M188.55,449.8 L188.55,416.13 L199.44,416.13 L199.44,394.35 L221.21,394.35 L221.21,416.13 L242.99,416.13 L242.99,394.35 L264.76,394.35 L264.76,416.13 L286.54,416.13 L286.54,394.35 L308.31,394.35 L308.31,416.13 L330.09,416.13 L330.09,394.35 L351.86,394.35 L351.86,416.13 L373.64,416.13 L373.64,394.35 L395.41,394.35 L395.41,416.13 L417.19,416.13 L417.19,394.35 L438.96,394.35 L438.96,416.13 L460.74,416.13 L460.74,394.35 L482.51,394.35 L482.51,416.13 L504.29,416.13 L504.29,394.35 L526.06,394.35 L526.06,416.13 L547.84,416.13 L547.84,394.35 L569.61,394.35 L569.61,416.13 L591.39,416.13 L591.39,394.35 L613.16,394.35 L613.16,416.13 L634.94,416.13 L634.94,394.35 L656.71,394.35 L656.71,416.13 L678.49,416.13 L678.49,394.35 L700.26,394.35 L700.26,416.13 L722.04,416.13 L722.04,394.35 L743.81,394.35 L743.81,416.13 L765.59,416.13 L765.59,394.35 L787.36,394.35 L787.36,416.13 L809.14,416.13 L809.14,394.35 L830.91,394.35 L830.91,416.13 L852.69,416.13 L852.69,394.35 L874.46,394.35 L874.46,416.13 L896.24,416.13 L896.24,394.35 L918.01,394.35 L918.01,416.13 L939.79,416.13 L939.79,394.35 L961.56,394.35 L961.56,416.13 L972.45,416.13 L972.45,449.8 Z" fill="#000"/><path d="M574.85,40 L574.85,66.8 L575.4,66.8 L575.4,340 L574.6,340 L574.6,367 A5.7,5.7 0 0 0 586,367 L586,340 L585.2,340 L585.2,66.8 L585.75,66.8 L585.75,40 Z" fill="#000"/><circle cx="580.3" cy="-38.4" r="78.3" fill="#000"/><path d="M564.8,38.2 Q574.4,39.6 574.85,47.5 L585.75,47.5 Q586.2,39.6 595.8,38.2 Z" fill="#000"/></g><rect x="165.6" y="34.8" width="55.8" height="273.4" fill="url(#jet)" stroke="#fff" stroke-opacity="0.75" stroke-width="1"/><line x1="221.4" y1="34.8" x2="244" y2="34.8" stroke="#fff" stroke-width="2"/><text x="260.3" y="46.5" class="cb">686<tspan dx="6.9">V/m</tspan></text><line x1="221.4" y1="103.15" x2="244" y2="103.15" stroke="#fff" stroke-width="2"/><text x="260.3" y="114.85" class="cb">514.5<tspan dx="6.9">V/m</tspan></text><line x1="221.4" y1="171.5" x2="244" y2="171.5" stroke="#fff" stroke-width="2"/><text x="260.3" y="183.2" class="cb">343<tspan dx="6.9">V/m</tspan></text><line x1="221.4" y1="239.85" x2="244" y2="239.85" stroke="#fff" stroke-width="2"/><text x="260.3" y="251.55" class="cb">171.5<tspan dx="6.9">V/m</tspan></text><line x1="221.4" y1="308.2" x2="244" y2="308.2" stroke="#fff" stroke-width="2"/><text x="260.3" y="319.9" class="cb">0<tspan dx="6.9">V/m</tspan></text><line x1="124" y1="448.8" x2="145.2" y2="448.8" class="tk"/><text x="106.6" y="461.9" class="tl" text-anchor="end">0</text><line x1="130.7" y1="394.35" x2="145.2" y2="394.35" class="tk"/><line x1="124" y1="339.9" x2="145.2" y2="339.9" class="tk"/><text x="106.6" y="353" class="tl" text-anchor="end">1</text><line x1="130.7" y1="285.45" x2="145.2" y2="285.45" class="tk"/><line x1="124" y1="231" x2="145.2" y2="231" class="tk"/><text x="106.6" y="244.1" class="tl" text-anchor="end">2</text><line x1="130.7" y1="176.55" x2="145.2" y2="176.55" class="tk"/><line x1="124" y1="122.1" x2="145.2" y2="122.1" class="tk"/><text x="106.6" y="135.2" class="tl" text-anchor="end">3</text><line x1="130.7" y1="67.65" x2="145.2" y2="67.65" class="tk"/><line x1="124" y1="13.2" x2="145.2" y2="13.2" class="tk"/><text x="106.6" y="26.3" class="tl" text-anchor="end">4</text><line x1="145.2" y1="448.8" x2="145.2" y2="469.4" class="tk"/><line x1="254.07" y1="448.8" x2="254.07" y2="462.4" class="tk"/><line x1="362.95" y1="448.8" x2="362.95" y2="469.4" class="tk"/><line x1="471.82" y1="448.8" x2="471.82" y2="462.4" class="tk"/><line x1="580.7" y1="448.8" x2="580.7" y2="469.4" class="tk"/><line x1="689.58" y1="448.8" x2="689.58" y2="462.4" class="tk"/><line x1="798.45" y1="448.8" x2="798.45" y2="469.4" class="tk"/><line x1="907.33" y1="448.8" x2="907.33" y2="462.4" class="tk"/><line x1="1016.2" y1="448.8" x2="1016.2" y2="469.4" class="tk"/><rect x="145.2" y="13.2" width="871" height="435.6" fill="none" stroke="#000" stroke-width="2"/><text transform="translate(45.4,283.1) rotate(-90)" class="al"><tspan x="2.5" class="it" font-size="38">y</tspan><tspan x="28.3">(cm)</tspan></text>
<g clip-path="url(#clip2)"><path d="M188.55,981.4 L188.55,947.73 L199.44,947.73 L199.44,925.95 L221.21,925.95 L221.21,947.73 L242.99,947.73 L242.99,925.95 L264.76,925.95 L264.76,947.73 L286.54,947.73 L286.54,925.95 L308.31,925.95 L308.31,947.73 L330.09,947.73 L330.09,925.95 L351.86,925.95 L351.86,947.73 L373.64,947.73 L373.64,925.95 L395.41,925.95 L395.41,947.73 L417.19,947.73 L417.19,925.95 L438.96,925.95 L438.96,947.73 L460.74,947.73 L460.74,925.95 L482.51,925.95 L482.51,947.73 L504.29,947.73 L504.29,925.95 L526.06,925.95 L526.06,947.73 L547.84,947.73 L547.84,925.95 L569.61,925.95 L569.61,947.73 L591.39,947.73 L591.39,925.95 L613.16,925.95 L613.16,947.73 L634.94,947.73 L634.94,925.95 L656.71,925.95 L656.71,947.73 L678.49,947.73 L678.49,925.95 L700.26,925.95 L700.26,947.73 L722.04,947.73 L722.04,925.95 L743.81,925.95 L743.81,947.73 L765.59,947.73 L765.59,925.95 L787.36,925.95 L787.36,947.73 L809.14,947.73 L809.14,925.95 L830.91,925.95 L830.91,947.73 L852.69,947.73 L852.69,925.95 L874.46,925.95 L874.46,947.73 L896.24,947.73 L896.24,925.95 L918.01,925.95 L918.01,947.73 L939.79,947.73 L939.79,925.95 L961.56,925.95 L961.56,947.73 L972.45,947.73 L972.45,981.4 Z" fill="#000"/><path d="M575.1,544.8 L575.1,898.9 A5.4,5.4 0 0 0 585.9,898.9 L585.9,544.8 Z" fill="#000"/></g><rect x="165.6" y="566.4" width="55.8" height="273.4" fill="url(#jet)" stroke="#fff" stroke-opacity="0.75" stroke-width="1"/><line x1="221.4" y1="566.4" x2="244" y2="566.4" stroke="#fff" stroke-width="2"/><text x="260.3" y="578.1" class="cb">668<tspan dx="6.9">V/m</tspan></text><line x1="221.4" y1="634.75" x2="244" y2="634.75" stroke="#fff" stroke-width="2"/><text x="260.3" y="646.45" class="cb">501<tspan dx="6.9">V/m</tspan></text><line x1="221.4" y1="703.1" x2="244" y2="703.1" stroke="#fff" stroke-width="2"/><text x="260.3" y="714.8" class="cb">334<tspan dx="6.9">V/m</tspan></text><line x1="221.4" y1="771.45" x2="244" y2="771.45" stroke="#fff" stroke-width="2"/><text x="260.3" y="783.15" class="cb">167<tspan dx="6.9">V/m</tspan></text><line x1="221.4" y1="839.8" x2="244" y2="839.8" stroke="#fff" stroke-width="2"/><text x="260.3" y="851.5" class="cb">0<tspan dx="6.9">V/m</tspan></text><line x1="124" y1="980.4" x2="145.2" y2="980.4" class="tk"/><text x="106.6" y="993.5" class="tl" text-anchor="end">0</text><line x1="130.7" y1="925.95" x2="145.2" y2="925.95" class="tk"/><line x1="124" y1="871.5" x2="145.2" y2="871.5" class="tk"/><text x="106.6" y="884.6" class="tl" text-anchor="end">1</text><line x1="130.7" y1="817.05" x2="145.2" y2="817.05" class="tk"/><line x1="124" y1="762.6" x2="145.2" y2="762.6" class="tk"/><text x="106.6" y="775.7" class="tl" text-anchor="end">2</text><line x1="130.7" y1="708.15" x2="145.2" y2="708.15" class="tk"/><line x1="124" y1="653.7" x2="145.2" y2="653.7" class="tk"/><text x="106.6" y="666.8" class="tl" text-anchor="end">3</text><line x1="130.7" y1="599.25" x2="145.2" y2="599.25" class="tk"/><line x1="124" y1="544.8" x2="145.2" y2="544.8" class="tk"/><text x="106.6" y="557.9" class="tl" text-anchor="end">4</text><line x1="145.2" y1="980.4" x2="145.2" y2="1001" class="tk"/><text transform="translate(133.95,1044.1) scale(1.34,1)" class="tl" text-anchor="middle">−</text><text x="160.2" y="1042.2" class="tl" text-anchor="middle">4</text><line x1="254.07" y1="980.4" x2="254.07" y2="994" class="tk"/><line x1="362.95" y1="980.4" x2="362.95" y2="1001" class="tk"/><text transform="translate(351.7,1044.1) scale(1.34,1)" class="tl" text-anchor="middle">−</text><text x="377.95" y="1042.2" class="tl" text-anchor="middle">2</text><line x1="471.82" y1="980.4" x2="471.82" y2="994" class="tk"/><line x1="580.7" y1="980.4" x2="580.7" y2="1001" class="tk"/><text x="580.7" y="1042.2" class="tl" text-anchor="middle">0</text><line x1="689.58" y1="980.4" x2="689.58" y2="994" class="tk"/><line x1="798.45" y1="980.4" x2="798.45" y2="1001" class="tk"/><text x="798.45" y="1042.2" class="tl" text-anchor="middle">2</text><line x1="907.33" y1="980.4" x2="907.33" y2="994" class="tk"/><line x1="1016.2" y1="980.4" x2="1016.2" y2="1001" class="tk"/><text x="1016.2" y="1042.2" class="tl" text-anchor="middle">4</text><rect x="145.2" y="544.8" width="871" height="435.6" fill="none" stroke="#000" stroke-width="2"/><text transform="translate(45.4,814.7) rotate(-90)" class="al"><tspan x="2.5" class="it" font-size="38">y</tspan><tspan x="28.3">(cm)</tspan></text>
<text y="1108" class="al"><tspan x="527.5" class="it" font-size="44">x</tspan><tspan x="558.3">(cm)</tspan></text>
</svg>
</body></html>
